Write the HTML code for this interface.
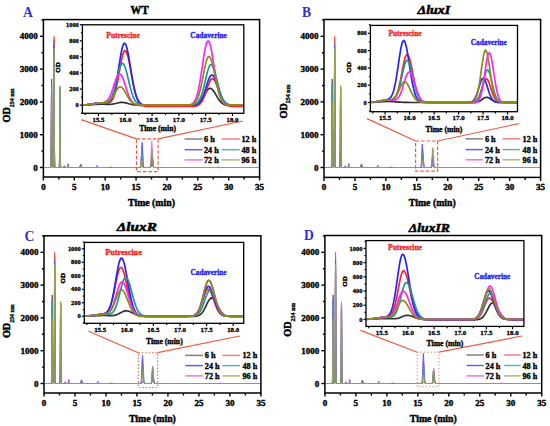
<!DOCTYPE html>
<html><head><meta charset="utf-8"><style>
html,body{margin:0;padding:0;background:#fff;}
body{width:550px;height:426px;overflow:hidden;}
svg{display:block;font-family:"Liberation Serif", serif;}
</style></head><body>
<svg width="550" height="426" viewBox="0 0 550 426">
<rect width="550" height="426" fill="#fff"/>
<polyline points="43.4,167.5 46.49,167.5 49.58,167.5 50.63,167.47 50.73,167.38 50.82,167.05 50.92,166 51.02,163.27 51.12,157.29 51.22,146.52 51.32,130.78 51.42,112.72 51.52,97.86 51.62,92.06 51.71,97.86 51.81,112.72 51.91,130.78 52.01,146.52 52.11,157.29 52.21,163.27 52.31,166 52.41,167.05 52.51,167.38 52.6,167.47 52.67,167.49 53.04,167.46 53.14,167.32 53.23,166.8 53.33,165.19 53.43,160.96 53.53,151.74 53.63,135.13 53.73,110.82 53.83,82.95 53.93,60.01 54.02,51.06 54.12,60.01 54.22,82.95 54.32,110.82 54.42,135.13 54.52,151.74 54.62,160.96 54.72,165.19 54.82,166.8 54.91,167.32 55.01,167.46 55.75,167.5 58.84,167.5 59.09,167.47 59.18,167.38 59.26,167.02 59.35,165.91 59.44,162.99 59.52,156.62 59.61,145.16 59.7,128.38 59.78,109.15 59.87,93.32 59.95,87.14 60.04,93.32 60.13,109.15 60.21,128.38 60.3,145.16 60.39,156.62 60.47,162.99 60.56,165.91 60.65,167.02 60.73,167.38 60.82,167.47 61.93,167.5 62.43,167.5 62.62,167.5 62.82,167.49 63.02,167.47 63.22,167.41 63.41,167.28 63.61,167.04 63.81,166.7 64.01,166.31 64.2,165.99 64.4,165.86 64.6,165.99 64.8,166.31 65,166.7 65.02,166.75 65.19,167.04 65.39,167.28 65.59,167.41 65.79,167.47 65.98,167.49 66.18,167.5 66.38,167.5 68.11,167.5 71.2,167.5 74.29,167.5 77.37,167.5 80.46,167.5 83.55,167.5 86.64,167.5 89.73,167.5 92.82,167.5 95.91,167.5 98.99,167.5 102.08,167.5 105.17,167.5 108.26,167.5 111.35,167.5 114.44,167.5 117.53,167.5 120.61,167.5 123.7,167.5 126.79,167.5 129.88,167.5 132.97,167.5 136.06,167.5 139.15,167.5 139.35,167.5 139.57,167.48 139.79,167.42 140.02,167.25 140.24,166.79 140.46,165.78 140.68,163.96 140.91,161.31 141.13,158.26 141.35,155.75 141.57,154.77 141.8,155.75 142.02,158.26 142.23,161.22 142.24,161.31 142.46,163.96 142.69,165.78 142.91,166.79 143.13,167.25 143.35,167.42 143.57,167.48 143.8,167.5 145.32,167.5 148.41,167.5 149.54,167.49 149.76,167.46 149.99,167.34 150.21,166.98 150.43,166.03 150.65,163.95 150.88,160.2 151.1,154.73 151.32,148.45 151.5,144.09 151.54,143.28 151.77,141.26 151.99,143.28 152.21,148.45 152.43,154.73 152.66,160.2 152.88,163.95 153.1,166.03 153.32,166.98 153.54,167.34 153.77,167.46 153.99,167.49 154.59,167.5 157.68,167.5 160.77,167.5 163.85,167.5 166.94,167.5 170.03,167.5 173.12,167.5 176.21,167.5 179.3,167.5 182.39,167.5 185.47,167.5 188.56,167.5 191.65,167.5 194.74,167.5 197.83,167.5 200.92,167.5 204.01,167.5 207.09,167.5 210.18,167.5 213.27,167.5 216.36,167.5 216.85,167.5 217.05,167.5 217.25,167.5 217.45,167.48 217.64,167.45 217.84,167.39 218.04,167.27 218.24,167.1 218.44,166.9 218.63,166.74 218.83,166.68 219.03,166.74 219.23,166.9 219.42,167.1 219.45,167.12 219.62,167.27 219.82,167.39 220.02,167.45 220.21,167.48 220.41,167.5 220.61,167.5 220.81,167.5 222.54,167.5 225.63,167.5 228.71,167.5 231.8,167.5 234.89,167.5 237.98,167.5 241.07,167.5 244.16,167.5 247.25,167.5 250.33,167.5 253.42,167.5 256.51,167.5 259.6,167.5" fill="none" stroke="#ff50ff" stroke-width="0.85" stroke-linejoin="round" />
<polyline points="43.4,167.5 46.49,167.5 49.58,167.5 50.63,167.47 50.73,167.36 50.82,166.97 50.92,165.74 51.02,162.53 51.12,155.51 51.22,142.88 51.32,124.39 51.42,103.19 51.52,85.75 51.62,78.94 51.71,85.75 51.81,103.19 51.91,124.39 52.01,142.88 52.11,155.51 52.21,162.53 52.31,165.74 52.41,166.97 52.51,167.36 52.6,167.47 52.67,167.49 53.04,167.46 53.14,167.3 53.23,166.74 53.33,164.96 53.43,160.32 53.53,150.19 53.63,131.93 53.73,105.23 53.83,74.61 53.93,49.41 54.02,39.58 54.12,49.41 54.22,74.61 54.32,105.23 54.42,131.93 54.52,150.19 54.62,160.32 54.72,164.96 54.82,166.74 54.91,167.3 55.01,167.46 55.75,167.5 58.84,167.5 59.09,167.47 59.18,167.38 59.26,167.02 59.35,165.91 59.44,162.99 59.52,156.62 59.61,145.16 59.7,128.38 59.78,109.15 59.87,93.32 59.95,87.14 60.04,93.32 60.13,109.15 60.21,128.38 60.3,145.16 60.39,156.62 60.47,162.99 60.56,165.91 60.65,167.02 60.73,167.38 60.82,167.47 61.93,167.5 65.02,167.5 66.63,167.5 66.77,167.49 66.92,167.48 67.07,167.42 67.22,167.28 67.37,166.97 67.52,166.41 67.66,165.58 67.81,164.64 67.96,163.87 68.11,163.56 68.26,163.87 68.41,164.64 68.55,165.58 68.7,166.41 68.85,166.97 69,167.28 69.15,167.42 69.29,167.48 69.44,167.49 69.59,167.5 71.2,167.5 74.29,167.5 77.37,167.5 78.8,167.5 78.99,167.5 79.19,167.49 79.39,167.46 79.59,167.39 79.78,167.23 79.98,166.95 80.18,166.54 80.38,166.07 80.46,165.88 80.57,165.68 80.77,165.53 80.97,165.68 81.17,166.07 81.36,166.54 81.56,166.95 81.76,167.23 81.96,167.39 82.16,167.46 82.35,167.49 82.55,167.5 82.75,167.5 83.55,167.5 86.64,167.5 89.73,167.5 92.82,167.5 95.91,167.5 98.99,167.5 102.08,167.5 105.17,167.5 108.26,167.5 111.35,167.5 114.44,167.5 117.53,167.5 120.61,167.5 123.7,167.5 126.79,167.5 129.88,167.5 132.97,167.5 136.06,167.5 139.15,167.5 139.64,167.5 139.86,167.5 140.08,167.49 140.31,167.48 140.53,167.44 140.75,167.37 140.97,167.23 141.2,167.02 141.42,166.79 141.64,166.59 141.86,166.52 142.09,166.59 142.23,166.71 142.31,166.79 142.53,167.02 142.75,167.23 142.98,167.37 143.2,167.44 143.42,167.48 143.64,167.49 143.87,167.5 144.09,167.5 145.32,167.5 148.41,167.5 149.78,167.5 150.01,167.49 150.23,167.46 150.45,167.36 150.67,167.11 150.89,166.57 151.12,165.58 151.34,164.15 151.5,162.95 151.56,162.5 151.78,161.14 152.01,160.61 152.23,161.14 152.45,162.5 152.67,164.15 152.9,165.58 153.12,166.57 153.34,167.11 153.56,167.36 153.79,167.46 154.01,167.49 154.23,167.5 154.59,167.5 157.68,167.5 160.77,167.5 163.85,167.5 166.94,167.5 170.03,167.5 173.12,167.5 176.21,167.5 179.3,167.5 182.39,167.5 185.47,167.5 188.56,167.5 191.65,167.5 194.74,167.5 197.83,167.5 200.92,167.5 204.01,167.5 207.09,167.5 210.18,167.5 213.27,167.5 216.36,167.5 219.45,167.5 222.54,167.5 225.63,167.5 228.71,167.5 231.8,167.5 234.89,167.5 237.98,167.5 241.07,167.5 244.16,167.5 247.25,167.5 250.33,167.5 253.42,167.5 256.51,167.5 259.6,167.5" fill="none" stroke="#505050" stroke-width="0.85" stroke-linejoin="round" />
<polyline points="43.4,167.5 46.49,167.5 49.58,167.5 50.44,167.48 50.54,167.39 50.64,167.08 50.74,166.1 50.84,163.54 50.94,157.96 51.03,147.89 51.13,133.17 51.23,116.29 51.33,102.4 51.43,96.98 51.53,102.4 51.63,116.29 51.73,133.17 51.83,147.89 51.92,157.96 52.02,163.54 52.12,166.1 52.22,167.08 52.32,167.39 52.42,167.48 52.67,167.5 53.04,167.46 53.14,167.3 53.23,166.72 53.33,164.9 53.43,160.14 53.53,149.74 53.63,131.02 53.73,103.64 53.83,72.23 53.93,46.39 54.02,36.3 54.12,46.39 54.22,72.23 54.32,103.64 54.42,131.02 54.52,149.74 54.62,160.14 54.72,164.9 54.82,166.72 54.91,167.3 55.01,167.46 55.75,167.5 58.84,167.5 59.09,167.47 59.18,167.38 59.26,167.02 59.35,165.91 59.44,162.99 59.52,156.62 59.61,145.16 59.7,128.38 59.78,109.15 59.87,93.32 59.95,87.14 60.04,93.32 60.13,109.15 60.21,128.38 60.3,145.16 60.39,156.62 60.47,162.99 60.56,165.91 60.65,167.02 60.73,167.38 60.82,167.47 61.93,167.5 62.43,167.5 62.62,167.5 62.82,167.49 63.02,167.47 63.22,167.43 63.41,167.32 63.61,167.14 63.81,166.86 64.01,166.55 64.2,166.29 64.4,166.19 64.6,166.29 64.8,166.55 65,166.86 65.02,166.9 65.19,167.14 65.39,167.32 65.59,167.43 65.79,167.47 65.98,167.49 66.18,167.5 66.38,167.5 68.11,167.5 71.2,167.5 74.29,167.5 77.37,167.5 78.8,167.5 78.99,167.49 79.19,167.48 79.39,167.43 79.59,167.3 79.78,167.01 79.98,166.5 80.18,165.74 80.38,164.88 80.46,164.53 80.57,164.17 80.77,163.89 80.97,164.17 81.17,164.88 81.36,165.74 81.56,166.5 81.76,167.01 81.96,167.3 82.16,167.43 82.35,167.48 82.55,167.49 82.75,167.5 83.55,167.5 86.64,167.5 89.73,167.5 92.82,167.5 95.91,167.5 98.99,167.5 102.08,167.5 105.17,167.5 108.26,167.5 111.35,167.5 114.44,167.5 117.53,167.5 120.61,167.5 123.7,167.5 126.79,167.5 129.88,167.5 132.97,167.5 136.06,167.5 139.15,167.5 139.98,167.49 140.2,167.47 140.42,167.37 140.65,167.07 140.87,166.28 141.09,164.56 141.31,161.46 141.54,156.93 141.76,151.73 141.98,147.46 142.2,145.79 142.23,145.82 142.43,147.46 142.65,151.73 142.87,156.93 143.09,161.46 143.32,164.56 143.54,166.28 143.76,167.07 143.98,167.37 144.2,167.47 144.43,167.49 145.32,167.5 148.41,167.5 150.05,167.5 150.27,167.48 150.49,167.44 150.72,167.29 150.94,166.89 151.16,166.04 151.38,164.49 151.5,163.37 151.61,162.23 151.83,159.64 152.05,157.51 152.27,156.68 152.49,157.51 152.72,159.64 152.94,162.23 153.16,164.49 153.38,166.04 153.61,166.89 153.83,167.29 154.05,167.44 154.27,167.48 154.5,167.5 154.59,167.5 157.68,167.5 160.77,167.5 163.85,167.5 166.94,167.5 170.03,167.5 173.12,167.5 176.21,167.5 179.3,167.5 182.39,167.5 185.47,167.5 188.56,167.5 191.65,167.5 194.74,167.5 197.83,167.5 200.92,167.5 204.01,167.5 207.09,167.5 210.18,167.5 213.27,167.5 216.36,167.5 219.45,167.5 222.54,167.5 225.63,167.5 228.71,167.5 231.8,167.5 234.89,167.5 237.98,167.5 241.07,167.5 244.16,167.5 247.25,167.5 250.33,167.5 253.42,167.5 256.51,167.5 259.6,167.5" fill="none" stroke="#ff4a4a" stroke-width="0.85" stroke-linejoin="round" />
<polyline points="43.4,167.5 46.49,167.5 49.58,167.5 50.63,167.47 50.73,167.37 50.82,167 50.92,165.84 51.02,162.8 51.12,156.18 51.22,144.24 51.32,126.79 51.42,106.76 51.52,90.29 51.62,83.86 51.71,90.29 51.81,106.76 51.91,126.79 52.01,144.24 52.11,156.18 52.21,162.8 52.31,165.84 52.41,167 52.51,167.37 52.6,167.47 52.67,167.49 53.04,167.46 53.14,167.31 53.23,166.76 53.33,165.06 53.43,160.6 53.53,150.85 53.63,133.3 53.73,107.63 53.83,78.18 53.93,53.96 54.02,44.5 54.12,53.96 54.22,78.18 54.32,107.63 54.42,133.3 54.52,150.85 54.62,160.6 54.72,165.06 54.82,166.76 54.91,167.31 55.01,167.46 55.75,167.5 58.84,167.5 59.09,167.47 59.18,167.38 59.26,167.02 59.35,165.91 59.44,162.99 59.52,156.62 59.61,145.16 59.7,128.38 59.78,109.15 59.87,93.32 59.95,87.14 60.04,93.32 60.13,109.15 60.21,128.38 60.3,145.16 60.39,156.62 60.47,162.99 60.56,165.91 60.65,167.02 60.73,167.38 60.82,167.47 61.93,167.5 62.43,167.5 62.62,167.5 62.82,167.49 63.02,167.47 63.22,167.43 63.41,167.32 63.61,167.14 63.81,166.86 64.01,166.55 64.2,166.29 64.4,166.19 64.6,166.29 64.8,166.55 65,166.86 65.02,166.9 65.19,167.14 65.39,167.32 65.59,167.43 65.79,167.47 65.98,167.49 66.18,167.5 66.38,167.5 68.11,167.5 71.2,167.5 74.29,167.5 77.37,167.5 78.8,167.5 78.99,167.5 79.19,167.48 79.39,167.44 79.59,167.33 79.78,167.1 79.98,166.68 80.18,166.06 80.38,165.36 80.46,165.07 80.57,164.77 80.77,164.55 80.97,164.77 81.17,165.36 81.36,166.06 81.56,166.68 81.76,167.1 81.96,167.33 82.16,167.44 82.35,167.48 82.55,167.5 82.75,167.5 83.55,167.5 86.64,167.5 89.73,167.5 92.82,167.5 95.16,167.5 95.36,167.5 95.56,167.49 95.76,167.45 95.91,167.4 95.96,167.37 96.15,167.19 96.35,166.86 96.55,166.38 96.75,165.83 96.94,165.38 97.14,165.2 97.34,165.38 97.54,165.83 97.73,166.38 97.93,166.86 98.13,167.19 98.33,167.37 98.52,167.45 98.72,167.49 98.92,167.5 98.99,167.5 99.12,167.5 102.08,167.5 105.17,167.5 108.26,167.5 111.35,167.5 114.44,167.5 117.53,167.5 120.61,167.5 123.7,167.5 126.79,167.5 129.88,167.5 132.97,167.5 136.06,167.5 139.15,167.5 139.92,167.49 140.14,167.46 140.36,167.35 140.58,167 140.81,166.08 141.03,164.08 141.25,160.48 141.47,155.21 141.7,149.16 141.92,144.19 142.14,142.24 142.23,142.59 142.36,144.19 142.59,149.16 142.81,155.21 143.03,160.48 143.25,164.08 143.48,166.08 143.7,167 143.92,167.35 144.14,167.46 144.37,167.49 145.32,167.5 148.41,167.5 149.99,167.5 150.21,167.48 150.43,167.43 150.65,167.26 150.88,166.81 151.1,165.84 151.32,164.08 151.5,162.06 151.54,161.51 151.77,158.57 151.99,156.15 152.21,155.2 152.43,156.15 152.66,158.57 152.88,161.51 153.1,164.08 153.32,165.84 153.54,166.81 153.77,167.26 153.99,167.43 154.21,167.48 154.43,167.5 154.59,167.5 157.68,167.5 160.77,167.5 163.85,167.5 166.94,167.5 170.03,167.5 173.12,167.5 176.21,167.5 179.3,167.5 182.39,167.5 185.47,167.5 188.56,167.5 191.65,167.5 194.74,167.5 197.83,167.5 200.92,167.5 204.01,167.5 207.09,167.5 210.18,167.5 213.27,167.5 216.36,167.5 219.45,167.5 222.54,167.5 225.63,167.5 228.71,167.5 231.8,167.5 234.89,167.5 237.98,167.5 241.07,167.5 244.16,167.5 247.25,167.5 250.33,167.5 253.42,167.5 256.51,167.5 259.6,167.5" fill="none" stroke="#4a4aff" stroke-width="0.85" stroke-linejoin="round" />
<polyline points="43.4,167.5 46.49,167.5 49.58,167.5 50.63,167.47 50.73,167.37 50.82,167.01 50.92,165.87 51.02,162.9 51.12,156.4 51.22,144.7 51.32,127.59 51.42,107.96 51.52,91.8 51.62,85.5 51.71,91.8 51.81,107.96 51.91,127.59 52.01,144.7 52.11,156.4 52.21,162.9 52.31,165.87 52.41,167.01 52.51,167.37 52.6,167.47 52.67,167.49 53.04,167.46 53.14,167.32 53.23,166.78 53.33,165.12 53.43,160.78 53.53,151.3 53.63,134.21 53.73,109.23 53.83,80.57 53.93,56.98 54.02,47.78 54.12,56.98 54.22,80.57 54.32,109.23 54.42,134.21 54.52,151.3 54.62,160.78 54.72,165.12 54.82,166.78 54.91,167.32 55.01,167.46 55.75,167.5 58.84,167.5 59.09,167.47 59.18,167.38 59.26,167.02 59.35,165.91 59.44,162.99 59.52,156.62 59.61,145.16 59.7,128.38 59.78,109.15 59.87,93.32 59.95,87.14 60.04,93.32 60.13,109.15 60.21,128.38 60.3,145.16 60.39,156.62 60.47,162.99 60.56,165.91 60.65,167.02 60.73,167.38 60.82,167.47 61.93,167.5 65.02,167.5 68.11,167.5 71.2,167.5 74.29,167.5 77.37,167.5 78.8,167.5 78.99,167.5 79.19,167.49 79.39,167.45 79.59,167.37 79.78,167.19 79.98,166.86 80.18,166.38 80.38,165.83 80.46,165.61 80.57,165.38 80.77,165.2 80.97,165.38 81.17,165.83 81.36,166.38 81.56,166.86 81.76,167.19 81.96,167.37 82.16,167.45 82.35,167.49 82.55,167.5 82.75,167.5 83.55,167.5 86.64,167.5 89.73,167.5 92.82,167.5 95.91,167.5 98.99,167.5 102.08,167.5 105.17,167.5 108.26,167.5 111.35,167.5 114.44,167.5 117.53,167.5 120.61,167.5 123.7,167.5 126.79,167.5 129.88,167.5 132.97,167.5 136.06,167.5 139.15,167.5 139.68,167.49 139.91,167.47 140.13,167.4 140.35,167.16 140.57,166.54 140.8,165.19 141.02,162.75 141.24,159.18 141.46,155.09 141.68,151.73 141.91,150.41 142.13,151.73 142.23,153.13 142.35,155.09 142.57,159.18 142.8,162.75 143.02,165.19 143.24,166.54 143.46,167.16 143.69,167.4 143.91,167.47 144.13,167.49 145.32,167.5 148.41,167.5 149.89,167.49 150.12,167.47 150.34,167.4 150.56,167.17 150.78,166.57 151.01,165.26 151.23,162.89 151.45,159.44 151.5,158.57 151.67,155.47 151.9,152.21 152.12,150.94 152.34,152.21 152.56,155.47 152.78,159.44 153.01,162.89 153.23,165.26 153.45,166.57 153.67,167.17 153.9,167.4 154.12,167.47 154.34,167.49 154.59,167.5 157.68,167.5 160.77,167.5 163.85,167.5 166.94,167.5 170.03,167.5 173.12,167.5 176.21,167.5 179.3,167.5 182.39,167.5 185.47,167.5 188.56,167.5 191.65,167.5 194.74,167.5 197.83,167.5 200.92,167.5 204.01,167.5 207.09,167.5 210.18,167.5 213.27,167.5 216.36,167.5 219.45,167.5 222.54,167.5 225.63,167.5 228.71,167.5 231.8,167.5 234.89,167.5 237.98,167.5 241.07,167.5 244.16,167.5 247.25,167.5 250.33,167.5 253.42,167.5 256.51,167.5 259.6,167.5" fill="none" stroke="#40a4a4" stroke-width="0.85" stroke-linejoin="round" />
<polyline points="43.4,167.5 46.49,167.5 49.58,167.5 50.63,167.48 50.73,167.4 50.82,167.11 50.92,166.2 51.02,163.82 51.12,158.62 51.22,149.26 51.32,135.57 51.42,119.86 51.52,106.94 51.62,101.9 51.71,106.94 51.81,119.86 51.91,135.57 52.01,149.26 52.11,158.62 52.21,163.82 52.31,166.2 52.41,167.11 52.51,167.4 52.6,167.48 52.67,167.49 53.04,167.46 53.14,167.32 53.23,166.79 53.33,165.16 53.43,160.87 53.53,151.52 53.63,134.67 53.73,110.02 53.83,81.76 53.93,58.5 54.02,49.42 54.12,58.5 54.22,81.76 54.32,110.02 54.42,134.67 54.52,151.52 54.62,160.87 54.72,165.16 54.82,166.79 54.91,167.32 55.01,167.46 55.75,167.5 58.84,167.5 59.09,167.47 59.18,167.37 59.26,167.01 59.35,165.87 59.44,162.9 59.52,156.4 59.61,144.7 59.7,127.59 59.78,107.96 59.87,91.8 59.95,85.5 60.04,91.8 60.13,107.96 60.21,127.59 60.3,144.7 60.39,156.4 60.47,162.9 60.56,165.87 60.65,167.01 60.73,167.37 60.82,167.47 61.93,167.5 65.02,167.5 68.11,167.5 71.2,167.5 74.29,167.5 77.37,167.5 80.46,167.5 83.55,167.5 86.64,167.5 89.73,167.5 92.82,167.5 95.91,167.5 98.99,167.5 102.08,167.5 105.17,167.5 107.77,167.5 108.06,167.5 108.26,167.5 108.36,167.5 108.66,167.48 108.95,167.45 109.25,167.39 109.54,167.27 109.84,167.1 110.14,166.9 110.43,166.74 110.73,166.68 111.03,166.74 111.32,166.9 111.35,166.92 111.62,167.1 111.92,167.27 112.21,167.39 112.51,167.45 112.81,167.48 113.1,167.5 113.4,167.5 113.7,167.5 114.44,167.5 117.53,167.5 120.61,167.5 123.7,167.5 126.79,167.5 129.88,167.5 132.97,167.5 136.06,167.5 139.15,167.5 139.44,167.5 139.66,167.49 139.89,167.46 140.11,167.35 140.33,167.08 140.55,166.49 140.78,165.42 141,163.86 141.22,162.07 141.44,160.6 141.67,160.02 141.89,160.6 142.11,162.07 142.23,163.06 142.33,163.86 142.56,165.42 142.78,166.49 143,167.08 143.22,167.35 143.45,167.46 143.67,167.49 143.89,167.5 145.32,167.5 148.41,167.5 149.65,167.49 149.87,167.47 150.09,167.38 150.31,167.11 150.54,166.38 150.76,164.81 150.98,161.97 151.2,157.82 151.43,153.07 151.5,151.58 151.65,149.15 151.87,147.62 152.09,149.15 152.32,153.07 152.54,157.82 152.76,161.97 152.98,164.81 153.2,166.38 153.43,167.11 153.65,167.38 153.87,167.47 154.09,167.49 154.59,167.5 157.68,167.5 160.77,167.5 163.85,167.5 166.94,167.5 170.03,167.5 173.12,167.5 176.21,167.5 179.3,167.5 182.39,167.5 185.47,167.5 188.56,167.5 191.65,167.5 194.74,167.5 197.83,167.5 200.92,167.5 204.01,167.5 207.09,167.5 210.18,167.5 213.27,167.5 216.36,167.5 219.45,167.5 222.54,167.5 225.63,167.5 228.71,167.5 231.8,167.5 234.89,167.5 237.98,167.5 241.07,167.5 244.16,167.5 247.25,167.5 250.33,167.5 253.42,167.5 256.51,167.5 259.6,167.5" fill="none" stroke="#a2a248" stroke-width="0.85" stroke-linejoin="round" />
<rect x="43.4" y="19.6" width="216.2" height="157.4" fill="none" stroke="#000" stroke-width="1.5"/>
<line x1="43.4" y1="177" x2="43.4" y2="180.5" stroke="#000" stroke-width="1.4" />
<text x="43.4" y="189.5" font-size="9" text-anchor="middle" fill="#000" stroke="#000" stroke-width="0.4" font-weight="bold" font-style="normal" >0</text>
<line x1="58.84" y1="177" x2="58.84" y2="179.5" stroke="#000" stroke-width="1.4" />
<line x1="74.29" y1="177" x2="74.29" y2="180.5" stroke="#000" stroke-width="1.4" />
<text x="74.29" y="189.5" font-size="9" text-anchor="middle" fill="#000" stroke="#000" stroke-width="0.4" font-weight="bold" font-style="normal" >5</text>
<line x1="89.73" y1="177" x2="89.73" y2="179.5" stroke="#000" stroke-width="1.4" />
<line x1="105.17" y1="177" x2="105.17" y2="180.5" stroke="#000" stroke-width="1.4" />
<text x="105.17" y="189.5" font-size="9" text-anchor="middle" fill="#000" stroke="#000" stroke-width="0.4" font-weight="bold" font-style="normal" >10</text>
<line x1="120.61" y1="177" x2="120.61" y2="179.5" stroke="#000" stroke-width="1.4" />
<line x1="136.06" y1="177" x2="136.06" y2="180.5" stroke="#000" stroke-width="1.4" />
<text x="136.06" y="189.5" font-size="9" text-anchor="middle" fill="#000" stroke="#000" stroke-width="0.4" font-weight="bold" font-style="normal" >15</text>
<line x1="151.5" y1="177" x2="151.5" y2="179.5" stroke="#000" stroke-width="1.4" />
<line x1="166.94" y1="177" x2="166.94" y2="180.5" stroke="#000" stroke-width="1.4" />
<text x="166.94" y="189.5" font-size="9" text-anchor="middle" fill="#000" stroke="#000" stroke-width="0.4" font-weight="bold" font-style="normal" >20</text>
<line x1="182.39" y1="177" x2="182.39" y2="179.5" stroke="#000" stroke-width="1.4" />
<line x1="197.83" y1="177" x2="197.83" y2="180.5" stroke="#000" stroke-width="1.4" />
<text x="197.83" y="189.5" font-size="9" text-anchor="middle" fill="#000" stroke="#000" stroke-width="0.4" font-weight="bold" font-style="normal" >25</text>
<line x1="213.27" y1="177" x2="213.27" y2="179.5" stroke="#000" stroke-width="1.4" />
<line x1="228.71" y1="177" x2="228.71" y2="180.5" stroke="#000" stroke-width="1.4" />
<text x="228.71" y="189.5" font-size="9" text-anchor="middle" fill="#000" stroke="#000" stroke-width="0.4" font-weight="bold" font-style="normal" >30</text>
<line x1="244.16" y1="177" x2="244.16" y2="179.5" stroke="#000" stroke-width="1.4" />
<line x1="259.6" y1="177" x2="259.6" y2="180.5" stroke="#000" stroke-width="1.4" />
<text x="259.6" y="189.5" font-size="9" text-anchor="middle" fill="#000" stroke="#000" stroke-width="0.4" font-weight="bold" font-style="normal" >35</text>
<line x1="39.9" y1="167.5" x2="43.4" y2="167.5" stroke="#000" stroke-width="1.4" />
<text x="37.8" y="170.5" font-size="9" text-anchor="end" fill="#000" stroke="#000" stroke-width="0.4" font-weight="bold" font-style="normal" >0</text>
<line x1="41.4" y1="151.1" x2="43.4" y2="151.1" stroke="#000" stroke-width="1.4" />
<line x1="39.9" y1="134.7" x2="43.4" y2="134.7" stroke="#000" stroke-width="1.4" />
<text x="37.8" y="137.7" font-size="9" text-anchor="end" fill="#000" stroke="#000" stroke-width="0.4" font-weight="bold" font-style="normal" >1000</text>
<line x1="41.4" y1="118.3" x2="43.4" y2="118.3" stroke="#000" stroke-width="1.4" />
<line x1="39.9" y1="101.9" x2="43.4" y2="101.9" stroke="#000" stroke-width="1.4" />
<text x="37.8" y="104.9" font-size="9" text-anchor="end" fill="#000" stroke="#000" stroke-width="0.4" font-weight="bold" font-style="normal" >2000</text>
<line x1="41.4" y1="85.5" x2="43.4" y2="85.5" stroke="#000" stroke-width="1.4" />
<line x1="39.9" y1="69.1" x2="43.4" y2="69.1" stroke="#000" stroke-width="1.4" />
<text x="37.8" y="72.1" font-size="9" text-anchor="end" fill="#000" stroke="#000" stroke-width="0.4" font-weight="bold" font-style="normal" >3000</text>
<line x1="41.4" y1="52.7" x2="43.4" y2="52.7" stroke="#000" stroke-width="1.4" />
<line x1="39.9" y1="36.3" x2="43.4" y2="36.3" stroke="#000" stroke-width="1.4" />
<text x="37.8" y="39.3" font-size="9" text-anchor="end" fill="#000" stroke="#000" stroke-width="0.4" font-weight="bold" font-style="normal" >4000</text>
<line x1="41.4" y1="19.9" x2="43.4" y2="19.9" stroke="#000" stroke-width="1.4" />
<text x="151.5" y="206" font-size="9.8" text-anchor="middle" fill="#000" stroke="#000" stroke-width="0.44" font-weight="bold" font-style="normal" >Time (min)</text>
<text transform="translate(10,105.5) rotate(-90)" font-size="10.2" text-anchor="middle" font-weight="bold" stroke="#000" stroke-width="0.5">OD<tspan stroke-width="0.3"  font-size="5.92" dy="3.8">254 nm</tspan></text>
<text x="23" y="17" font-size="13.6" text-anchor="start" fill="#2e2ed8" stroke="#2e2ed8" stroke-width="0" font-weight="bold" font-style="normal" >A</text>
<text x="139.6" y="13.7" font-size="13.2" text-anchor="middle" fill="#000" stroke="#000" stroke-width="0.59" font-weight="bold" font-style="normal" textLength="18" lengthAdjust="spacingAndGlyphs">WT</text>
<rect x="136.5" y="138.9" width="21.6" height="32.7" fill="none" stroke="#f05a40" stroke-width="1.2" stroke-dasharray="3.5,2"/>
<line x1="81.1" y1="119.6" x2="136.5" y2="138.9" stroke="#f05a40" stroke-width="1.2" />
<line x1="158.1" y1="138.9" x2="243" y2="121" stroke="#f05a40" stroke-width="1.2" />
<line x1="184.6" y1="139" x2="202.6" y2="139" stroke="#808080" stroke-width="1.5" />
<text x="204" y="142" font-size="8.2" text-anchor="start" fill="#000" stroke="#000" stroke-width="0.37" font-weight="bold" font-style="normal" >6 h</text>
<line x1="221.7" y1="139" x2="239.7" y2="139" stroke="#f48080" stroke-width="1.5" />
<text x="241.5" y="142" font-size="8.2" text-anchor="start" fill="#000" stroke="#000" stroke-width="0.37" font-weight="bold" font-style="normal" >12 h</text>
<line x1="184.6" y1="149.7" x2="202.6" y2="149.7" stroke="#6060f0" stroke-width="1.5" />
<text x="204" y="152.7" font-size="8.2" text-anchor="start" fill="#000" stroke="#000" stroke-width="0.37" font-weight="bold" font-style="normal" >24 h</text>
<line x1="221.7" y1="149.7" x2="239.7" y2="149.7" stroke="#60b4b4" stroke-width="1.5" />
<text x="241.5" y="152.7" font-size="8.2" text-anchor="start" fill="#000" stroke="#000" stroke-width="0.37" font-weight="bold" font-style="normal" >48 h</text>
<line x1="184.6" y1="159.9" x2="202.6" y2="159.9" stroke="#f070f0" stroke-width="1.5" />
<text x="204" y="162.9" font-size="8.2" text-anchor="start" fill="#000" stroke="#000" stroke-width="0.37" font-weight="bold" font-style="normal" >72 h</text>
<line x1="221.7" y1="159.9" x2="239.7" y2="159.9" stroke="#b4b478" stroke-width="1.5" />
<text x="241.5" y="162.9" font-size="8.2" text-anchor="start" fill="#000" stroke="#000" stroke-width="0.37" font-weight="bold" font-style="normal" >96 h</text>
<polyline points="324,167.5 327.09,167.5 330.19,167.5 331.24,167.47 331.34,167.38 331.44,167.05 331.54,166 331.64,163.27 331.74,157.29 331.83,146.52 331.93,130.78 332.03,112.72 332.13,97.86 332.23,92.06 332.33,97.86 332.43,112.72 332.53,130.78 332.63,146.52 332.73,157.29 332.82,163.27 332.92,166 333.02,167.05 333.12,167.38 333.22,167.47 333.28,167.49 333.65,167.46 333.75,167.32 333.85,166.8 333.95,165.19 334.05,160.96 334.15,151.74 334.25,135.13 334.35,110.82 334.45,82.95 334.55,60.01 334.64,51.06 334.74,60.01 334.84,82.95 334.94,110.82 335.04,135.13 335.14,151.74 335.24,160.96 335.34,165.19 335.44,166.8 335.54,167.32 335.63,167.46 336.38,167.5 339.47,167.5 339.72,167.47 339.81,167.38 339.89,167.02 339.98,165.91 340.07,162.99 340.15,156.62 340.24,145.16 340.33,128.38 340.41,109.15 340.5,93.32 340.59,87.14 340.67,93.32 340.76,109.15 340.85,128.38 340.93,145.16 341.02,156.62 341.11,162.99 341.19,165.91 341.28,167.02 341.37,167.38 341.45,167.47 342.57,167.5 343.06,167.5 343.26,167.5 343.46,167.49 343.65,167.47 343.85,167.41 344.05,167.28 344.25,167.04 344.45,166.7 344.65,166.31 344.84,165.99 345.04,165.86 345.24,165.99 345.44,166.31 345.64,166.7 345.66,166.75 345.83,167.04 346.03,167.28 346.23,167.41 346.43,167.47 346.63,167.49 346.82,167.5 347.02,167.5 348.75,167.5 351.85,167.5 354.94,167.5 358.04,167.5 361.13,167.5 364.23,167.5 367.32,167.5 370.41,167.5 373.51,167.5 376.6,167.5 379.7,167.5 382.79,167.5 385.89,167.5 388.98,167.5 392.07,167.5 395.17,167.5 398.26,167.5 401.36,167.5 404.45,167.5 407.55,167.5 410.64,167.5 413.73,167.5 416.83,167.5 419.92,167.5 420.73,167.5 420.95,167.48 421.17,167.43 421.4,167.27 421.62,166.86 421.84,165.96 422.06,164.34 422.29,161.96 422.51,159.24 422.73,156.99 422.96,156.12 423.02,156.19 423.18,156.99 423.4,159.24 423.62,161.96 423.85,164.34 424.07,165.96 424.29,166.86 424.51,167.27 424.74,167.43 424.96,167.48 425.18,167.5 426.11,167.5 429.21,167.5 430.85,167.49 431.07,167.47 431.29,167.39 431.51,167.13 431.74,166.44 431.96,164.95 432.18,162.26 432.3,160.31 432.41,158.32 432.63,153.8 432.85,150.09 433.07,148.64 433.3,150.09 433.52,153.8 433.74,158.32 433.96,162.26 434.19,164.95 434.41,166.44 434.63,167.13 434.86,167.39 435.08,167.47 435.3,167.49 435.39,167.5 438.49,167.5 441.58,167.5 444.68,167.5 447.77,167.5 450.87,167.5 453.96,167.5 457.05,167.5 460.15,167.5 463.24,167.5 466.34,167.5 469.43,167.5 472.53,167.5 475.62,167.5 478.71,167.5 481.81,167.5 484.9,167.5 488,167.5 491.09,167.5 494.19,167.5 497.28,167.5 497.78,167.5 497.97,167.5 498.17,167.5 498.37,167.48 498.57,167.45 498.77,167.39 498.96,167.27 499.16,167.1 499.36,166.9 499.56,166.74 499.76,166.68 499.95,166.74 500.15,166.9 500.35,167.1 500.37,167.12 500.55,167.27 500.75,167.39 500.94,167.45 501.14,167.48 501.34,167.5 501.54,167.5 501.74,167.5 503.47,167.5 506.56,167.5 509.66,167.5 512.75,167.5 515.85,167.5 518.94,167.5 522.03,167.5 525.13,167.5 528.22,167.5 531.32,167.5 534.41,167.5 537.51,167.5 540.6,167.5" fill="none" stroke="#ff50ff" stroke-width="0.85" stroke-linejoin="round" />
<polyline points="324,167.5 327.09,167.5 330.19,167.5 331.24,167.47 331.34,167.36 331.44,166.97 331.54,165.74 331.64,162.53 331.74,155.51 331.83,142.88 331.93,124.39 332.03,103.19 332.13,85.75 332.23,78.94 332.33,85.75 332.43,103.19 332.53,124.39 332.63,142.88 332.73,155.51 332.82,162.53 332.92,165.74 333.02,166.97 333.12,167.36 333.22,167.47 333.28,167.49 333.65,167.46 333.75,167.3 333.85,166.74 333.95,164.96 334.05,160.32 334.15,150.19 334.25,131.93 334.35,105.23 334.45,74.61 334.55,49.41 334.64,39.58 334.74,49.41 334.84,74.61 334.94,105.23 335.04,131.93 335.14,150.19 335.24,160.32 335.34,164.96 335.44,166.74 335.54,167.3 335.63,167.46 336.38,167.5 339.47,167.5 339.72,167.47 339.81,167.38 339.89,167.02 339.98,165.91 340.07,162.99 340.15,156.62 340.24,145.16 340.33,128.38 340.41,109.15 340.5,93.32 340.59,87.14 340.67,93.32 340.76,109.15 340.85,128.38 340.93,145.16 341.02,156.62 341.11,162.99 341.19,165.91 341.28,167.02 341.37,167.38 341.45,167.47 342.57,167.5 345.66,167.5 347.27,167.5 347.42,167.49 347.57,167.48 347.71,167.42 347.86,167.28 348.01,166.97 348.16,166.41 348.31,165.58 348.46,164.64 348.61,163.87 348.75,163.56 348.9,163.87 349.05,164.64 349.2,165.58 349.35,166.41 349.5,166.97 349.65,167.28 349.79,167.42 349.94,167.48 350.09,167.49 350.24,167.5 351.85,167.5 354.94,167.5 358.04,167.5 359.46,167.5 359.66,167.5 359.86,167.49 360.05,167.46 360.25,167.39 360.45,167.23 360.65,166.95 360.85,166.54 361.04,166.07 361.13,165.88 361.24,165.68 361.44,165.53 361.64,165.68 361.84,166.07 362.03,166.54 362.23,166.95 362.43,167.23 362.63,167.39 362.83,167.46 363.03,167.49 363.22,167.5 363.42,167.5 364.23,167.5 367.32,167.5 370.41,167.5 373.51,167.5 376.6,167.5 379.7,167.5 382.79,167.5 385.89,167.5 388.98,167.5 392.07,167.5 395.17,167.5 398.26,167.5 401.36,167.5 404.45,167.5 407.55,167.5 410.64,167.5 413.73,167.5 416.83,167.5 419.92,167.5 420.17,167.5 420.39,167.5 420.62,167.5 420.84,167.5 421.06,167.5 421.28,167.5 421.51,167.5 421.73,167.5 421.95,167.5 422.18,167.5 422.4,167.5 422.62,167.5 422.84,167.5 423.02,167.5 423.07,167.5 423.29,167.5 423.51,167.5 423.74,167.5 423.96,167.5 424.18,167.5 424.4,167.5 424.63,167.5 426.11,167.5 429.21,167.5 430.51,167.5 430.73,167.5 430.95,167.49 431.17,167.46 431.4,167.39 431.62,167.23 431.84,166.95 432.06,166.54 432.29,166.07 432.3,166.05 432.51,165.68 432.73,165.53 432.96,165.68 433.18,166.07 433.4,166.54 433.62,166.95 433.85,167.23 434.07,167.39 434.29,167.46 434.52,167.49 434.74,167.5 434.96,167.5 435.39,167.5 438.49,167.5 441.58,167.5 444.68,167.5 447.77,167.5 450.87,167.5 453.96,167.5 457.05,167.5 460.15,167.5 463.24,167.5 466.34,167.5 469.43,167.5 472.53,167.5 475.62,167.5 478.71,167.5 481.81,167.5 484.9,167.5 488,167.5 491.09,167.5 494.19,167.5 497.28,167.5 500.37,167.5 503.47,167.5 506.56,167.5 509.66,167.5 512.75,167.5 515.85,167.5 518.94,167.5 522.03,167.5 525.13,167.5 528.22,167.5 531.32,167.5 534.41,167.5 537.51,167.5 540.6,167.5" fill="none" stroke="#505050" stroke-width="0.85" stroke-linejoin="round" />
<polyline points="324,167.5 327.09,167.5 330.19,167.5 331.05,167.48 331.15,167.39 331.25,167.08 331.35,166.1 331.45,163.54 331.55,157.96 331.65,147.89 331.75,133.17 331.85,116.29 331.95,102.4 332.05,96.98 332.14,102.4 332.24,116.29 332.34,133.17 332.44,147.89 332.54,157.96 332.64,163.54 332.74,166.1 332.84,167.08 332.94,167.39 333.04,167.48 333.28,167.5 333.65,167.46 333.75,167.3 333.85,166.72 333.95,164.9 334.05,160.14 334.15,149.74 334.25,131.02 334.35,103.64 334.45,72.23 334.55,46.39 334.64,36.3 334.74,46.39 334.84,72.23 334.94,103.64 335.04,131.02 335.14,149.74 335.24,160.14 335.34,164.9 335.44,166.72 335.54,167.3 335.63,167.46 336.38,167.5 339.47,167.5 339.72,167.47 339.81,167.38 339.89,167.02 339.98,165.91 340.07,162.99 340.15,156.62 340.24,145.16 340.33,128.38 340.41,109.15 340.5,93.32 340.59,87.14 340.67,93.32 340.76,109.15 340.85,128.38 340.93,145.16 341.02,156.62 341.11,162.99 341.19,165.91 341.28,167.02 341.37,167.38 341.45,167.47 342.57,167.5 343.06,167.5 343.26,167.5 343.46,167.49 343.65,167.47 343.85,167.43 344.05,167.32 344.25,167.14 344.45,166.86 344.65,166.55 344.84,166.29 345.04,166.19 345.24,166.29 345.44,166.55 345.64,166.86 345.66,166.9 345.83,167.14 346.03,167.32 346.23,167.43 346.43,167.47 346.63,167.49 346.82,167.5 347.02,167.5 348.75,167.5 351.85,167.5 354.94,167.5 358.04,167.5 359.46,167.5 359.66,167.49 359.86,167.48 360.05,167.43 360.25,167.3 360.45,167.01 360.65,166.5 360.85,165.74 361.04,164.88 361.13,164.53 361.24,164.17 361.44,163.89 361.64,164.17 361.84,164.88 362.03,165.74 362.23,166.5 362.43,167.01 362.63,167.3 362.83,167.43 363.03,167.48 363.22,167.49 363.42,167.5 364.23,167.5 367.32,167.5 370.41,167.5 373.51,167.5 376.6,167.5 379.7,167.5 382.79,167.5 385.89,167.5 388.98,167.5 392.07,167.5 395.17,167.5 398.26,167.5 401.36,167.5 404.45,167.5 407.55,167.5 410.64,167.5 413.73,167.5 416.83,167.5 419.92,167.5 420.48,167.49 420.7,167.47 420.93,167.39 421.15,167.14 421.37,166.48 421.59,165.04 421.82,162.45 422.04,158.66 422.26,154.31 422.48,150.73 422.71,149.33 422.93,150.73 423.02,151.93 423.15,154.31 423.38,158.66 423.6,162.45 423.82,165.04 424.04,166.48 424.27,167.14 424.49,167.39 424.71,167.47 424.94,167.49 426.11,167.5 429.21,167.5 430.47,167.5 430.7,167.49 430.92,167.45 431.14,167.32 431.37,166.99 431.59,166.28 431.81,164.99 432.03,163.11 432.26,160.95 432.3,160.55 432.48,159.17 432.7,158.48 432.93,159.17 433.15,160.95 433.37,163.11 433.59,164.99 433.82,166.28 434.04,166.99 434.26,167.32 434.48,167.45 434.71,167.49 434.93,167.5 435.39,167.5 438.49,167.5 441.58,167.5 444.68,167.5 447.77,167.5 450.87,167.5 453.96,167.5 457.05,167.5 460.15,167.5 463.24,167.5 466.34,167.5 469.43,167.5 472.53,167.5 475.62,167.5 478.71,167.5 481.81,167.5 484.9,167.5 488,167.5 491.09,167.5 494.19,167.5 497.28,167.5 500.37,167.5 503.47,167.5 506.56,167.5 509.66,167.5 512.75,167.5 515.85,167.5 518.94,167.5 522.03,167.5 525.13,167.5 528.22,167.5 531.32,167.5 534.41,167.5 537.51,167.5 540.6,167.5" fill="none" stroke="#ff4a4a" stroke-width="0.85" stroke-linejoin="round" />
<polyline points="324,167.5 327.09,167.5 330.19,167.5 331.24,167.47 331.34,167.37 331.44,167 331.54,165.84 331.64,162.8 331.74,156.18 331.83,144.24 331.93,126.79 332.03,106.76 332.13,90.29 332.23,83.86 332.33,90.29 332.43,106.76 332.53,126.79 332.63,144.24 332.73,156.18 332.82,162.8 332.92,165.84 333.02,167 333.12,167.37 333.22,167.47 333.28,167.49 333.65,167.46 333.75,167.31 333.85,166.76 333.95,165.06 334.05,160.6 334.15,150.85 334.25,133.3 334.35,107.63 334.45,78.18 334.55,53.96 334.64,44.5 334.74,53.96 334.84,78.18 334.94,107.63 335.04,133.3 335.14,150.85 335.24,160.6 335.34,165.06 335.44,166.76 335.54,167.31 335.63,167.46 336.38,167.5 339.47,167.5 339.72,167.47 339.81,167.38 339.89,167.02 339.98,165.91 340.07,162.99 340.15,156.62 340.24,145.16 340.33,128.38 340.41,109.15 340.5,93.32 340.59,87.14 340.67,93.32 340.76,109.15 340.85,128.38 340.93,145.16 341.02,156.62 341.11,162.99 341.19,165.91 341.28,167.02 341.37,167.38 341.45,167.47 342.57,167.5 343.06,167.5 343.26,167.5 343.46,167.49 343.65,167.47 343.85,167.43 344.05,167.32 344.25,167.14 344.45,166.86 344.65,166.55 344.84,166.29 345.04,166.19 345.24,166.29 345.44,166.55 345.64,166.86 345.66,166.9 345.83,167.14 346.03,167.32 346.23,167.43 346.43,167.47 346.63,167.49 346.82,167.5 347.02,167.5 348.75,167.5 351.85,167.5 354.94,167.5 358.04,167.5 359.46,167.5 359.66,167.5 359.86,167.48 360.05,167.44 360.25,167.33 360.45,167.1 360.65,166.68 360.85,166.06 361.04,165.36 361.13,165.07 361.24,164.77 361.44,164.55 361.64,164.77 361.84,165.36 362.03,166.06 362.23,166.68 362.43,167.1 362.63,167.33 362.83,167.44 363.03,167.48 363.22,167.5 363.42,167.5 364.23,167.5 367.32,167.5 370.41,167.5 373.51,167.5 375.86,167.5 376.06,167.5 376.26,167.49 376.45,167.45 376.6,167.4 376.65,167.37 376.85,167.19 377.05,166.86 377.25,166.38 377.44,165.83 377.64,165.38 377.84,165.2 378.04,165.38 378.24,165.83 378.43,166.38 378.63,166.86 378.83,167.19 379.03,167.37 379.23,167.45 379.42,167.49 379.62,167.5 379.7,167.5 379.82,167.5 382.79,167.5 385.89,167.5 388.98,167.5 392.07,167.5 395.17,167.5 398.26,167.5 401.36,167.5 404.45,167.5 407.55,167.5 410.64,167.5 413.73,167.5 416.83,167.5 419.92,167.5 420.05,167.49 420.27,167.46 420.49,167.36 420.71,167.04 420.94,166.19 421.16,164.33 421.38,160.99 421.61,156.1 421.83,150.49 422.05,145.88 422.27,144.08 422.5,145.88 422.72,150.49 422.94,156.1 423.02,157.87 423.17,160.99 423.39,164.33 423.61,166.19 423.83,167.04 424.06,167.36 424.28,167.46 424.5,167.49 426.11,167.5 429.21,167.5 430.07,167.5 430.29,167.49 430.52,167.45 430.74,167.32 430.96,166.98 431.19,166.26 431.41,164.95 431.63,163.03 431.85,160.83 432.08,159.02 432.3,158.32 432.52,159.02 432.75,160.83 432.97,163.03 433.19,164.95 433.41,166.26 433.64,166.98 433.86,167.32 434.08,167.45 434.31,167.49 434.53,167.5 435.39,167.5 438.49,167.5 441.58,167.5 444.68,167.5 447.77,167.5 450.87,167.5 453.96,167.5 457.05,167.5 460.15,167.5 463.24,167.5 466.34,167.5 469.43,167.5 472.53,167.5 475.62,167.5 478.71,167.5 481.81,167.5 484.9,167.5 488,167.5 491.09,167.5 494.19,167.5 497.28,167.5 500.37,167.5 503.47,167.5 506.56,167.5 509.66,167.5 512.75,167.5 515.85,167.5 518.94,167.5 522.03,167.5 525.13,167.5 528.22,167.5 531.32,167.5 534.41,167.5 537.51,167.5 540.6,167.5" fill="none" stroke="#4a4aff" stroke-width="0.85" stroke-linejoin="round" />
<polyline points="324,167.5 327.09,167.5 330.19,167.5 331.24,167.47 331.34,167.37 331.44,167.01 331.54,165.87 331.64,162.9 331.74,156.4 331.83,144.7 331.93,127.59 332.03,107.96 332.13,91.8 332.23,85.5 332.33,91.8 332.43,107.96 332.53,127.59 332.63,144.7 332.73,156.4 332.82,162.9 332.92,165.87 333.02,167.01 333.12,167.37 333.22,167.47 333.28,167.49 333.65,167.46 333.75,167.32 333.85,166.78 333.95,165.12 334.05,160.78 334.15,151.3 334.25,134.21 334.35,109.23 334.45,80.57 334.55,56.98 334.64,47.78 334.74,56.98 334.84,80.57 334.94,109.23 335.04,134.21 335.14,151.3 335.24,160.78 335.34,165.12 335.44,166.78 335.54,167.32 335.63,167.46 336.38,167.5 339.47,167.5 339.72,167.47 339.81,167.38 339.89,167.02 339.98,165.91 340.07,162.99 340.15,156.62 340.24,145.16 340.33,128.38 340.41,109.15 340.5,93.32 340.59,87.14 340.67,93.32 340.76,109.15 340.85,128.38 340.93,145.16 341.02,156.62 341.11,162.99 341.19,165.91 341.28,167.02 341.37,167.38 341.45,167.47 342.57,167.5 345.66,167.5 348.75,167.5 351.85,167.5 354.94,167.5 358.04,167.5 359.46,167.5 359.66,167.5 359.86,167.49 360.05,167.45 360.25,167.37 360.45,167.19 360.65,166.86 360.85,166.38 361.04,165.83 361.13,165.61 361.24,165.38 361.44,165.2 361.64,165.38 361.84,165.83 362.03,166.38 362.23,166.86 362.43,167.19 362.63,167.37 362.83,167.45 363.03,167.49 363.22,167.5 363.42,167.5 364.23,167.5 367.32,167.5 370.41,167.5 373.51,167.5 376.6,167.5 379.7,167.5 382.79,167.5 385.89,167.5 388.98,167.5 392.07,167.5 395.17,167.5 398.26,167.5 401.36,167.5 404.45,167.5 407.55,167.5 410.64,167.5 413.73,167.5 416.83,167.5 419.92,167.5 420.48,167.49 420.7,167.48 420.93,167.4 421.15,167.18 421.37,166.6 421.59,165.33 421.82,163.04 422.04,159.69 422.26,155.85 422.48,152.69 422.71,151.46 422.93,152.69 423.02,153.75 423.15,155.85 423.38,159.69 423.6,163.04 423.82,165.33 424.04,166.6 424.27,167.18 424.49,167.4 424.71,167.48 424.94,167.49 426.11,167.5 429.21,167.5 430.63,167.5 430.85,167.48 431.07,167.43 431.3,167.25 431.52,166.8 431.74,165.82 431.97,164.05 432.19,161.47 432.3,159.98 432.41,158.5 432.63,156.05 432.86,155.1 433.08,156.05 433.3,158.5 433.53,161.47 433.75,164.05 433.97,165.82 434.19,166.8 434.42,167.25 434.64,167.43 434.86,167.48 435.08,167.5 435.39,167.5 438.49,167.5 441.58,167.5 444.68,167.5 447.77,167.5 450.87,167.5 453.96,167.5 457.05,167.5 460.15,167.5 463.24,167.5 466.34,167.5 469.43,167.5 472.53,167.5 475.62,167.5 478.71,167.5 481.81,167.5 484.9,167.5 488,167.5 491.09,167.5 494.19,167.5 497.28,167.5 500.37,167.5 503.47,167.5 506.56,167.5 509.66,167.5 512.75,167.5 515.85,167.5 518.94,167.5 522.03,167.5 525.13,167.5 528.22,167.5 531.32,167.5 534.41,167.5 537.51,167.5 540.6,167.5" fill="none" stroke="#40a4a4" stroke-width="0.85" stroke-linejoin="round" />
<polyline points="324,167.5 327.09,167.5 330.19,167.5 331.24,167.48 331.34,167.4 331.44,167.11 331.54,166.2 331.64,163.82 331.74,158.62 331.83,149.26 331.93,135.57 332.03,119.86 332.13,106.94 332.23,101.9 332.33,106.94 332.43,119.86 332.53,135.57 332.63,149.26 332.73,158.62 332.82,163.82 332.92,166.2 333.02,167.11 333.12,167.4 333.22,167.48 333.28,167.49 333.65,167.46 333.75,167.32 333.85,166.79 333.95,165.16 334.05,160.87 334.15,151.52 334.25,134.67 334.35,110.02 334.45,81.76 334.55,58.5 334.64,49.42 334.74,58.5 334.84,81.76 334.94,110.02 335.04,134.67 335.14,151.52 335.24,160.87 335.34,165.16 335.44,166.79 335.54,167.32 335.63,167.46 336.38,167.5 339.47,167.5 339.72,167.47 339.81,167.37 339.89,167.01 339.98,165.87 340.07,162.9 340.15,156.4 340.24,144.7 340.33,127.59 340.41,107.96 340.5,91.8 340.59,85.5 340.67,91.8 340.76,107.96 340.85,127.59 340.93,144.7 341.02,156.4 341.11,162.9 341.19,165.87 341.28,167.01 341.37,167.37 341.45,167.47 342.57,167.5 345.66,167.5 348.75,167.5 351.85,167.5 354.94,167.5 358.04,167.5 361.13,167.5 364.23,167.5 367.32,167.5 370.41,167.5 373.51,167.5 376.6,167.5 379.7,167.5 382.79,167.5 385.89,167.5 388.48,167.5 388.78,167.5 388.98,167.5 389.08,167.5 389.38,167.48 389.67,167.45 389.97,167.39 390.27,167.27 390.56,167.1 390.86,166.9 391.16,166.74 391.46,166.68 391.75,166.74 392.05,166.9 392.07,166.92 392.35,167.1 392.64,167.27 392.94,167.39 393.24,167.45 393.53,167.48 393.83,167.5 394.13,167.5 394.43,167.5 395.17,167.5 398.26,167.5 401.36,167.5 404.45,167.5 407.55,167.5 410.64,167.5 413.73,167.5 416.83,167.5 419.92,167.5 420.17,167.5 420.39,167.49 420.62,167.45 420.84,167.34 421.06,167.06 421.28,166.44 421.51,165.32 421.73,163.68 421.95,161.81 422.18,160.26 422.4,159.66 422.62,160.26 422.84,161.81 423.02,163.27 423.07,163.68 423.29,165.32 423.51,166.44 423.74,167.06 423.96,167.34 424.18,167.45 424.4,167.49 424.63,167.5 426.11,167.5 429.21,167.5 430.38,167.49 430.6,167.47 430.83,167.38 431.05,167.11 431.27,166.39 431.5,164.81 431.72,161.98 431.94,157.84 432.16,153.09 432.3,150.49 432.39,149.18 432.61,147.66 432.83,149.18 433.06,153.09 433.28,157.84 433.5,161.98 433.72,164.81 433.95,166.39 434.17,167.11 434.39,167.38 434.61,167.47 434.84,167.49 435.39,167.5 438.49,167.5 441.58,167.5 444.68,167.5 447.77,167.5 450.87,167.5 453.96,167.5 457.05,167.5 460.15,167.5 463.24,167.5 466.34,167.5 469.43,167.5 472.53,167.5 475.62,167.5 478.71,167.5 481.81,167.5 484.9,167.5 488,167.5 491.09,167.5 494.19,167.5 497.28,167.5 500.37,167.5 503.47,167.5 506.56,167.5 509.66,167.5 512.75,167.5 515.85,167.5 518.94,167.5 522.03,167.5 525.13,167.5 528.22,167.5 531.32,167.5 534.41,167.5 537.51,167.5 540.6,167.5" fill="none" stroke="#a2a248" stroke-width="0.85" stroke-linejoin="round" />
<rect x="324" y="19.5" width="216.6" height="157.9" fill="none" stroke="#000" stroke-width="1.5"/>
<line x1="324" y1="177.4" x2="324" y2="180.9" stroke="#000" stroke-width="1.4" />
<text x="324" y="189.9" font-size="9" text-anchor="middle" fill="#000" stroke="#000" stroke-width="0.4" font-weight="bold" font-style="normal" >0</text>
<line x1="339.47" y1="177.4" x2="339.47" y2="179.9" stroke="#000" stroke-width="1.4" />
<line x1="354.94" y1="177.4" x2="354.94" y2="180.9" stroke="#000" stroke-width="1.4" />
<text x="354.94" y="189.9" font-size="9" text-anchor="middle" fill="#000" stroke="#000" stroke-width="0.4" font-weight="bold" font-style="normal" >5</text>
<line x1="370.41" y1="177.4" x2="370.41" y2="179.9" stroke="#000" stroke-width="1.4" />
<line x1="385.89" y1="177.4" x2="385.89" y2="180.9" stroke="#000" stroke-width="1.4" />
<text x="385.89" y="189.9" font-size="9" text-anchor="middle" fill="#000" stroke="#000" stroke-width="0.4" font-weight="bold" font-style="normal" >10</text>
<line x1="401.36" y1="177.4" x2="401.36" y2="179.9" stroke="#000" stroke-width="1.4" />
<line x1="416.83" y1="177.4" x2="416.83" y2="180.9" stroke="#000" stroke-width="1.4" />
<text x="416.83" y="189.9" font-size="9" text-anchor="middle" fill="#000" stroke="#000" stroke-width="0.4" font-weight="bold" font-style="normal" >15</text>
<line x1="432.3" y1="177.4" x2="432.3" y2="179.9" stroke="#000" stroke-width="1.4" />
<line x1="447.77" y1="177.4" x2="447.77" y2="180.9" stroke="#000" stroke-width="1.4" />
<text x="447.77" y="189.9" font-size="9" text-anchor="middle" fill="#000" stroke="#000" stroke-width="0.4" font-weight="bold" font-style="normal" >20</text>
<line x1="463.24" y1="177.4" x2="463.24" y2="179.9" stroke="#000" stroke-width="1.4" />
<line x1="478.71" y1="177.4" x2="478.71" y2="180.9" stroke="#000" stroke-width="1.4" />
<text x="478.71" y="189.9" font-size="9" text-anchor="middle" fill="#000" stroke="#000" stroke-width="0.4" font-weight="bold" font-style="normal" >25</text>
<line x1="494.19" y1="177.4" x2="494.19" y2="179.9" stroke="#000" stroke-width="1.4" />
<line x1="509.66" y1="177.4" x2="509.66" y2="180.9" stroke="#000" stroke-width="1.4" />
<text x="509.66" y="189.9" font-size="9" text-anchor="middle" fill="#000" stroke="#000" stroke-width="0.4" font-weight="bold" font-style="normal" >30</text>
<line x1="525.13" y1="177.4" x2="525.13" y2="179.9" stroke="#000" stroke-width="1.4" />
<line x1="540.6" y1="177.4" x2="540.6" y2="180.9" stroke="#000" stroke-width="1.4" />
<text x="540.6" y="189.9" font-size="9" text-anchor="middle" fill="#000" stroke="#000" stroke-width="0.4" font-weight="bold" font-style="normal" >35</text>
<line x1="320.5" y1="167.5" x2="324" y2="167.5" stroke="#000" stroke-width="1.4" />
<text x="318.4" y="170.5" font-size="9" text-anchor="end" fill="#000" stroke="#000" stroke-width="0.4" font-weight="bold" font-style="normal" >0</text>
<line x1="322" y1="151.1" x2="324" y2="151.1" stroke="#000" stroke-width="1.4" />
<line x1="320.5" y1="134.7" x2="324" y2="134.7" stroke="#000" stroke-width="1.4" />
<text x="318.4" y="137.7" font-size="9" text-anchor="end" fill="#000" stroke="#000" stroke-width="0.4" font-weight="bold" font-style="normal" >1000</text>
<line x1="322" y1="118.3" x2="324" y2="118.3" stroke="#000" stroke-width="1.4" />
<line x1="320.5" y1="101.9" x2="324" y2="101.9" stroke="#000" stroke-width="1.4" />
<text x="318.4" y="104.9" font-size="9" text-anchor="end" fill="#000" stroke="#000" stroke-width="0.4" font-weight="bold" font-style="normal" >2000</text>
<line x1="322" y1="85.5" x2="324" y2="85.5" stroke="#000" stroke-width="1.4" />
<line x1="320.5" y1="69.1" x2="324" y2="69.1" stroke="#000" stroke-width="1.4" />
<text x="318.4" y="72.1" font-size="9" text-anchor="end" fill="#000" stroke="#000" stroke-width="0.4" font-weight="bold" font-style="normal" >3000</text>
<line x1="322" y1="52.7" x2="324" y2="52.7" stroke="#000" stroke-width="1.4" />
<line x1="320.5" y1="36.3" x2="324" y2="36.3" stroke="#000" stroke-width="1.4" />
<text x="318.4" y="39.3" font-size="9" text-anchor="end" fill="#000" stroke="#000" stroke-width="0.4" font-weight="bold" font-style="normal" >4000</text>
<line x1="322" y1="19.9" x2="324" y2="19.9" stroke="#000" stroke-width="1.4" />
<text x="432.3" y="206.4" font-size="9.8" text-anchor="middle" fill="#000" stroke="#000" stroke-width="0.44" font-weight="bold" font-style="normal" >Time (min)</text>
<text transform="translate(286.5,101.6) rotate(-90)" font-size="10.2" text-anchor="middle" font-weight="bold" stroke="#000" stroke-width="0.5">OD<tspan stroke-width="0.3"  font-size="5.92" dy="3.8">254 nm</tspan></text>
<text x="302" y="17.4" font-size="13.6" text-anchor="start" fill="#2e2ed8" stroke="#2e2ed8" stroke-width="0" font-weight="bold" font-style="normal" >B</text>
<text x="433.8" y="13.6" font-size="13.2" text-anchor="middle" fill="#000" stroke="#000" stroke-width="0.59" font-weight="bold" font-style="italic" textLength="32.5" lengthAdjust="spacingAndGlyphs">ΔluxI</text>
<rect x="415.6" y="141" width="22" height="30.2" fill="none" stroke="#f05a40" stroke-width="1.2" stroke-dasharray="3.5,2"/>
<line x1="367" y1="118.6" x2="415.6" y2="141" stroke="#f05a40" stroke-width="1.2" />
<line x1="437.6" y1="141" x2="519.3" y2="123.5" stroke="#f05a40" stroke-width="1.2" />
<line x1="465.6" y1="138.8" x2="482.9" y2="138.8" stroke="#808080" stroke-width="1.5" />
<text x="484.9" y="141.8" font-size="8.2" text-anchor="start" fill="#000" stroke="#000" stroke-width="0.37" font-weight="bold" font-style="normal" >6 h</text>
<line x1="502.5" y1="138.8" x2="520" y2="138.8" stroke="#f48080" stroke-width="1.5" />
<text x="522.6" y="141.8" font-size="8.2" text-anchor="start" fill="#000" stroke="#000" stroke-width="0.37" font-weight="bold" font-style="normal" >12 h</text>
<line x1="465.6" y1="149.6" x2="482.9" y2="149.6" stroke="#6060f0" stroke-width="1.5" />
<text x="484.9" y="152.6" font-size="8.2" text-anchor="start" fill="#000" stroke="#000" stroke-width="0.37" font-weight="bold" font-style="normal" >24 h</text>
<line x1="502.5" y1="149.6" x2="520" y2="149.6" stroke="#60b4b4" stroke-width="1.5" />
<text x="522.6" y="152.6" font-size="8.2" text-anchor="start" fill="#000" stroke="#000" stroke-width="0.37" font-weight="bold" font-style="normal" >48 h</text>
<line x1="465.6" y1="159.8" x2="482.9" y2="159.8" stroke="#f070f0" stroke-width="1.5" />
<text x="484.9" y="162.8" font-size="8.2" text-anchor="start" fill="#000" stroke="#000" stroke-width="0.37" font-weight="bold" font-style="normal" >72 h</text>
<line x1="502.5" y1="159.8" x2="520" y2="159.8" stroke="#b4b478" stroke-width="1.5" />
<text x="522.6" y="162.8" font-size="8.2" text-anchor="start" fill="#000" stroke="#000" stroke-width="0.37" font-weight="bold" font-style="normal" >96 h</text>
<polyline points="44,383.5 47.1,383.5 50.2,383.5 51.25,383.47 51.35,383.38 51.45,383.05 51.55,382 51.65,379.27 51.75,373.29 51.85,362.52 51.94,346.78 52.04,328.72 52.14,313.86 52.24,308.06 52.34,313.86 52.44,328.72 52.54,346.78 52.64,362.52 52.74,373.29 52.84,379.27 52.94,382 53.04,383.05 53.13,383.38 53.23,383.47 53.3,383.49 53.67,383.46 53.77,383.32 53.87,382.8 53.97,381.19 54.06,376.96 54.16,367.74 54.26,351.13 54.36,326.82 54.46,298.95 54.56,276.01 54.66,267.06 54.76,276.01 54.86,298.95 54.96,326.82 55.06,351.13 55.15,367.74 55.25,376.96 55.35,381.19 55.45,382.8 55.55,383.32 55.65,383.46 56.39,383.5 59.49,383.5 59.74,383.47 59.83,383.38 59.91,383.02 60,381.91 60.09,378.99 60.17,372.62 60.26,361.16 60.35,344.38 60.43,325.15 60.52,309.32 60.61,303.14 60.7,309.32 60.78,325.15 60.87,344.38 60.96,361.16 61.04,372.62 61.13,378.99 61.22,381.91 61.3,383.02 61.39,383.38 61.48,383.47 62.59,383.5 63.09,383.5 63.29,383.5 63.48,383.49 63.68,383.47 63.88,383.41 64.08,383.28 64.28,383.04 64.48,382.7 64.67,382.31 64.87,381.99 65.07,381.86 65.27,381.99 65.47,382.31 65.67,382.7 65.69,382.75 65.86,383.04 66.06,383.28 66.26,383.41 66.46,383.47 66.66,383.49 66.86,383.5 67.05,383.5 68.79,383.5 71.89,383.5 74.99,383.5 78.08,383.5 81.18,383.5 84.28,383.5 87.38,383.5 90.48,383.5 93.58,383.5 96.68,383.5 99.77,383.5 102.87,383.5 105.97,383.5 109.07,383.5 112.17,383.5 115.27,383.5 118.37,383.5 121.46,383.5 124.56,383.5 127.66,383.5 130.76,383.5 133.86,383.5 136.96,383.5 140.06,383.5 140.37,383.49 140.59,383.47 140.81,383.4 141.03,383.17 141.26,382.56 141.48,381.24 141.7,378.85 141.93,375.36 142.15,371.35 142.37,368.06 142.6,366.77 142.82,368.06 143.04,371.35 143.15,373.35 143.27,375.36 143.49,378.85 143.71,381.24 143.94,382.56 144.16,383.17 144.38,383.4 144.6,383.47 144.83,383.49 146.25,383.5 149.35,383.5 150.47,383.49 150.7,383.47 150.92,383.4 151.14,383.15 151.37,382.52 151.59,381.14 151.81,378.65 152.03,375.01 152.26,370.83 152.45,367.77 152.48,367.39 152.7,366.05 152.93,367.39 153.15,370.83 153.37,375.01 153.6,378.65 153.82,381.14 154.04,382.52 154.27,383.15 154.49,383.4 154.71,383.47 154.94,383.49 155.55,383.5 158.65,383.5 161.75,383.5 164.84,383.5 167.94,383.5 171.04,383.5 174.14,383.5 177.24,383.5 180.34,383.5 183.44,383.5 186.53,383.5 189.63,383.5 192.73,383.5 195.83,383.5 198.93,383.5 202.03,383.5 205.13,383.5 208.22,383.5 211.32,383.5 214.42,383.5 217.52,383.5 218.02,383.5 218.21,383.5 218.41,383.5 218.61,383.48 218.81,383.45 219.01,383.39 219.21,383.27 219.4,383.1 219.6,382.9 219.8,382.74 220,382.68 220.2,382.74 220.4,382.9 220.59,383.1 220.62,383.12 220.79,383.27 220.99,383.39 221.19,383.45 221.39,383.48 221.59,383.5 221.78,383.5 221.98,383.5 223.72,383.5 226.82,383.5 229.91,383.5 233.01,383.5 236.11,383.5 239.21,383.5 242.31,383.5 245.41,383.5 248.51,383.5 251.6,383.5 254.7,383.5 257.8,383.5 260.9,383.5" fill="none" stroke="#ff50ff" stroke-width="0.85" stroke-linejoin="round" />
<polyline points="44,383.5 47.1,383.5 50.2,383.5 51.25,383.47 51.35,383.36 51.45,382.97 51.55,381.74 51.65,378.53 51.75,371.51 51.85,358.88 51.94,340.39 52.04,319.19 52.14,301.75 52.24,294.94 52.34,301.75 52.44,319.19 52.54,340.39 52.64,358.88 52.74,371.51 52.84,378.53 52.94,381.74 53.04,382.97 53.13,383.36 53.23,383.47 53.3,383.49 53.67,383.46 53.77,383.3 53.87,382.74 53.97,380.96 54.06,376.32 54.16,366.19 54.26,347.93 54.36,321.23 54.46,290.61 54.56,265.41 54.66,255.58 54.76,265.41 54.86,290.61 54.96,321.23 55.06,347.93 55.15,366.19 55.25,376.32 55.35,380.96 55.45,382.74 55.55,383.3 55.65,383.46 56.39,383.5 59.49,383.5 59.74,383.47 59.83,383.38 59.91,383.02 60,381.91 60.09,378.99 60.17,372.62 60.26,361.16 60.35,344.38 60.43,325.15 60.52,309.32 60.61,303.14 60.7,309.32 60.78,325.15 60.87,344.38 60.96,361.16 61.04,372.62 61.13,378.99 61.22,381.91 61.3,383.02 61.39,383.38 61.48,383.47 62.59,383.5 65.69,383.5 67.3,383.5 67.45,383.49 67.6,383.48 67.75,383.42 67.9,383.28 68.04,382.97 68.19,382.41 68.34,381.58 68.49,380.64 68.64,379.87 68.79,379.56 68.94,379.87 69.09,380.64 69.23,381.58 69.38,382.41 69.53,382.97 69.68,383.28 69.83,383.42 69.98,383.48 70.13,383.49 70.28,383.5 71.89,383.5 74.99,383.5 78.08,383.5 79.51,383.5 79.71,383.5 79.91,383.49 80.1,383.46 80.3,383.39 80.5,383.23 80.7,382.95 80.9,382.54 81.1,382.07 81.18,381.88 81.29,381.68 81.49,381.53 81.69,381.68 81.89,382.07 82.09,382.54 82.29,382.95 82.48,383.23 82.68,383.39 82.88,383.46 83.08,383.49 83.28,383.5 83.48,383.5 84.28,383.5 87.38,383.5 90.48,383.5 93.58,383.5 96.68,383.5 99.77,383.5 102.87,383.5 105.97,383.5 109.07,383.5 112.17,383.5 115.27,383.5 118.37,383.5 121.46,383.5 124.56,383.5 127.66,383.5 130.76,383.5 133.86,383.5 136.96,383.5 140.06,383.5 140.86,383.5 141.08,383.5 141.31,383.48 141.53,383.45 141.75,383.35 141.98,383.14 142.2,382.77 142.42,382.22 142.65,381.59 142.87,381.08 143.09,380.88 143.15,380.89 143.32,381.08 143.54,381.59 143.76,382.22 143.98,382.77 144.21,383.14 144.43,383.35 144.65,383.45 144.88,383.48 145.1,383.5 145.32,383.5 146.25,383.5 149.35,383.5 150.81,383.5 151.04,383.49 151.26,383.45 151.48,383.32 151.71,383 151.93,382.29 152.15,381.01 152.38,379.14 152.45,378.43 152.6,377 152.82,375.23 153.04,374.55 153.27,375.23 153.49,377 153.71,379.14 153.94,381.01 154.16,382.29 154.38,383 154.61,383.32 154.83,383.45 155.05,383.49 155.28,383.5 155.55,383.5 158.65,383.5 161.75,383.5 164.84,383.5 167.94,383.5 171.04,383.5 174.14,383.5 177.24,383.5 180.34,383.5 183.44,383.5 186.53,383.5 189.63,383.5 192.73,383.5 195.83,383.5 198.93,383.5 202.03,383.5 205.13,383.5 208.22,383.5 211.32,383.5 214.42,383.5 217.52,383.5 220.62,383.5 223.72,383.5 226.82,383.5 229.91,383.5 233.01,383.5 236.11,383.5 239.21,383.5 242.31,383.5 245.41,383.5 248.51,383.5 251.6,383.5 254.7,383.5 257.8,383.5 260.9,383.5" fill="none" stroke="#505050" stroke-width="0.85" stroke-linejoin="round" />
<polyline points="44,383.5 47.1,383.5 50.2,383.5 51.06,383.48 51.16,383.39 51.26,383.08 51.36,382.1 51.46,379.54 51.56,373.96 51.66,363.89 51.76,349.17 51.86,332.29 51.96,318.4 52.06,312.98 52.16,318.4 52.25,332.29 52.35,349.17 52.45,363.89 52.55,373.96 52.65,379.54 52.75,382.1 52.85,383.08 52.95,383.39 53.05,383.48 53.3,383.5 53.67,383.46 53.77,383.3 53.87,382.72 53.97,380.9 54.06,376.14 54.16,365.74 54.26,347.02 54.36,319.64 54.46,288.23 54.56,262.39 54.66,252.3 54.76,262.39 54.86,288.23 54.96,319.64 55.06,347.02 55.15,365.74 55.25,376.14 55.35,380.9 55.45,382.72 55.55,383.3 55.65,383.46 56.39,383.5 59.49,383.5 59.74,383.47 59.83,383.38 59.91,383.02 60,381.91 60.09,378.99 60.17,372.62 60.26,361.16 60.35,344.38 60.43,325.15 60.52,309.32 60.61,303.14 60.7,309.32 60.78,325.15 60.87,344.38 60.96,361.16 61.04,372.62 61.13,378.99 61.22,381.91 61.3,383.02 61.39,383.38 61.48,383.47 62.59,383.5 63.09,383.5 63.29,383.5 63.48,383.49 63.68,383.47 63.88,383.43 64.08,383.32 64.28,383.14 64.48,382.86 64.67,382.55 64.87,382.29 65.07,382.19 65.27,382.29 65.47,382.55 65.67,382.86 65.69,382.9 65.86,383.14 66.06,383.32 66.26,383.43 66.46,383.47 66.66,383.49 66.86,383.5 67.05,383.5 68.79,383.5 71.89,383.5 74.99,383.5 78.08,383.5 79.51,383.5 79.71,383.49 79.91,383.48 80.1,383.43 80.3,383.3 80.5,383.01 80.7,382.5 80.9,381.74 81.1,380.88 81.18,380.53 81.29,380.17 81.49,379.89 81.69,380.17 81.89,380.88 82.09,381.74 82.29,382.5 82.48,383.01 82.68,383.3 82.88,383.43 83.08,383.48 83.28,383.49 83.48,383.5 84.28,383.5 87.38,383.5 90.48,383.5 93.58,383.5 96.68,383.5 99.77,383.5 102.87,383.5 105.97,383.5 109.07,383.5 112.17,383.5 115.27,383.5 118.37,383.5 121.46,383.5 124.56,383.5 127.66,383.5 130.76,383.5 133.86,383.5 136.96,383.5 140.06,383.5 140.24,383.49 140.46,383.46 140.69,383.36 140.91,383.03 141.13,382.17 141.36,380.29 141.58,376.91 141.8,371.96 142.03,366.28 142.25,361.61 142.47,359.79 142.7,361.61 142.92,366.28 143.14,371.96 143.15,372.26 143.36,376.91 143.59,380.29 143.81,382.17 144.03,383.03 144.26,383.36 144.48,383.46 144.7,383.49 146.25,383.5 149.35,383.5 150.39,383.5 150.62,383.48 150.84,383.42 151.06,383.24 151.28,382.76 151.51,381.72 151.73,379.83 151.95,377.08 152.18,373.93 152.4,371.33 152.45,370.94 152.62,370.31 152.85,371.33 153.07,373.93 153.29,377.08 153.52,379.83 153.74,381.72 153.96,382.76 154.19,383.24 154.41,383.42 154.63,383.48 154.85,383.5 155.55,383.5 158.65,383.5 161.75,383.5 164.84,383.5 167.94,383.5 171.04,383.5 174.14,383.5 177.24,383.5 180.34,383.5 183.44,383.5 186.53,383.5 189.63,383.5 192.73,383.5 195.83,383.5 198.93,383.5 202.03,383.5 205.13,383.5 208.22,383.5 211.32,383.5 214.42,383.5 217.52,383.5 220.62,383.5 223.72,383.5 226.82,383.5 229.91,383.5 233.01,383.5 236.11,383.5 239.21,383.5 242.31,383.5 245.41,383.5 248.51,383.5 251.6,383.5 254.7,383.5 257.8,383.5 260.9,383.5" fill="none" stroke="#ff4a4a" stroke-width="0.85" stroke-linejoin="round" />
<polyline points="44,383.5 47.1,383.5 50.2,383.5 51.25,383.47 51.35,383.37 51.45,383 51.55,381.84 51.65,378.8 51.75,372.18 51.85,360.24 51.94,342.79 52.04,322.76 52.14,306.29 52.24,299.86 52.34,306.29 52.44,322.76 52.54,342.79 52.64,360.24 52.74,372.18 52.84,378.8 52.94,381.84 53.04,383 53.13,383.37 53.23,383.47 53.3,383.49 53.67,383.46 53.77,383.31 53.87,382.76 53.97,381.06 54.06,376.6 54.16,366.85 54.26,349.3 54.36,323.63 54.46,294.18 54.56,269.96 54.66,260.5 54.76,269.96 54.86,294.18 54.96,323.63 55.06,349.3 55.15,366.85 55.25,376.6 55.35,381.06 55.45,382.76 55.55,383.31 55.65,383.46 56.39,383.5 59.49,383.5 59.74,383.47 59.83,383.38 59.91,383.02 60,381.91 60.09,378.99 60.17,372.62 60.26,361.16 60.35,344.38 60.43,325.15 60.52,309.32 60.61,303.14 60.7,309.32 60.78,325.15 60.87,344.38 60.96,361.16 61.04,372.62 61.13,378.99 61.22,381.91 61.3,383.02 61.39,383.38 61.48,383.47 62.59,383.5 63.09,383.5 63.29,383.5 63.48,383.49 63.68,383.47 63.88,383.43 64.08,383.32 64.28,383.14 64.48,382.86 64.67,382.55 64.87,382.29 65.07,382.19 65.27,382.29 65.47,382.55 65.67,382.86 65.69,382.9 65.86,383.14 66.06,383.32 66.26,383.43 66.46,383.47 66.66,383.49 66.86,383.5 67.05,383.5 68.79,383.5 71.89,383.5 74.99,383.5 78.08,383.5 79.51,383.5 79.71,383.5 79.91,383.48 80.1,383.44 80.3,383.33 80.5,383.1 80.7,382.68 80.9,382.06 81.1,381.36 81.18,381.07 81.29,380.77 81.49,380.55 81.69,380.77 81.89,381.36 82.09,382.06 82.29,382.68 82.48,383.1 82.68,383.33 82.88,383.44 83.08,383.48 83.28,383.5 83.48,383.5 84.28,383.5 87.38,383.5 90.48,383.5 93.58,383.5 95.93,383.5 96.13,383.5 96.33,383.49 96.53,383.45 96.68,383.4 96.73,383.37 96.92,383.19 97.12,382.86 97.32,382.38 97.52,381.83 97.72,381.38 97.92,381.2 98.11,381.38 98.31,381.83 98.51,382.38 98.71,382.86 98.91,383.19 99.1,383.37 99.3,383.45 99.5,383.49 99.7,383.5 99.77,383.5 99.9,383.5 102.87,383.5 105.97,383.5 109.07,383.5 112.17,383.5 115.27,383.5 118.37,383.5 121.46,383.5 124.56,383.5 127.66,383.5 130.76,383.5 133.86,383.5 136.96,383.5 140.06,383.5 140.3,383.49 140.53,383.46 140.75,383.33 140.97,382.94 141.2,381.91 141.42,379.68 141.64,375.65 141.87,369.75 142.09,362.99 142.31,357.43 142.53,355.26 142.76,357.43 142.98,362.99 143.15,368.27 143.2,369.75 143.43,375.65 143.65,379.68 143.87,381.91 144.1,382.94 144.32,383.33 144.54,383.46 144.77,383.49 146.25,383.5 149.35,383.5 150.42,383.5 150.64,383.48 150.86,383.41 151.09,383.21 151.31,382.68 151.53,381.52 151.76,379.43 151.98,376.38 152.2,372.88 152.43,370 152.45,369.77 152.65,368.87 152.87,370 153.09,372.88 153.32,376.38 153.54,379.43 153.76,381.52 153.99,382.68 154.21,383.21 154.43,383.41 154.66,383.48 154.88,383.5 155.55,383.5 158.65,383.5 161.75,383.5 164.84,383.5 167.94,383.5 171.04,383.5 174.14,383.5 177.24,383.5 180.34,383.5 183.44,383.5 186.53,383.5 189.63,383.5 192.73,383.5 195.83,383.5 198.93,383.5 202.03,383.5 205.13,383.5 208.22,383.5 211.32,383.5 214.42,383.5 217.52,383.5 220.62,383.5 223.72,383.5 226.82,383.5 229.91,383.5 233.01,383.5 236.11,383.5 239.21,383.5 242.31,383.5 245.41,383.5 248.51,383.5 251.6,383.5 254.7,383.5 257.8,383.5 260.9,383.5" fill="none" stroke="#4a4aff" stroke-width="0.85" stroke-linejoin="round" />
<polyline points="44,383.5 47.1,383.5 50.2,383.5 51.25,383.47 51.35,383.37 51.45,383.01 51.55,381.87 51.65,378.9 51.75,372.4 51.85,360.7 51.94,343.59 52.04,323.96 52.14,307.8 52.24,301.5 52.34,307.8 52.44,323.96 52.54,343.59 52.64,360.7 52.74,372.4 52.84,378.9 52.94,381.87 53.04,383.01 53.13,383.37 53.23,383.47 53.3,383.49 53.67,383.46 53.77,383.32 53.87,382.78 53.97,381.12 54.06,376.78 54.16,367.3 54.26,350.21 54.36,325.23 54.46,296.57 54.56,272.98 54.66,263.78 54.76,272.98 54.86,296.57 54.96,325.23 55.06,350.21 55.15,367.3 55.25,376.78 55.35,381.12 55.45,382.78 55.55,383.32 55.65,383.46 56.39,383.5 59.49,383.5 59.74,383.47 59.83,383.38 59.91,383.02 60,381.91 60.09,378.99 60.17,372.62 60.26,361.16 60.35,344.38 60.43,325.15 60.52,309.32 60.61,303.14 60.7,309.32 60.78,325.15 60.87,344.38 60.96,361.16 61.04,372.62 61.13,378.99 61.22,381.91 61.3,383.02 61.39,383.38 61.48,383.47 62.59,383.5 65.69,383.5 68.79,383.5 71.89,383.5 74.99,383.5 78.08,383.5 79.51,383.5 79.71,383.5 79.91,383.49 80.1,383.45 80.3,383.37 80.5,383.19 80.7,382.86 80.9,382.38 81.1,381.83 81.18,381.61 81.29,381.38 81.49,381.2 81.69,381.38 81.89,381.83 82.09,382.38 82.29,382.86 82.48,383.19 82.68,383.37 82.88,383.45 83.08,383.49 83.28,383.5 83.48,383.5 84.28,383.5 87.38,383.5 90.48,383.5 93.58,383.5 96.68,383.5 99.77,383.5 102.87,383.5 105.97,383.5 109.07,383.5 112.17,383.5 115.27,383.5 118.37,383.5 121.46,383.5 124.56,383.5 127.66,383.5 130.76,383.5 133.86,383.5 136.96,383.5 140.06,383.5 140.8,383.49 141.02,383.47 141.25,383.39 141.47,383.12 141.69,382.43 141.91,380.93 142.14,378.21 142.36,374.24 142.58,369.69 142.81,365.94 143.03,364.48 143.15,364.94 143.25,365.94 143.48,369.69 143.7,374.24 143.92,378.21 144.15,380.93 144.37,382.43 144.59,383.12 144.82,383.39 145.04,383.47 145.26,383.49 146.25,383.5 149.35,383.5 150.62,383.5 150.84,383.48 151.06,383.42 151.28,383.25 151.51,382.79 151.73,381.8 151.95,380 152.18,377.37 152.4,374.35 152.45,373.72 152.62,371.87 152.85,370.9 153.07,371.87 153.29,374.35 153.52,377.37 153.74,380 153.96,381.8 154.19,382.79 154.41,383.25 154.63,383.42 154.85,383.48 155.08,383.5 155.55,383.5 158.65,383.5 161.75,383.5 164.84,383.5 167.94,383.5 171.04,383.5 174.14,383.5 177.24,383.5 180.34,383.5 183.44,383.5 186.53,383.5 189.63,383.5 192.73,383.5 195.83,383.5 198.93,383.5 202.03,383.5 205.13,383.5 208.22,383.5 211.32,383.5 214.42,383.5 217.52,383.5 220.62,383.5 223.72,383.5 226.82,383.5 229.91,383.5 233.01,383.5 236.11,383.5 239.21,383.5 242.31,383.5 245.41,383.5 248.51,383.5 251.6,383.5 254.7,383.5 257.8,383.5 260.9,383.5" fill="none" stroke="#40a4a4" stroke-width="0.85" stroke-linejoin="round" />
<polyline points="44,383.5 47.1,383.5 50.2,383.5 51.25,383.48 51.35,383.4 51.45,383.11 51.55,382.2 51.65,379.82 51.75,374.62 51.85,365.26 51.94,351.57 52.04,335.86 52.14,322.94 52.24,317.9 52.34,322.94 52.44,335.86 52.54,351.57 52.64,365.26 52.74,374.62 52.84,379.82 52.94,382.2 53.04,383.11 53.13,383.4 53.23,383.48 53.3,383.49 53.67,383.46 53.77,383.32 53.87,382.79 53.97,381.16 54.06,376.87 54.16,367.52 54.26,350.67 54.36,326.02 54.46,297.76 54.56,274.5 54.66,265.42 54.76,274.5 54.86,297.76 54.96,326.02 55.06,350.67 55.15,367.52 55.25,376.87 55.35,381.16 55.45,382.79 55.55,383.32 55.65,383.46 56.39,383.5 59.49,383.5 59.74,383.47 59.83,383.37 59.91,383.01 60,381.87 60.09,378.9 60.17,372.4 60.26,360.7 60.35,343.59 60.43,323.96 60.52,307.8 60.61,301.5 60.7,307.8 60.78,323.96 60.87,343.59 60.96,360.7 61.04,372.4 61.13,378.9 61.22,381.87 61.3,383.01 61.39,383.37 61.48,383.47 62.59,383.5 65.69,383.5 68.79,383.5 71.89,383.5 74.99,383.5 78.08,383.5 81.18,383.5 84.28,383.5 87.38,383.5 90.48,383.5 93.58,383.5 96.68,383.5 99.77,383.5 102.87,383.5 105.97,383.5 108.57,383.5 108.87,383.5 109.07,383.5 109.17,383.5 109.47,383.48 109.76,383.45 110.06,383.39 110.36,383.27 110.66,383.1 110.95,382.9 111.25,382.74 111.55,382.68 111.85,382.74 112.14,382.9 112.17,382.92 112.44,383.1 112.74,383.27 113.04,383.39 113.33,383.45 113.63,383.48 113.93,383.5 114.23,383.5 114.52,383.5 115.27,383.5 118.37,383.5 121.46,383.5 124.56,383.5 127.66,383.5 130.76,383.5 133.86,383.5 136.96,383.5 140.06,383.5 140.3,383.5 140.53,383.48 140.75,383.42 140.97,383.25 141.2,382.78 141.42,381.77 141.64,379.94 141.87,377.27 142.09,374.21 142.31,371.69 142.53,370.71 142.76,371.69 142.98,374.21 143.15,376.6 143.2,377.27 143.43,379.94 143.65,381.77 143.87,382.78 144.1,383.25 144.32,383.42 144.54,383.48 144.77,383.5 146.25,383.5 149.35,383.5 150.47,383.49 150.7,383.47 150.92,383.39 151.14,383.15 151.37,382.51 151.59,381.12 151.81,378.61 152.03,374.94 152.26,370.73 152.45,367.65 152.48,367.27 152.7,365.92 152.93,367.27 153.15,370.73 153.37,374.94 153.6,378.61 153.82,381.12 154.04,382.51 154.27,383.15 154.49,383.39 154.71,383.47 154.94,383.49 155.55,383.5 158.65,383.5 161.75,383.5 164.84,383.5 167.94,383.5 171.04,383.5 174.14,383.5 177.24,383.5 180.34,383.5 183.44,383.5 186.53,383.5 189.63,383.5 192.73,383.5 195.83,383.5 198.93,383.5 202.03,383.5 205.13,383.5 208.22,383.5 211.32,383.5 214.42,383.5 217.52,383.5 220.62,383.5 223.72,383.5 226.82,383.5 229.91,383.5 233.01,383.5 236.11,383.5 239.21,383.5 242.31,383.5 245.41,383.5 248.51,383.5 251.6,383.5 254.7,383.5 257.8,383.5 260.9,383.5" fill="none" stroke="#a2a248" stroke-width="0.85" stroke-linejoin="round" />
<rect x="44" y="235.8" width="216.9" height="157.2" fill="none" stroke="#000" stroke-width="1.5"/>
<line x1="44" y1="393" x2="44" y2="396.5" stroke="#000" stroke-width="1.4" />
<text x="44" y="405.5" font-size="9" text-anchor="middle" fill="#000" stroke="#000" stroke-width="0.4" font-weight="bold" font-style="normal" >0</text>
<line x1="59.49" y1="393" x2="59.49" y2="395.5" stroke="#000" stroke-width="1.4" />
<line x1="74.99" y1="393" x2="74.99" y2="396.5" stroke="#000" stroke-width="1.4" />
<text x="74.99" y="405.5" font-size="9" text-anchor="middle" fill="#000" stroke="#000" stroke-width="0.4" font-weight="bold" font-style="normal" >5</text>
<line x1="90.48" y1="393" x2="90.48" y2="395.5" stroke="#000" stroke-width="1.4" />
<line x1="105.97" y1="393" x2="105.97" y2="396.5" stroke="#000" stroke-width="1.4" />
<text x="105.97" y="405.5" font-size="9" text-anchor="middle" fill="#000" stroke="#000" stroke-width="0.4" font-weight="bold" font-style="normal" >10</text>
<line x1="121.46" y1="393" x2="121.46" y2="395.5" stroke="#000" stroke-width="1.4" />
<line x1="136.96" y1="393" x2="136.96" y2="396.5" stroke="#000" stroke-width="1.4" />
<text x="136.96" y="405.5" font-size="9" text-anchor="middle" fill="#000" stroke="#000" stroke-width="0.4" font-weight="bold" font-style="normal" >15</text>
<line x1="152.45" y1="393" x2="152.45" y2="395.5" stroke="#000" stroke-width="1.4" />
<line x1="167.94" y1="393" x2="167.94" y2="396.5" stroke="#000" stroke-width="1.4" />
<text x="167.94" y="405.5" font-size="9" text-anchor="middle" fill="#000" stroke="#000" stroke-width="0.4" font-weight="bold" font-style="normal" >20</text>
<line x1="183.44" y1="393" x2="183.44" y2="395.5" stroke="#000" stroke-width="1.4" />
<line x1="198.93" y1="393" x2="198.93" y2="396.5" stroke="#000" stroke-width="1.4" />
<text x="198.93" y="405.5" font-size="9" text-anchor="middle" fill="#000" stroke="#000" stroke-width="0.4" font-weight="bold" font-style="normal" >25</text>
<line x1="214.42" y1="393" x2="214.42" y2="395.5" stroke="#000" stroke-width="1.4" />
<line x1="229.91" y1="393" x2="229.91" y2="396.5" stroke="#000" stroke-width="1.4" />
<text x="229.91" y="405.5" font-size="9" text-anchor="middle" fill="#000" stroke="#000" stroke-width="0.4" font-weight="bold" font-style="normal" >30</text>
<line x1="245.41" y1="393" x2="245.41" y2="395.5" stroke="#000" stroke-width="1.4" />
<line x1="260.9" y1="393" x2="260.9" y2="396.5" stroke="#000" stroke-width="1.4" />
<text x="260.9" y="405.5" font-size="9" text-anchor="middle" fill="#000" stroke="#000" stroke-width="0.4" font-weight="bold" font-style="normal" >35</text>
<line x1="40.5" y1="383.5" x2="44" y2="383.5" stroke="#000" stroke-width="1.4" />
<text x="38.4" y="386.5" font-size="9" text-anchor="end" fill="#000" stroke="#000" stroke-width="0.4" font-weight="bold" font-style="normal" >0</text>
<line x1="42" y1="367.1" x2="44" y2="367.1" stroke="#000" stroke-width="1.4" />
<line x1="40.5" y1="350.7" x2="44" y2="350.7" stroke="#000" stroke-width="1.4" />
<text x="38.4" y="353.7" font-size="9" text-anchor="end" fill="#000" stroke="#000" stroke-width="0.4" font-weight="bold" font-style="normal" >1000</text>
<line x1="42" y1="334.3" x2="44" y2="334.3" stroke="#000" stroke-width="1.4" />
<line x1="40.5" y1="317.9" x2="44" y2="317.9" stroke="#000" stroke-width="1.4" />
<text x="38.4" y="320.9" font-size="9" text-anchor="end" fill="#000" stroke="#000" stroke-width="0.4" font-weight="bold" font-style="normal" >2000</text>
<line x1="42" y1="301.5" x2="44" y2="301.5" stroke="#000" stroke-width="1.4" />
<line x1="40.5" y1="285.1" x2="44" y2="285.1" stroke="#000" stroke-width="1.4" />
<text x="38.4" y="288.1" font-size="9" text-anchor="end" fill="#000" stroke="#000" stroke-width="0.4" font-weight="bold" font-style="normal" >3000</text>
<line x1="42" y1="268.7" x2="44" y2="268.7" stroke="#000" stroke-width="1.4" />
<line x1="40.5" y1="252.3" x2="44" y2="252.3" stroke="#000" stroke-width="1.4" />
<text x="38.4" y="255.3" font-size="9" text-anchor="end" fill="#000" stroke="#000" stroke-width="0.4" font-weight="bold" font-style="normal" >4000</text>
<line x1="42" y1="235.9" x2="44" y2="235.9" stroke="#000" stroke-width="1.4" />
<text x="152.45" y="422" font-size="9.8" text-anchor="middle" fill="#000" stroke="#000" stroke-width="0.44" font-weight="bold" font-style="normal" >Time (min)</text>
<text transform="translate(10,321.2) rotate(-90)" font-size="10.2" text-anchor="middle" font-weight="bold" stroke="#000" stroke-width="0.5">OD<tspan stroke-width="0.3"  font-size="5.92" dy="3.8">254 nm</tspan></text>
<text x="24.5" y="240.5" font-size="13.6" text-anchor="start" fill="#2e2ed8" stroke="#2e2ed8" stroke-width="0" font-weight="bold" font-style="normal" >C</text>
<text x="136.8" y="230.6" font-size="13.2" text-anchor="middle" fill="#000" stroke="#000" stroke-width="0.59" font-weight="bold" font-style="italic" textLength="40" lengthAdjust="spacingAndGlyphs">ΔluxR</text>
<rect x="138.3" y="352.7" width="19.3" height="34.8" fill="none" stroke="#f06a5a" stroke-width="1.1" stroke-dasharray="1.6,1.8"/>
<line x1="88.5" y1="331.2" x2="138.3" y2="352.7" stroke="#f05a40" stroke-width="1.2" />
<line x1="157.6" y1="352.7" x2="240" y2="336" stroke="#f05a40" stroke-width="1.2" />
<line x1="185.2" y1="355.4" x2="202.9" y2="355.4" stroke="#808080" stroke-width="1.5" />
<text x="204.8" y="358.4" font-size="8.2" text-anchor="start" fill="#000" stroke="#000" stroke-width="0.37" font-weight="bold" font-style="normal" >6 h</text>
<line x1="222.5" y1="355.4" x2="240" y2="355.4" stroke="#f48080" stroke-width="1.5" />
<text x="242.5" y="358.4" font-size="8.2" text-anchor="start" fill="#000" stroke="#000" stroke-width="0.37" font-weight="bold" font-style="normal" >12 h</text>
<line x1="185.2" y1="365.6" x2="202.9" y2="365.6" stroke="#6060f0" stroke-width="1.5" />
<text x="204.8" y="368.6" font-size="8.2" text-anchor="start" fill="#000" stroke="#000" stroke-width="0.37" font-weight="bold" font-style="normal" >24 h</text>
<line x1="222.5" y1="365.6" x2="240" y2="365.6" stroke="#60b4b4" stroke-width="1.5" />
<text x="242.5" y="368.6" font-size="8.2" text-anchor="start" fill="#000" stroke="#000" stroke-width="0.37" font-weight="bold" font-style="normal" >48 h</text>
<line x1="185.2" y1="375.9" x2="202.9" y2="375.9" stroke="#f070f0" stroke-width="1.5" />
<text x="204.8" y="378.9" font-size="8.2" text-anchor="start" fill="#000" stroke="#000" stroke-width="0.37" font-weight="bold" font-style="normal" >72 h</text>
<line x1="222.5" y1="375.9" x2="240" y2="375.9" stroke="#b4b478" stroke-width="1.5" />
<text x="242.5" y="378.9" font-size="8.2" text-anchor="start" fill="#000" stroke="#000" stroke-width="0.37" font-weight="bold" font-style="normal" >96 h</text>
<polyline points="324.9,383.5 328,383.5 331.09,383.5 332.15,383.47 332.25,383.38 332.35,383.05 332.44,382 332.54,379.27 332.64,373.29 332.74,362.52 332.84,346.78 332.94,328.72 333.04,313.86 333.14,308.06 333.24,313.86 333.34,328.72 333.44,346.78 333.53,362.52 333.63,373.29 333.73,379.27 333.83,382 333.93,383.05 334.03,383.38 334.13,383.47 334.19,383.49 334.56,383.46 334.66,383.32 334.76,382.8 334.86,381.19 334.96,376.96 335.06,367.74 335.16,351.13 335.26,326.82 335.36,298.95 335.46,276.01 335.55,267.06 335.65,276.01 335.75,298.95 335.85,326.82 335.95,351.13 336.05,367.74 336.15,376.96 336.25,381.19 336.35,382.8 336.45,383.32 336.55,383.46 337.29,383.5 340.39,383.5 340.63,383.47 340.72,383.38 340.81,383.02 340.89,381.91 340.98,378.99 341.07,372.62 341.15,361.16 341.24,344.38 341.33,325.15 341.41,309.32 341.5,303.14 341.59,309.32 341.67,325.15 341.76,344.38 341.85,361.16 341.93,372.62 342.02,378.99 342.11,381.91 342.19,383.02 342.28,383.38 342.37,383.47 343.48,383.5 343.98,383.5 344.18,383.5 344.37,383.49 344.57,383.47 344.77,383.41 344.97,383.28 345.17,383.04 345.37,382.7 345.56,382.31 345.76,381.99 345.96,381.86 346.16,381.99 346.36,382.31 346.56,382.7 346.58,382.75 346.75,383.04 346.95,383.28 347.15,383.41 347.35,383.47 347.55,383.49 347.74,383.5 347.94,383.5 349.68,383.5 352.77,383.5 355.87,383.5 358.97,383.5 362.07,383.5 365.16,383.5 368.26,383.5 371.36,383.5 374.45,383.5 377.55,383.5 380.65,383.5 383.75,383.5 386.84,383.5 389.94,383.5 393.04,383.5 396.13,383.5 399.23,383.5 402.33,383.5 405.43,383.5 408.52,383.5 411.62,383.5 414.72,383.5 417.81,383.5 420.91,383.5 421.22,383.5 421.44,383.48 421.67,383.42 421.89,383.24 422.11,382.77 422.34,381.74 422.56,379.89 422.78,377.18 423.01,374.07 423.23,371.51 423.45,370.51 423.67,371.51 423.9,374.07 424.01,375.62 424.12,377.18 424.34,379.89 424.57,381.74 424.79,382.77 425.01,383.24 425.24,383.42 425.46,383.48 425.68,383.5 427.11,383.5 430.2,383.5 431.49,383.49 431.71,383.48 431.93,383.41 432.15,383.19 432.38,382.63 432.6,381.41 432.82,379.21 433.05,376 433.27,372.31 433.3,371.81 433.49,369.27 433.72,368.08 433.94,369.27 434.16,372.31 434.38,376 434.61,379.21 434.83,381.41 435.05,382.63 435.28,383.19 435.5,383.41 435.72,383.48 435.94,383.49 436.4,383.5 439.49,383.5 442.59,383.5 445.69,383.5 448.79,383.5 451.88,383.5 454.98,383.5 458.08,383.5 461.17,383.5 464.27,383.5 467.37,383.5 470.47,383.5 473.56,383.5 476.66,383.5 479.76,383.5 482.85,383.5 485.95,383.5 489.05,383.5 492.15,383.5 495.24,383.5 498.34,383.5 498.84,383.5 499.03,383.5 499.23,383.5 499.43,383.48 499.63,383.45 499.83,383.39 500.02,383.27 500.22,383.1 500.42,382.9 500.62,382.74 500.82,382.68 501.02,382.74 501.21,382.9 501.41,383.1 501.44,383.12 501.61,383.27 501.81,383.39 502.01,383.45 502.21,383.48 502.4,383.5 502.6,383.5 502.8,383.5 504.53,383.5 507.63,383.5 510.73,383.5 513.83,383.5 516.92,383.5 520.02,383.5 523.12,383.5 526.21,383.5 529.31,383.5 532.41,383.5 535.51,383.5 538.6,383.5 541.7,383.5" fill="none" stroke="#ff50ff" stroke-width="0.85" stroke-linejoin="round" />
<polyline points="324.9,383.5 328,383.5 331.09,383.5 332.15,383.47 332.25,383.36 332.35,382.97 332.44,381.74 332.54,378.53 332.64,371.51 332.74,358.88 332.84,340.39 332.94,319.19 333.04,301.75 333.14,294.94 333.24,301.75 333.34,319.19 333.44,340.39 333.53,358.88 333.63,371.51 333.73,378.53 333.83,381.74 333.93,382.97 334.03,383.36 334.13,383.47 334.19,383.49 334.56,383.46 334.66,383.3 334.76,382.74 334.86,380.96 334.96,376.32 335.06,366.19 335.16,347.93 335.26,321.23 335.36,290.61 335.46,265.41 335.55,255.58 335.65,265.41 335.75,290.61 335.85,321.23 335.95,347.93 336.05,366.19 336.15,376.32 336.25,380.96 336.35,382.74 336.45,383.3 336.55,383.46 337.29,383.5 340.39,383.5 340.63,383.47 340.72,383.38 340.81,383.02 340.89,381.91 340.98,378.99 341.07,372.62 341.15,361.16 341.24,344.38 341.33,325.15 341.41,309.32 341.5,303.14 341.59,309.32 341.67,325.15 341.76,344.38 341.85,361.16 341.93,372.62 342.02,378.99 342.11,381.91 342.19,383.02 342.28,383.38 342.37,383.47 343.48,383.5 346.58,383.5 348.19,383.5 348.34,383.49 348.49,383.48 348.64,383.42 348.79,383.28 348.93,382.97 349.08,382.41 349.23,381.58 349.38,380.64 349.53,379.87 349.68,379.56 349.83,379.87 349.97,380.64 350.12,381.58 350.27,382.41 350.42,382.97 350.57,383.28 350.72,383.42 350.87,383.48 351.02,383.49 351.16,383.5 352.77,383.5 355.87,383.5 358.97,383.5 360.39,383.5 360.59,383.5 360.79,383.49 360.99,383.46 361.19,383.39 361.38,383.23 361.58,382.95 361.78,382.54 361.98,382.07 362.07,381.88 362.18,381.68 362.38,381.53 362.57,381.68 362.77,382.07 362.97,382.54 363.17,382.95 363.37,383.23 363.56,383.39 363.76,383.46 363.96,383.49 364.16,383.5 364.36,383.5 365.16,383.5 368.26,383.5 371.36,383.5 374.45,383.5 377.55,383.5 380.65,383.5 383.75,383.5 386.84,383.5 389.94,383.5 393.04,383.5 396.13,383.5 399.23,383.5 402.33,383.5 405.43,383.5 408.52,383.5 411.62,383.5 414.72,383.5 417.81,383.5 420.91,383.5 421.72,383.5 421.94,383.5 422.16,383.49 422.39,383.47 422.61,383.4 422.83,383.27 423.05,383.03 423.28,382.67 423.5,382.26 423.72,381.93 423.95,381.79 424.01,381.8 424.17,381.93 424.39,382.26 424.62,382.67 424.84,383.03 425.06,383.27 425.28,383.4 425.51,383.47 425.73,383.49 425.95,383.5 426.18,383.5 427.11,383.5 430.2,383.5 431.81,383.5 432.03,383.49 432.25,383.45 432.48,383.35 432.7,383.07 432.92,382.47 433.15,381.38 433.3,380.31 433.37,379.78 433.59,377.95 433.81,376.45 434.04,375.86 434.26,376.45 434.48,377.95 434.71,379.78 434.93,381.38 435.15,382.47 435.38,383.07 435.6,383.35 435.82,383.45 436.04,383.49 436.27,383.5 436.4,383.5 439.49,383.5 442.59,383.5 445.69,383.5 448.79,383.5 451.88,383.5 454.98,383.5 458.08,383.5 461.17,383.5 464.27,383.5 467.37,383.5 470.47,383.5 473.56,383.5 476.66,383.5 479.76,383.5 482.85,383.5 485.95,383.5 489.05,383.5 492.15,383.5 495.24,383.5 498.34,383.5 501.44,383.5 504.53,383.5 507.63,383.5 510.73,383.5 513.83,383.5 516.92,383.5 520.02,383.5 523.12,383.5 526.21,383.5 529.31,383.5 532.41,383.5 535.51,383.5 538.6,383.5 541.7,383.5" fill="none" stroke="#505050" stroke-width="0.85" stroke-linejoin="round" />
<polyline points="324.9,383.5 328,383.5 331.09,383.5 331.96,383.48 332.06,383.39 332.16,383.08 332.26,382.1 332.36,379.54 332.46,373.96 332.56,363.89 332.66,349.17 332.75,332.29 332.85,318.4 332.95,312.98 333.05,318.4 333.15,332.29 333.25,349.17 333.35,363.89 333.45,373.96 333.55,379.54 333.65,382.1 333.75,383.08 333.84,383.39 333.94,383.48 334.19,383.5 334.56,383.46 334.66,383.3 334.76,382.72 334.86,380.9 334.96,376.14 335.06,365.74 335.16,347.02 335.26,319.64 335.36,288.23 335.46,262.39 335.55,252.3 335.65,262.39 335.75,288.23 335.85,319.64 335.95,347.02 336.05,365.74 336.15,376.14 336.25,380.9 336.35,382.72 336.45,383.3 336.55,383.46 337.29,383.5 340.39,383.5 340.63,383.47 340.72,383.38 340.81,383.02 340.89,381.91 340.98,378.99 341.07,372.62 341.15,361.16 341.24,344.38 341.33,325.15 341.41,309.32 341.5,303.14 341.59,309.32 341.67,325.15 341.76,344.38 341.85,361.16 341.93,372.62 342.02,378.99 342.11,381.91 342.19,383.02 342.28,383.38 342.37,383.47 343.48,383.5 343.98,383.5 344.18,383.5 344.37,383.49 344.57,383.47 344.77,383.43 344.97,383.32 345.17,383.14 345.37,382.86 345.56,382.55 345.76,382.29 345.96,382.19 346.16,382.29 346.36,382.55 346.56,382.86 346.58,382.9 346.75,383.14 346.95,383.32 347.15,383.43 347.35,383.47 347.55,383.49 347.74,383.5 347.94,383.5 349.68,383.5 352.77,383.5 355.87,383.5 358.97,383.5 360.39,383.5 360.59,383.49 360.79,383.48 360.99,383.43 361.19,383.3 361.38,383.01 361.58,382.5 361.78,381.74 361.98,380.88 362.07,380.53 362.18,380.17 362.38,379.89 362.57,380.17 362.77,380.88 362.97,381.74 363.17,382.5 363.37,383.01 363.56,383.3 363.76,383.43 363.96,383.48 364.16,383.49 364.36,383.5 365.16,383.5 368.26,383.5 371.36,383.5 374.45,383.5 377.55,383.5 380.65,383.5 383.75,383.5 386.84,383.5 389.94,383.5 393.04,383.5 396.13,383.5 399.23,383.5 402.33,383.5 405.43,383.5 408.52,383.5 411.62,383.5 414.72,383.5 417.81,383.5 420.91,383.5 421.26,383.49 421.49,383.47 421.71,383.37 421.93,383.06 422.16,382.24 422.38,380.47 422.6,377.27 422.83,372.6 423.05,367.23 423.27,362.82 423.49,361.1 423.72,362.82 423.94,367.23 424.01,368.86 424.16,372.6 424.39,377.27 424.61,380.47 424.83,382.24 425.06,383.06 425.28,383.37 425.5,383.47 425.72,383.49 427.11,383.5 430.2,383.5 431.44,383.5 431.66,383.48 431.88,383.44 432.1,383.3 432.33,382.94 432.55,382.16 432.77,380.75 433,378.68 433.22,376.31 433.3,375.51 433.44,374.36 433.67,373.59 433.89,374.36 434.11,376.31 434.33,378.68 434.56,380.75 434.78,382.16 435,382.94 435.23,383.3 435.45,383.44 435.67,383.48 435.9,383.5 436.4,383.5 439.49,383.5 442.59,383.5 445.69,383.5 448.79,383.5 451.88,383.5 454.98,383.5 458.08,383.5 461.17,383.5 464.27,383.5 467.37,383.5 470.47,383.5 473.56,383.5 476.66,383.5 479.76,383.5 482.85,383.5 485.95,383.5 489.05,383.5 492.15,383.5 495.24,383.5 498.34,383.5 501.44,383.5 504.53,383.5 507.63,383.5 510.73,383.5 513.83,383.5 516.92,383.5 520.02,383.5 523.12,383.5 526.21,383.5 529.31,383.5 532.41,383.5 535.51,383.5 538.6,383.5 541.7,383.5" fill="none" stroke="#ff4a4a" stroke-width="0.85" stroke-linejoin="round" />
<polyline points="324.9,383.5 328,383.5 331.09,383.5 332.15,383.47 332.25,383.37 332.35,383 332.44,381.84 332.54,378.8 332.64,372.18 332.74,360.24 332.84,342.79 332.94,322.76 333.04,306.29 333.14,299.86 333.24,306.29 333.34,322.76 333.44,342.79 333.53,360.24 333.63,372.18 333.73,378.8 333.83,381.84 333.93,383 334.03,383.37 334.13,383.47 334.19,383.49 334.56,383.46 334.66,383.31 334.76,382.76 334.86,381.06 334.96,376.6 335.06,366.85 335.16,349.3 335.26,323.63 335.36,294.18 335.46,269.96 335.55,260.5 335.65,269.96 335.75,294.18 335.85,323.63 335.95,349.3 336.05,366.85 336.15,376.6 336.25,381.06 336.35,382.76 336.45,383.31 336.55,383.46 337.29,383.5 340.39,383.5 340.63,383.47 340.72,383.38 340.81,383.02 340.89,381.91 340.98,378.99 341.07,372.62 341.15,361.16 341.24,344.38 341.33,325.15 341.41,309.32 341.5,303.14 341.59,309.32 341.67,325.15 341.76,344.38 341.85,361.16 341.93,372.62 342.02,378.99 342.11,381.91 342.19,383.02 342.28,383.38 342.37,383.47 343.48,383.5 343.98,383.5 344.18,383.5 344.37,383.49 344.57,383.47 344.77,383.43 344.97,383.32 345.17,383.14 345.37,382.86 345.56,382.55 345.76,382.29 345.96,382.19 346.16,382.29 346.36,382.55 346.56,382.86 346.58,382.9 346.75,383.14 346.95,383.32 347.15,383.43 347.35,383.47 347.55,383.49 347.74,383.5 347.94,383.5 349.68,383.5 352.77,383.5 355.87,383.5 358.97,383.5 360.39,383.5 360.59,383.5 360.79,383.48 360.99,383.44 361.19,383.33 361.38,383.1 361.58,382.68 361.78,382.06 361.98,381.36 362.07,381.07 362.18,380.77 362.38,380.55 362.57,380.77 362.77,381.36 362.97,382.06 363.17,382.68 363.37,383.1 363.56,383.33 363.76,383.44 363.96,383.48 364.16,383.5 364.36,383.5 365.16,383.5 368.26,383.5 371.36,383.5 374.45,383.5 376.81,383.5 377.01,383.5 377.2,383.49 377.4,383.45 377.55,383.4 377.6,383.37 377.8,383.19 378,382.86 378.2,382.38 378.39,381.83 378.59,381.38 378.79,381.2 378.99,381.38 379.19,381.83 379.38,382.38 379.58,382.86 379.78,383.19 379.98,383.37 380.18,383.45 380.38,383.49 380.57,383.5 380.65,383.5 380.77,383.5 383.75,383.5 386.84,383.5 389.94,383.5 393.04,383.5 396.13,383.5 399.23,383.5 402.33,383.5 405.43,383.5 408.52,383.5 411.62,383.5 414.72,383.5 417.81,383.5 420.91,383.5 421.16,383.49 421.38,383.45 421.61,383.32 421.83,382.9 422.05,381.81 422.27,379.43 422.5,375.15 422.72,368.88 422.94,361.68 423.17,355.77 423.39,353.46 423.61,355.77 423.84,361.68 424.01,367.29 424.06,368.88 424.28,375.15 424.5,379.43 424.73,381.81 424.95,382.9 425.17,383.32 425.4,383.45 425.62,383.49 427.11,383.5 430.2,383.5 431.32,383.5 431.54,383.48 431.76,383.42 431.99,383.24 432.21,382.76 432.43,381.72 432.66,379.85 432.88,377.11 433.1,373.97 433.3,371.61 433.32,371.39 433.55,370.38 433.77,371.39 433.99,373.97 434.22,377.11 434.44,379.85 434.66,381.72 434.89,382.76 435.11,383.24 435.33,383.42 435.55,383.48 435.78,383.5 436.4,383.5 439.49,383.5 442.59,383.5 445.69,383.5 448.79,383.5 451.88,383.5 454.98,383.5 458.08,383.5 461.17,383.5 464.27,383.5 467.37,383.5 470.47,383.5 473.56,383.5 476.66,383.5 479.76,383.5 482.85,383.5 485.95,383.5 489.05,383.5 492.15,383.5 495.24,383.5 498.34,383.5 501.44,383.5 504.53,383.5 507.63,383.5 510.73,383.5 513.83,383.5 516.92,383.5 520.02,383.5 523.12,383.5 526.21,383.5 529.31,383.5 532.41,383.5 535.51,383.5 538.6,383.5 541.7,383.5" fill="none" stroke="#4a4aff" stroke-width="0.85" stroke-linejoin="round" />
<polyline points="324.9,383.5 328,383.5 331.09,383.5 332.15,383.47 332.25,383.37 332.35,383.01 332.44,381.87 332.54,378.9 332.64,372.4 332.74,360.7 332.84,343.59 332.94,323.96 333.04,307.8 333.14,301.5 333.24,307.8 333.34,323.96 333.44,343.59 333.53,360.7 333.63,372.4 333.73,378.9 333.83,381.87 333.93,383.01 334.03,383.37 334.13,383.47 334.19,383.49 334.56,383.46 334.66,383.32 334.76,382.78 334.86,381.12 334.96,376.78 335.06,367.3 335.16,350.21 335.26,325.23 335.36,296.57 335.46,272.98 335.55,263.78 335.65,272.98 335.75,296.57 335.85,325.23 335.95,350.21 336.05,367.3 336.15,376.78 336.25,381.12 336.35,382.78 336.45,383.32 336.55,383.46 337.29,383.5 340.39,383.5 340.63,383.47 340.72,383.38 340.81,383.02 340.89,381.91 340.98,378.99 341.07,372.62 341.15,361.16 341.24,344.38 341.33,325.15 341.41,309.32 341.5,303.14 341.59,309.32 341.67,325.15 341.76,344.38 341.85,361.16 341.93,372.62 342.02,378.99 342.11,381.91 342.19,383.02 342.28,383.38 342.37,383.47 343.48,383.5 346.58,383.5 349.68,383.5 352.77,383.5 355.87,383.5 358.97,383.5 360.39,383.5 360.59,383.5 360.79,383.49 360.99,383.45 361.19,383.37 361.38,383.19 361.58,382.86 361.78,382.38 361.98,381.83 362.07,381.61 362.18,381.38 362.38,381.2 362.57,381.38 362.77,381.83 362.97,382.38 363.17,382.86 363.37,383.19 363.56,383.37 363.76,383.45 363.96,383.49 364.16,383.5 364.36,383.5 365.16,383.5 368.26,383.5 371.36,383.5 374.45,383.5 377.55,383.5 380.65,383.5 383.75,383.5 386.84,383.5 389.94,383.5 393.04,383.5 396.13,383.5 399.23,383.5 402.33,383.5 405.43,383.5 408.52,383.5 411.62,383.5 414.72,383.5 417.81,383.5 420.91,383.5 421.59,383.49 421.82,383.47 422.04,383.4 422.26,383.16 422.48,382.54 422.71,381.18 422.93,378.73 423.15,375.15 423.38,371.04 423.6,367.66 423.82,366.35 424.01,367.27 424.05,367.66 424.27,371.04 424.49,375.15 424.71,378.73 424.94,381.18 425.16,382.54 425.38,383.16 425.61,383.4 425.83,383.47 426.05,383.49 427.11,383.5 430.2,383.5 431.51,383.5 431.73,383.48 431.96,383.43 432.18,383.26 432.4,382.83 432.62,381.88 432.85,380.17 433.07,377.67 433.29,374.81 433.3,374.73 433.52,372.45 433.74,371.53 433.96,372.45 434.19,374.81 434.41,377.67 434.63,380.17 434.85,381.88 435.08,382.83 435.3,383.26 435.52,383.43 435.75,383.48 435.97,383.5 436.4,383.5 439.49,383.5 442.59,383.5 445.69,383.5 448.79,383.5 451.88,383.5 454.98,383.5 458.08,383.5 461.17,383.5 464.27,383.5 467.37,383.5 470.47,383.5 473.56,383.5 476.66,383.5 479.76,383.5 482.85,383.5 485.95,383.5 489.05,383.5 492.15,383.5 495.24,383.5 498.34,383.5 501.44,383.5 504.53,383.5 507.63,383.5 510.73,383.5 513.83,383.5 516.92,383.5 520.02,383.5 523.12,383.5 526.21,383.5 529.31,383.5 532.41,383.5 535.51,383.5 538.6,383.5 541.7,383.5" fill="none" stroke="#40a4a4" stroke-width="0.85" stroke-linejoin="round" />
<polyline points="324.9,383.5 328,383.5 331.09,383.5 332.15,383.48 332.25,383.4 332.35,383.11 332.44,382.2 332.54,379.82 332.64,374.62 332.74,365.26 332.84,351.57 332.94,335.86 333.04,322.94 333.14,317.9 333.24,322.94 333.34,335.86 333.44,351.57 333.53,365.26 333.63,374.62 333.73,379.82 333.83,382.2 333.93,383.11 334.03,383.4 334.13,383.48 334.19,383.49 334.56,383.46 334.66,383.32 334.76,382.79 334.86,381.16 334.96,376.87 335.06,367.52 335.16,350.67 335.26,326.02 335.36,297.76 335.46,274.5 335.55,265.42 335.65,274.5 335.75,297.76 335.85,326.02 335.95,350.67 336.05,367.52 336.15,376.87 336.25,381.16 336.35,382.79 336.45,383.32 336.55,383.46 337.29,383.5 340.39,383.5 340.63,383.47 340.72,383.37 340.81,383.01 340.89,381.87 340.98,378.9 341.07,372.4 341.15,360.7 341.24,343.59 341.33,323.96 341.41,307.8 341.5,301.5 341.59,307.8 341.67,323.96 341.76,343.59 341.85,360.7 341.93,372.4 342.02,378.9 342.11,381.87 342.19,383.01 342.28,383.37 342.37,383.47 343.48,383.5 346.58,383.5 349.68,383.5 352.77,383.5 355.87,383.5 358.97,383.5 362.07,383.5 365.16,383.5 368.26,383.5 371.36,383.5 374.45,383.5 377.55,383.5 380.65,383.5 383.75,383.5 386.84,383.5 389.44,383.5 389.74,383.5 389.94,383.5 390.04,383.5 390.34,383.48 390.63,383.45 390.93,383.39 391.23,383.27 391.53,383.1 391.82,382.9 392.12,382.74 392.42,382.68 392.72,382.74 393.01,382.9 393.04,382.92 393.31,383.1 393.61,383.27 393.9,383.39 394.2,383.45 394.5,383.48 394.8,383.5 395.09,383.5 395.39,383.5 396.13,383.5 399.23,383.5 402.33,383.5 405.43,383.5 408.52,383.5 411.62,383.5 414.72,383.5 417.81,383.5 420.91,383.5 421.16,383.5 421.38,383.49 421.61,383.45 421.83,383.33 422.05,383.01 422.27,382.32 422.5,381.08 422.72,379.27 422.94,377.19 423.17,375.48 423.39,374.81 423.61,375.48 423.84,377.19 424.01,378.81 424.06,379.27 424.28,381.08 424.5,382.32 424.73,383.01 424.95,383.33 425.17,383.45 425.4,383.49 425.62,383.5 427.11,383.5 430.2,383.5 431.37,383.5 431.59,383.48 431.81,383.42 432.04,383.22 432.26,382.71 432.48,381.59 432.71,379.58 432.93,376.63 433.15,373.26 433.3,371.27 433.37,370.48 433.6,369.4 433.82,370.48 434.04,373.26 434.27,376.63 434.49,379.58 434.71,381.59 434.94,382.71 435.16,383.22 435.38,383.42 435.6,383.48 435.83,383.5 436.4,383.5 439.49,383.5 442.59,383.5 445.69,383.5 448.79,383.5 451.88,383.5 454.98,383.5 458.08,383.5 461.17,383.5 464.27,383.5 467.37,383.5 470.47,383.5 473.56,383.5 476.66,383.5 479.76,383.5 482.85,383.5 485.95,383.5 489.05,383.5 492.15,383.5 495.24,383.5 498.34,383.5 501.44,383.5 504.53,383.5 507.63,383.5 510.73,383.5 513.83,383.5 516.92,383.5 520.02,383.5 523.12,383.5 526.21,383.5 529.31,383.5 532.41,383.5 535.51,383.5 538.6,383.5 541.7,383.5" fill="none" stroke="#a2a248" stroke-width="0.85" stroke-linejoin="round" />
<rect x="324.9" y="235.5" width="216.8" height="157.5" fill="none" stroke="#000" stroke-width="1.5"/>
<line x1="324.9" y1="393" x2="324.9" y2="396.5" stroke="#000" stroke-width="1.4" />
<text x="324.9" y="405.5" font-size="9" text-anchor="middle" fill="#000" stroke="#000" stroke-width="0.4" font-weight="bold" font-style="normal" >0</text>
<line x1="340.39" y1="393" x2="340.39" y2="395.5" stroke="#000" stroke-width="1.4" />
<line x1="355.87" y1="393" x2="355.87" y2="396.5" stroke="#000" stroke-width="1.4" />
<text x="355.87" y="405.5" font-size="9" text-anchor="middle" fill="#000" stroke="#000" stroke-width="0.4" font-weight="bold" font-style="normal" >5</text>
<line x1="371.36" y1="393" x2="371.36" y2="395.5" stroke="#000" stroke-width="1.4" />
<line x1="386.84" y1="393" x2="386.84" y2="396.5" stroke="#000" stroke-width="1.4" />
<text x="386.84" y="405.5" font-size="9" text-anchor="middle" fill="#000" stroke="#000" stroke-width="0.4" font-weight="bold" font-style="normal" >10</text>
<line x1="402.33" y1="393" x2="402.33" y2="395.5" stroke="#000" stroke-width="1.4" />
<line x1="417.81" y1="393" x2="417.81" y2="396.5" stroke="#000" stroke-width="1.4" />
<text x="417.81" y="405.5" font-size="9" text-anchor="middle" fill="#000" stroke="#000" stroke-width="0.4" font-weight="bold" font-style="normal" >15</text>
<line x1="433.3" y1="393" x2="433.3" y2="395.5" stroke="#000" stroke-width="1.4" />
<line x1="448.79" y1="393" x2="448.79" y2="396.5" stroke="#000" stroke-width="1.4" />
<text x="448.79" y="405.5" font-size="9" text-anchor="middle" fill="#000" stroke="#000" stroke-width="0.4" font-weight="bold" font-style="normal" >20</text>
<line x1="464.27" y1="393" x2="464.27" y2="395.5" stroke="#000" stroke-width="1.4" />
<line x1="479.76" y1="393" x2="479.76" y2="396.5" stroke="#000" stroke-width="1.4" />
<text x="479.76" y="405.5" font-size="9" text-anchor="middle" fill="#000" stroke="#000" stroke-width="0.4" font-weight="bold" font-style="normal" >25</text>
<line x1="495.24" y1="393" x2="495.24" y2="395.5" stroke="#000" stroke-width="1.4" />
<line x1="510.73" y1="393" x2="510.73" y2="396.5" stroke="#000" stroke-width="1.4" />
<text x="510.73" y="405.5" font-size="9" text-anchor="middle" fill="#000" stroke="#000" stroke-width="0.4" font-weight="bold" font-style="normal" >30</text>
<line x1="526.21" y1="393" x2="526.21" y2="395.5" stroke="#000" stroke-width="1.4" />
<line x1="541.7" y1="393" x2="541.7" y2="396.5" stroke="#000" stroke-width="1.4" />
<text x="541.7" y="405.5" font-size="9" text-anchor="middle" fill="#000" stroke="#000" stroke-width="0.4" font-weight="bold" font-style="normal" >35</text>
<line x1="321.4" y1="383.5" x2="324.9" y2="383.5" stroke="#000" stroke-width="1.4" />
<text x="319.3" y="386.5" font-size="9" text-anchor="end" fill="#000" stroke="#000" stroke-width="0.4" font-weight="bold" font-style="normal" >0</text>
<line x1="322.9" y1="367.1" x2="324.9" y2="367.1" stroke="#000" stroke-width="1.4" />
<line x1="321.4" y1="350.7" x2="324.9" y2="350.7" stroke="#000" stroke-width="1.4" />
<text x="319.3" y="353.7" font-size="9" text-anchor="end" fill="#000" stroke="#000" stroke-width="0.4" font-weight="bold" font-style="normal" >1000</text>
<line x1="322.9" y1="334.3" x2="324.9" y2="334.3" stroke="#000" stroke-width="1.4" />
<line x1="321.4" y1="317.9" x2="324.9" y2="317.9" stroke="#000" stroke-width="1.4" />
<text x="319.3" y="320.9" font-size="9" text-anchor="end" fill="#000" stroke="#000" stroke-width="0.4" font-weight="bold" font-style="normal" >2000</text>
<line x1="322.9" y1="301.5" x2="324.9" y2="301.5" stroke="#000" stroke-width="1.4" />
<line x1="321.4" y1="285.1" x2="324.9" y2="285.1" stroke="#000" stroke-width="1.4" />
<text x="319.3" y="288.1" font-size="9" text-anchor="end" fill="#000" stroke="#000" stroke-width="0.4" font-weight="bold" font-style="normal" >3000</text>
<line x1="322.9" y1="268.7" x2="324.9" y2="268.7" stroke="#000" stroke-width="1.4" />
<line x1="321.4" y1="252.3" x2="324.9" y2="252.3" stroke="#000" stroke-width="1.4" />
<text x="319.3" y="255.3" font-size="9" text-anchor="end" fill="#000" stroke="#000" stroke-width="0.4" font-weight="bold" font-style="normal" >4000</text>
<line x1="322.9" y1="235.9" x2="324.9" y2="235.9" stroke="#000" stroke-width="1.4" />
<text x="433.3" y="422" font-size="9.8" text-anchor="middle" fill="#000" stroke="#000" stroke-width="0.44" font-weight="bold" font-style="normal" >Time (min)</text>
<text transform="translate(291,319.8) rotate(-90)" font-size="10.2" text-anchor="middle" font-weight="bold" stroke="#000" stroke-width="0.5">OD<tspan stroke-width="0.3"  font-size="5.92" dy="3.8">254 nm</tspan></text>
<text x="304" y="240" font-size="13.6" text-anchor="start" fill="#2e2ed8" stroke="#2e2ed8" stroke-width="0" font-weight="bold" font-style="normal" >D</text>
<text x="429.3" y="231.6" font-size="13.2" text-anchor="middle" fill="#000" stroke="#000" stroke-width="0.59" font-weight="bold" font-style="italic" textLength="41" lengthAdjust="spacingAndGlyphs">ΔluxIR</text>
<rect x="417.2" y="352.2" width="21.7" height="34.5" fill="none" stroke="#f07060" stroke-width="1" stroke-dasharray="1.2,2.2"/>
<line x1="360.4" y1="330.4" x2="417.2" y2="352.2" stroke="#f05a40" stroke-width="1.2" />
<line x1="438.9" y1="352.2" x2="522" y2="336" stroke="#f05a40" stroke-width="1.2" />
<line x1="466.5" y1="355" x2="483.8" y2="355" stroke="#808080" stroke-width="1.5" />
<text x="485.6" y="358" font-size="8.2" text-anchor="start" fill="#000" stroke="#000" stroke-width="0.37" font-weight="bold" font-style="normal" >6 h</text>
<line x1="504.2" y1="355" x2="520.7" y2="355" stroke="#f48080" stroke-width="1.5" />
<text x="522.5" y="358" font-size="8.2" text-anchor="start" fill="#000" stroke="#000" stroke-width="0.37" font-weight="bold" font-style="normal" >12 h</text>
<line x1="466.5" y1="365.5" x2="483.8" y2="365.5" stroke="#6060f0" stroke-width="1.5" />
<text x="485.6" y="368.5" font-size="8.2" text-anchor="start" fill="#000" stroke="#000" stroke-width="0.37" font-weight="bold" font-style="normal" >24 h</text>
<line x1="504.2" y1="365.5" x2="520.7" y2="365.5" stroke="#60b4b4" stroke-width="1.5" />
<text x="522.5" y="368.5" font-size="8.2" text-anchor="start" fill="#000" stroke="#000" stroke-width="0.37" font-weight="bold" font-style="normal" >48 h</text>
<line x1="466.5" y1="375.9" x2="483.8" y2="375.9" stroke="#f070f0" stroke-width="1.5" />
<text x="485.6" y="378.9" font-size="8.2" text-anchor="start" fill="#000" stroke="#000" stroke-width="0.37" font-weight="bold" font-style="normal" >72 h</text>
<line x1="504.2" y1="375.9" x2="520.7" y2="375.9" stroke="#b4b478" stroke-width="1.5" />
<text x="522.5" y="378.9" font-size="8.2" text-anchor="start" fill="#000" stroke="#000" stroke-width="0.37" font-weight="bold" font-style="normal" >96 h</text>
<rect x="82.4" y="24.8" width="161.4" height="88.5" fill="#fff" stroke="none"/>
<clipPath id="ca"><rect x="82.4" y="24.8" width="161.4" height="88.5"/></clipPath>
<polyline points="82.4,105.12 83.41,105.1 84.42,105.07 85.43,105.04 86.43,105 87.44,104.96 88.45,104.91 89.46,104.85 90.47,104.79 91.48,104.73 92.49,104.66 93.5,104.59 94.5,104.52 95.51,104.46 96.52,104.4 97.53,104.34 98.54,104.3 99.55,104.26 100.56,104.24 101.57,104.23 102.57,104.23 103.58,104.24 104.59,104.26 105.6,104.29 106.61,104.31 107.62,104.33 108.63,104.34 109.64,104.32 110.64,104.28 111.65,104.2 112.66,104.08 113.67,103.92 114.68,103.72 115.69,103.49 116.7,103.24 117.71,103 118.71,102.77 119.72,102.58 120.73,102.46 121.74,102.4 122.75,102.43 123.76,102.53 124.77,102.7 125.78,102.92 126.78,103.17 127.79,103.45 128.8,103.73 129.81,104 130.82,104.25 131.83,104.49 132.84,104.69 133.85,104.86 134.86,105 135.86,105.11 136.87,105.19 137.88,105.26 138.89,105.31 139.9,105.35 140.91,105.39 141.92,105.41 142.92,105.44 143.93,105.46 144.94,105.48 145.95,105.51 146.96,105.52 147.97,105.52 148.98,105.52 149.99,105.52 150.99,105.52 152,105.52 153.01,105.52 154.02,105.52 155.03,105.52 156.04,105.52 157.05,105.52 158.06,105.52 159.07,105.52 160.07,105.52 161.08,105.52 162.09,105.52 163.1,105.52 164.11,105.52 165.12,105.52 166.13,105.52 167.14,105.52 168.14,105.52 169.15,105.52 170.16,105.52 171.17,105.52 172.18,105.52 173.19,105.52 174.2,105.52 175.2,105.52 176.21,105.52 177.22,105.52 178.23,105.52 179.24,105.52 180.25,105.52 181.26,105.52 182.27,105.52 183.27,105.52 184.28,105.52 185.29,105.52 186.3,105.52 187.31,105.52 188.32,105.51 189.33,105.5 190.34,105.48 191.35,105.45 192.35,105.39 193.36,105.3 194.37,105.15 195.38,104.92 196.39,104.58 197.4,104.1 198.41,103.45 199.42,102.58 200.42,101.48 201.43,100.13 202.44,98.57 203.45,96.83 204.46,94.99 205.47,93.16 206.48,91.46 207.48,90.02 208.49,88.97 209.5,88.39 210.51,88.34 211.52,88.77 212.53,89.65 213.54,90.91 214.55,92.44 215.55,94.13 216.56,95.88 217.57,97.59 218.58,99.18 219.59,100.59 220.6,101.79 221.61,102.78 222.62,103.57 223.63,104.16 224.63,104.6 225.64,104.92 226.65,105.14 227.66,105.28 228.67,105.38 229.68,105.44 230.69,105.47 231.7,105.5 232.7,105.51 233.71,105.51 234.72,105.52 235.73,105.52 236.74,105.52 237.75,105.52 238.76,105.52 239.76,105.52 240.77,105.52 241.78,105.52 242.79,105.52 243.8,105.52" fill="none" stroke="#303030" stroke-width="1.7" stroke-linejoin="round" clip-path="url(#ca)"/>
<polyline points="82.4,105.02 83.41,104.97 84.42,104.91 85.43,104.83 86.43,104.74 87.44,104.64 88.45,104.52 89.46,104.39 90.47,104.25 91.48,104.09 92.49,103.94 93.5,103.78 94.5,103.62 95.51,103.46 96.52,103.32 97.53,103.2 98.54,103.09 99.55,103.01 100.56,102.96 101.57,102.94 102.57,102.94 103.58,102.95 104.59,102.98 105.6,103.01 106.61,103 107.62,102.92 108.63,102.73 109.64,102.34 110.64,101.68 111.65,100.64 112.66,99.1 113.67,96.95 114.68,94.1 115.69,90.48 116.7,86.1 117.71,81.03 118.71,75.47 119.72,69.68 120.73,64.02 121.74,58.9 122.75,54.74 123.76,51.89 124.77,50.62 125.78,50.99 126.78,52.87 127.79,56.08 128.8,60.38 129.81,65.43 130.82,70.92 131.83,76.54 132.84,81.93 133.85,86.88 134.86,91.23 135.86,94.9 136.87,97.89 137.88,100.25 138.89,102.06 139.9,103.4 140.91,104.37 141.92,105.06 142.92,105.54 143.93,105.88 144.94,106.12 145.95,106.3 146.96,106.42 147.97,106.45 148.98,106.47 149.99,106.48 150.99,106.48 152,106.49 153.01,106.49 154.02,106.49 155.03,106.49 156.04,106.49 157.05,106.49 158.06,106.49 159.07,106.49 160.07,106.49 161.08,106.49 162.09,106.49 163.1,106.49 164.11,106.49 165.12,106.49 166.13,106.49 167.14,106.49 168.14,106.49 169.15,106.49 170.16,106.49 171.17,106.49 172.18,106.49 173.19,106.49 174.2,106.49 175.2,106.49 176.21,106.49 177.22,106.49 178.23,106.49 179.24,106.49 180.25,106.49 181.26,106.49 182.27,106.49 183.27,106.49 184.28,106.49 185.29,106.49 186.3,106.49 187.31,106.49 188.32,106.48 189.33,106.48 190.34,106.47 191.35,106.46 192.35,106.43 193.36,106.39 194.37,106.31 195.38,106.17 196.39,105.96 197.4,105.64 198.41,105.15 199.42,104.44 200.42,103.47 201.43,102.17 202.44,100.49 203.45,98.43 204.46,96 205.47,93.26 206.48,90.31 207.48,87.33 208.49,84.5 209.5,82.03 210.51,80.13 211.52,78.97 212.53,78.64 213.54,79.13 214.55,80.36 215.55,82.23 216.56,84.59 217.57,87.27 218.58,90.1 219.59,92.89 220.6,95.53 221.61,97.9 222.62,99.94 223.63,101.64 224.63,103 225.64,104.04 226.65,104.82 227.66,105.39 228.67,105.78 229.68,106.05 230.69,106.22 231.7,106.33 232.7,106.4 233.71,106.44 234.72,106.46 235.73,106.47 236.74,106.48 237.75,106.48 238.76,106.49 239.76,106.49 240.77,106.49 241.78,106.49 242.79,106.49 243.8,106.49" fill="none" stroke="#ff2424" stroke-width="1.7" stroke-linejoin="round" clip-path="url(#ca)"/>
<polyline points="82.4,105.02 83.41,104.97 84.42,104.91 85.43,104.83 86.43,104.74 87.44,104.64 88.45,104.52 89.46,104.39 90.47,104.25 91.48,104.09 92.49,103.94 93.5,103.78 94.5,103.62 95.51,103.46 96.52,103.32 97.53,103.2 98.54,103.09 99.55,103.01 100.56,102.96 101.57,102.93 102.57,102.92 103.58,102.93 104.59,102.94 105.6,102.92 106.61,102.85 107.62,102.67 108.63,102.32 109.64,101.7 110.64,100.71 111.65,99.23 112.66,97.12 113.67,94.25 114.68,90.55 115.69,85.96 116.7,80.55 117.71,74.45 118.71,67.95 119.72,61.39 120.73,55.23 121.74,49.94 122.75,45.96 123.76,43.65 124.77,43.22 125.78,44.56 126.78,47.53 127.79,51.87 128.8,57.26 129.81,63.3 130.82,69.6 131.83,75.8 132.84,81.59 133.85,86.77 134.86,91.21 135.86,94.88 136.87,97.8 137.88,100.04 138.89,101.7 139.9,102.89 140.91,103.72 141.92,104.28 142.92,104.64 143.93,104.87 144.94,105.01 145.95,105.1 146.96,105.14 147.97,105.17 148.98,105.18 149.99,105.19 150.99,105.2 152,105.2 153.01,105.2 154.02,105.2 155.03,105.2 156.04,105.2 157.05,105.2 158.06,105.2 159.07,105.2 160.07,105.2 161.08,105.2 162.09,105.2 163.1,105.2 164.11,105.2 165.12,105.2 166.13,105.2 167.14,105.2 168.14,105.2 169.15,105.2 170.16,105.2 171.17,105.2 172.18,105.2 173.19,105.2 174.2,105.2 175.2,105.2 176.21,105.2 177.22,105.2 178.23,105.2 179.24,105.2 180.25,105.2 181.26,105.2 182.27,105.2 183.27,105.2 184.28,105.2 185.29,105.2 186.3,105.2 187.31,105.2 188.32,105.19 189.33,105.19 190.34,105.18 191.35,105.16 192.35,105.12 193.36,105.05 194.37,104.94 195.38,104.75 196.39,104.46 197.4,104.02 198.41,103.37 199.42,102.46 200.42,101.22 201.43,99.6 202.44,97.57 203.45,95.12 204.46,92.29 205.47,89.18 206.48,85.94 207.48,82.77 208.49,79.88 209.5,77.51 210.51,75.86 211.52,75.07 212.53,75.2 213.54,76.16 214.55,77.88 215.55,80.21 216.56,82.98 217.57,85.99 218.58,89.06 219.59,92.01 220.6,94.73 221.61,97.11 222.62,99.13 223.63,100.77 224.63,102.06 225.64,103.03 226.65,103.75 227.66,104.25 228.67,104.6 229.68,104.83 230.69,104.98 231.7,105.07 232.7,105.13 233.71,105.16 234.72,105.18 235.73,105.19 236.74,105.19 237.75,105.2 238.76,105.2 239.76,105.2 240.77,105.2 241.78,105.2 242.79,105.2 243.8,105.2" fill="none" stroke="#2424ff" stroke-width="1.7" stroke-linejoin="round" clip-path="url(#ca)"/>
<polyline points="82.4,105.02 83.41,104.97 84.42,104.91 85.43,104.83 86.43,104.74 87.44,104.64 88.45,104.52 89.46,104.39 90.47,104.25 91.48,104.09 92.49,103.94 93.5,103.78 94.5,103.62 95.51,103.46 96.52,103.32 97.53,103.2 98.54,103.09 99.55,103 100.56,102.94 101.57,102.9 102.57,102.87 103.58,102.83 104.59,102.77 105.6,102.65 106.61,102.43 107.62,102.05 108.63,101.42 109.64,100.46 110.64,99.09 111.65,97.21 112.66,94.77 113.67,91.74 114.68,88.15 115.69,84.1 116.7,79.77 117.71,75.42 118.71,71.32 119.72,67.82 120.73,65.19 121.74,63.69 122.75,63.44 123.76,64.38 124.77,66.41 125.78,69.36 126.78,73 127.79,77.08 128.8,81.32 129.81,85.49 130.82,89.38 131.83,92.84 132.84,95.81 133.85,98.25 134.86,100.19 135.86,101.67 136.87,102.77 137.88,103.55 138.89,104.09 139.9,104.45 140.91,104.67 141.92,104.81 142.92,104.89 143.93,104.93 144.94,104.95 145.95,104.95 146.96,104.95 147.97,104.95 148.98,104.96 149.99,104.96 150.99,104.96 152,104.96 153.01,104.96 154.02,104.96 155.03,104.96 156.04,104.96 157.05,104.96 158.06,104.96 159.07,104.96 160.07,104.96 161.08,104.96 162.09,104.96 163.1,104.96 164.11,104.96 165.12,104.96 166.13,104.96 167.14,104.96 168.14,104.96 169.15,104.96 170.16,104.96 171.17,104.96 172.18,104.96 173.19,104.96 174.2,104.96 175.2,104.96 176.21,104.96 177.22,104.96 178.23,104.96 179.24,104.96 180.25,104.96 181.26,104.96 182.27,104.96 183.27,104.96 184.28,104.96 185.29,104.96 186.3,104.96 187.31,104.95 188.32,104.95 189.33,104.93 190.34,104.91 191.35,104.86 192.35,104.78 193.36,104.64 194.37,104.42 195.38,104.06 196.39,103.52 197.4,102.72 198.41,101.57 199.42,100.01 200.42,97.95 201.43,95.34 202.44,92.17 203.45,88.48 204.46,84.38 205.47,80.06 206.48,75.77 207.48,71.81 208.49,68.47 209.5,66.04 210.51,64.74 211.52,64.67 212.53,65.74 213.54,67.85 214.55,70.82 215.55,74.43 216.56,78.41 217.57,82.52 218.58,86.52 219.59,90.23 220.6,93.52 221.61,96.33 222.62,98.62 223.63,100.44 224.63,101.82 225.64,102.84 226.65,103.57 227.66,104.08 228.67,104.41 229.68,104.63 230.69,104.77 231.7,104.85 232.7,104.9 233.71,104.93 234.72,104.94 235.73,104.95 236.74,104.95 237.75,104.96 238.76,104.96 239.76,104.96 240.77,104.96 241.78,104.96 242.79,104.96 243.8,104.96" fill="none" stroke="#1e9696" stroke-width="1.7" stroke-linejoin="round" clip-path="url(#ca)"/>
<polyline points="82.4,105.02 83.41,104.97 84.42,104.91 85.43,104.83 86.43,104.74 87.44,104.64 88.45,104.52 89.46,104.39 90.47,104.25 91.48,104.09 92.49,103.94 93.5,103.78 94.5,103.62 95.51,103.46 96.52,103.32 97.53,103.18 98.54,103.06 99.55,102.95 100.56,102.85 101.57,102.74 102.57,102.6 103.58,102.4 104.59,102.1 105.6,101.64 106.61,100.96 107.62,100 108.63,98.67 109.64,96.94 110.64,94.78 111.65,92.2 112.66,89.27 113.67,86.11 114.68,82.9 115.69,79.85 116.7,77.21 117.71,75.2 118.71,74 119.72,73.73 120.73,74.36 121.74,75.81 122.75,77.96 123.76,80.65 124.77,83.68 125.78,86.87 126.78,90.02 127.79,92.97 128.8,95.62 129.81,97.91 130.82,99.81 131.83,101.32 132.84,102.49 133.85,103.35 134.86,103.98 135.86,104.42 136.87,104.71 137.88,104.9 138.89,105.02 139.9,105.1 140.91,105.14 141.92,105.17 142.92,105.18 143.93,105.19 144.94,105.2 145.95,105.2 146.96,105.2 147.97,105.2 148.98,105.2 149.99,105.2 150.99,105.2 152,105.2 153.01,105.2 154.02,105.2 155.03,105.2 156.04,105.2 157.05,105.2 158.06,105.2 159.07,105.2 160.07,105.2 161.08,105.2 162.09,105.2 163.1,105.2 164.11,105.2 165.12,105.2 166.13,105.2 167.14,105.2 168.14,105.2 169.15,105.2 170.16,105.2 171.17,105.2 172.18,105.2 173.19,105.2 174.2,105.2 175.2,105.2 176.21,105.2 177.22,105.2 178.23,105.2 179.24,105.2 180.25,105.2 181.26,105.2 182.27,105.2 183.27,105.2 184.28,105.19 185.29,105.18 186.3,105.16 187.31,105.12 188.32,105.04 189.33,104.91 190.34,104.69 191.35,104.33 192.35,103.75 193.36,102.87 194.37,101.58 195.38,99.75 196.39,97.23 197.4,93.93 198.41,89.74 199.42,84.66 200.42,78.76 201.43,72.21 202.44,65.33 203.45,58.5 204.46,52.2 205.47,46.91 206.48,43.09 207.48,41.07 208.49,41.01 209.5,42.77 210.51,46.18 211.52,50.95 212.53,56.72 213.54,63.08 214.55,69.63 215.55,76 216.56,81.89 217.57,87.12 218.58,91.56 219.59,95.2 220.6,98.07 221.61,100.26 222.62,101.87 223.63,103.02 224.63,103.81 225.64,104.34 226.65,104.68 227.66,104.9 228.67,105.03 229.68,105.1 230.69,105.15 231.7,105.17 232.7,105.19 233.71,105.19 234.72,105.2 235.73,105.2 236.74,105.2 237.75,105.2 238.76,105.2 239.76,105.2 240.77,105.2 241.78,105.2 242.79,105.2 243.8,105.2" fill="none" stroke="#ff24ff" stroke-width="1.7" stroke-linejoin="round" clip-path="url(#ca)"/>
<polyline points="82.4,105.02 83.41,104.97 84.42,104.91 85.43,104.83 86.43,104.74 87.44,104.64 88.45,104.52 89.46,104.39 90.47,104.25 91.48,104.09 92.49,103.94 93.5,103.78 94.5,103.62 95.51,103.46 96.52,103.32 97.53,103.19 98.54,103.08 99.55,102.99 100.56,102.92 101.57,102.87 102.57,102.82 103.58,102.77 104.59,102.69 105.6,102.55 106.61,102.32 107.62,101.96 108.63,101.43 109.64,100.69 110.64,99.7 111.65,98.46 112.66,96.98 113.67,95.31 114.68,93.51 115.69,91.7 116.7,90.01 117.71,88.57 118.71,87.52 119.72,86.96 120.73,86.93 121.74,87.41 122.75,88.35 123.76,89.67 124.77,91.29 125.78,93.08 126.78,94.94 127.79,96.75 128.8,98.43 129.81,99.93 130.82,101.21 131.83,102.25 132.84,103.07 133.85,103.69 134.86,104.15 135.86,104.47 136.87,104.69 137.88,104.83 138.89,104.92 139.9,104.97 140.91,104.99 141.92,105 142.92,105 143.93,104.99 144.94,104.98 145.95,104.97 146.96,104.96 147.97,104.96 148.98,104.96 149.99,104.96 150.99,104.96 152,104.96 153.01,104.96 154.02,104.96 155.03,104.96 156.04,104.96 157.05,104.96 158.06,104.96 159.07,104.96 160.07,104.96 161.08,104.96 162.09,104.96 163.1,104.96 164.11,104.96 165.12,104.96 166.13,104.96 167.14,104.96 168.14,104.96 169.15,104.96 170.16,104.96 171.17,104.96 172.18,104.96 173.19,104.96 174.2,104.96 175.2,104.96 176.21,104.96 177.22,104.96 178.23,104.96 179.24,104.96 180.25,104.96 181.26,104.96 182.27,104.96 183.27,104.96 184.28,104.95 185.29,104.95 186.3,104.94 187.31,104.92 188.32,104.89 189.33,104.83 190.34,104.73 191.35,104.55 192.35,104.27 193.36,103.81 194.37,103.13 195.38,102.12 196.39,100.69 197.4,98.74 198.41,96.19 199.42,92.97 200.42,89.07 201.43,84.57 202.44,79.6 203.45,74.4 204.46,69.27 205.47,64.58 206.48,60.69 207.48,57.93 208.49,56.55 209.5,56.65 210.51,58.1 211.52,60.78 212.53,64.46 213.54,68.87 214.55,73.69 215.55,78.62 216.56,83.4 217.57,87.8 218.58,91.68 219.59,94.97 220.6,97.65 221.61,99.76 222.62,101.37 223.63,102.55 224.63,103.38 225.64,103.96 226.65,104.34 227.66,104.59 228.67,104.74 229.68,104.84 230.69,104.89 231.7,104.92 232.7,104.94 233.71,104.95 234.72,104.95 235.73,104.96 236.74,104.96 237.75,104.96 238.76,104.96 239.76,104.96 240.77,104.96 241.78,104.96 242.79,104.96 243.8,104.96" fill="none" stroke="#8c8c14" stroke-width="1.7" stroke-linejoin="round" clip-path="url(#ca)"/>
<rect x="82.4" y="24.8" width="161.4" height="88.5" fill="none" stroke="#000" stroke-width="1.3"/>
<line x1="85.1" y1="113.3" x2="85.1" y2="115.1" stroke="#000" stroke-width="1.2" />
<line x1="98.5" y1="113.3" x2="98.5" y2="116.1" stroke="#000" stroke-width="1.2" />
<text x="98.5" y="122" font-size="6.9" text-anchor="middle" fill="#000" stroke="#000" stroke-width="0.31" font-weight="bold" font-style="normal" >15.5</text>
<line x1="111.9" y1="113.3" x2="111.9" y2="115.1" stroke="#000" stroke-width="1.2" />
<line x1="125.3" y1="113.3" x2="125.3" y2="116.1" stroke="#000" stroke-width="1.2" />
<text x="125.3" y="122" font-size="6.9" text-anchor="middle" fill="#000" stroke="#000" stroke-width="0.31" font-weight="bold" font-style="normal" >16.0</text>
<line x1="138.7" y1="113.3" x2="138.7" y2="115.1" stroke="#000" stroke-width="1.2" />
<line x1="152.1" y1="113.3" x2="152.1" y2="116.1" stroke="#000" stroke-width="1.2" />
<text x="152.1" y="122" font-size="6.9" text-anchor="middle" fill="#000" stroke="#000" stroke-width="0.31" font-weight="bold" font-style="normal" >16.5</text>
<line x1="165.5" y1="113.3" x2="165.5" y2="115.1" stroke="#000" stroke-width="1.2" />
<line x1="178.9" y1="113.3" x2="178.9" y2="116.1" stroke="#000" stroke-width="1.2" />
<text x="178.9" y="122" font-size="6.9" text-anchor="middle" fill="#000" stroke="#000" stroke-width="0.31" font-weight="bold" font-style="normal" >17.0</text>
<line x1="192.3" y1="113.3" x2="192.3" y2="115.1" stroke="#000" stroke-width="1.2" />
<line x1="205.7" y1="113.3" x2="205.7" y2="116.1" stroke="#000" stroke-width="1.2" />
<text x="205.7" y="122" font-size="6.9" text-anchor="middle" fill="#000" stroke="#000" stroke-width="0.31" font-weight="bold" font-style="normal" >17.5</text>
<line x1="219.1" y1="113.3" x2="219.1" y2="115.1" stroke="#000" stroke-width="1.2" />
<line x1="232.5" y1="113.3" x2="232.5" y2="116.1" stroke="#000" stroke-width="1.2" />
<text x="232.5" y="122" font-size="6.9" text-anchor="middle" fill="#000" stroke="#000" stroke-width="0.31" font-weight="bold" font-style="normal" >18.0</text>
<line x1="80.9" y1="113.25" x2="82.4" y2="113.25" stroke="#000" stroke-width="1.2" />
<line x1="79.9" y1="105.2" x2="82.4" y2="105.2" stroke="#000" stroke-width="1.2" />
<text x="78.8" y="107.3" font-size="6.4" text-anchor="end" fill="#000" stroke="#000" stroke-width="0.29" font-weight="bold" font-style="normal" >0</text>
<line x1="80.9" y1="97.15" x2="82.4" y2="97.15" stroke="#000" stroke-width="1.2" />
<line x1="79.9" y1="89.1" x2="82.4" y2="89.1" stroke="#000" stroke-width="1.2" />
<text x="78.8" y="91.2" font-size="6.4" text-anchor="end" fill="#000" stroke="#000" stroke-width="0.29" font-weight="bold" font-style="normal" >200</text>
<line x1="80.9" y1="81.05" x2="82.4" y2="81.05" stroke="#000" stroke-width="1.2" />
<line x1="79.9" y1="73" x2="82.4" y2="73" stroke="#000" stroke-width="1.2" />
<text x="78.8" y="75.1" font-size="6.4" text-anchor="end" fill="#000" stroke="#000" stroke-width="0.29" font-weight="bold" font-style="normal" >400</text>
<line x1="80.9" y1="64.95" x2="82.4" y2="64.95" stroke="#000" stroke-width="1.2" />
<line x1="79.9" y1="56.9" x2="82.4" y2="56.9" stroke="#000" stroke-width="1.2" />
<text x="78.8" y="59" font-size="6.4" text-anchor="end" fill="#000" stroke="#000" stroke-width="0.29" font-weight="bold" font-style="normal" >600</text>
<line x1="80.9" y1="48.85" x2="82.4" y2="48.85" stroke="#000" stroke-width="1.2" />
<line x1="79.9" y1="40.8" x2="82.4" y2="40.8" stroke="#000" stroke-width="1.2" />
<text x="78.8" y="42.9" font-size="6.4" text-anchor="end" fill="#000" stroke="#000" stroke-width="0.29" font-weight="bold" font-style="normal" >800</text>
<line x1="80.9" y1="32.75" x2="82.4" y2="32.75" stroke="#000" stroke-width="1.2" />
<line x1="79.9" y1="24.7" x2="82.4" y2="24.7" stroke="#000" stroke-width="1.2" />
<text x="78.8" y="26.8" font-size="6.4" text-anchor="end" fill="#000" stroke="#000" stroke-width="0.29" font-weight="bold" font-style="normal" >1000</text>
<text x="157.6" y="130.9" font-size="7.7" text-anchor="middle" fill="#000" stroke="#000" stroke-width="0.35" font-weight="bold" font-style="normal" >Time (min)</text>
<text transform="translate(60.11,67.5) rotate(-90)" font-size="7" text-anchor="middle" font-weight="bold" stroke="#000" stroke-width="0.45">OD</text>
<text x="123.1" y="37.7" font-size="7.4" text-anchor="middle" fill="#ff2020" stroke="#ff2020" stroke-width="0.33" font-weight="bold" font-style="normal" textLength="33.5" lengthAdjust="spacingAndGlyphs">Putrescine</text>
<text x="208.6" y="37.7" font-size="7.3" text-anchor="middle" fill="#2020ff" stroke="#2020ff" stroke-width="0.33" font-weight="bold" font-style="normal" textLength="36.5" lengthAdjust="spacingAndGlyphs">Cadaverine</text>
<rect x="370.4" y="25.4" width="147.1" height="86.3" fill="#fff" stroke="none"/>
<clipPath id="cb"><rect x="370.4" y="25.4" width="147.1" height="86.3"/></clipPath>
<polyline points="370.4,102.42 371.32,102.39 372.24,102.36 373.16,102.33 374.08,102.29 375,102.24 375.92,102.19 376.84,102.13 377.75,102.06 378.67,101.99 379.59,101.92 380.51,101.85 381.43,101.77 382.35,101.7 383.27,101.64 384.19,101.58 385.11,101.53 386.03,101.5 386.95,101.47 387.87,101.46 388.79,101.47 389.71,101.49 390.63,101.52 391.55,101.56 392.47,101.61 393.38,101.68 394.3,101.75 395.22,101.82 396.14,101.89 397.06,101.96 397.98,102.04 398.9,102.1 399.82,102.16 400.74,102.22 401.66,102.27 402.58,102.31 403.5,102.35 404.42,102.38 405.34,102.41 406.26,102.43 407.17,102.45 408.09,102.46 409.01,102.47 409.93,102.48 410.85,102.48 411.77,102.49 412.69,102.49 413.61,102.49 414.53,102.5 415.45,102.5 416.37,102.5 417.29,102.5 418.21,102.5 419.13,102.5 420.05,102.5 420.97,102.5 421.88,102.5 422.8,102.5 423.72,102.5 424.64,102.5 425.56,102.5 426.48,102.5 427.4,102.5 428.32,102.5 429.24,102.5 430.16,102.5 431.08,102.5 432,102.5 432.92,102.5 433.84,102.5 434.76,102.5 435.68,102.5 436.59,102.5 437.51,102.5 438.43,102.5 439.35,102.5 440.27,102.5 441.19,102.5 442.11,102.5 443.03,102.5 443.95,102.5 444.87,102.5 445.79,102.5 446.71,102.5 447.63,102.5 448.55,102.5 449.47,102.5 450.39,102.5 451.31,102.5 452.22,102.5 453.14,102.5 454.06,102.5 454.98,102.5 455.9,102.5 456.82,102.5 457.74,102.5 458.66,102.5 459.58,102.5 460.5,102.5 461.42,102.5 462.34,102.5 463.26,102.5 464.18,102.5 465.1,102.5 466.01,102.5 466.93,102.5 467.85,102.5 468.77,102.5 469.69,102.5 470.61,102.49 471.53,102.49 472.45,102.47 473.37,102.45 474.29,102.41 475.21,102.33 476.13,102.22 477.05,102.04 477.97,101.78 478.89,101.42 479.81,100.96 480.73,100.4 481.64,99.77 482.56,99.1 483.48,98.46 484.4,97.9 485.32,97.51 486.24,97.32 487.16,97.36 488.08,97.61 489,98.03 489.92,98.59 490.84,99.21 491.76,99.85 492.68,100.45 493.6,100.98 494.52,101.42 495.44,101.76 496.35,102.02 497.27,102.2 498.19,102.32 499.11,102.39 500.03,102.44 500.95,102.47 501.87,102.48 502.79,102.49 503.71,102.5 504.63,102.5 505.55,102.5 506.47,102.5 507.39,102.5 508.31,102.5 509.23,102.5 510.15,102.5 511.06,102.5 511.98,102.5 512.9,102.5 513.82,102.5 514.74,102.5 515.66,102.5 516.58,102.5 517.5,102.5" fill="none" stroke="#303030" stroke-width="1.7" stroke-linejoin="round" clip-path="url(#cb)"/>
<polyline points="370.4,102.31 371.32,102.25 372.24,102.18 373.16,102.1 374.08,102 375,101.89 375.92,101.77 376.84,101.63 377.75,101.48 378.67,101.31 379.59,101.14 380.51,100.97 381.43,100.8 382.35,100.64 383.27,100.49 384.19,100.35 385.11,100.23 386.03,100.14 386.95,100.07 387.87,100.02 388.79,99.97 389.71,99.92 390.63,99.84 391.55,99.69 392.47,99.42 393.38,98.95 394.3,98.22 395.22,97.13 396.14,95.57 397.06,93.46 397.98,90.73 398.9,87.35 399.82,83.35 400.74,78.84 401.66,73.99 402.58,69.07 403.5,64.39 404.42,60.29 405.34,57.1 406.26,55.1 407.17,54.46 408.09,55.14 409.01,57.02 409.93,59.94 410.85,63.7 411.77,68.04 412.69,72.69 413.61,77.37 414.53,81.86 415.45,85.99 416.37,89.63 417.29,92.73 418.21,95.28 419.13,97.29 420.05,98.85 420.97,100 421.88,100.84 422.8,101.42 423.72,101.82 424.64,102.08 425.56,102.25 426.48,102.35 427.4,102.42 428.32,102.45 429.24,102.47 430.16,102.49 431.08,102.49 432,102.5 432.92,102.5 433.84,102.5 434.76,102.5 435.68,102.5 436.59,102.5 437.51,102.5 438.43,102.5 439.35,102.5 440.27,102.5 441.19,102.5 442.11,102.5 443.03,102.5 443.95,102.5 444.87,102.5 445.79,102.5 446.71,102.5 447.63,102.5 448.55,102.5 449.47,102.5 450.39,102.5 451.31,102.5 452.22,102.5 453.14,102.5 454.06,102.5 454.98,102.5 455.9,102.5 456.82,102.5 457.74,102.5 458.66,102.5 459.58,102.5 460.5,102.5 461.42,102.5 462.34,102.5 463.26,102.5 464.18,102.5 465.1,102.5 466.01,102.5 466.93,102.5 467.85,102.5 468.77,102.49 469.69,102.49 470.61,102.47 471.53,102.43 472.45,102.36 473.37,102.23 474.29,102 475.21,101.62 476.13,101.02 477.05,100.1 477.97,98.8 478.89,97.04 479.81,94.81 480.73,92.14 481.64,89.17 482.56,86.11 483.48,83.24 484.4,80.87 485.32,79.3 486.24,78.71 487.16,79.16 488.08,80.53 489,82.66 489.92,85.31 490.84,88.22 491.76,91.11 492.68,93.79 493.6,96.11 494.52,98.01 495.44,99.47 496.35,100.54 497.27,101.28 498.19,101.77 499.11,102.08 500.03,102.27 500.95,102.38 501.87,102.44 502.79,102.47 503.71,102.49 504.63,102.49 505.55,102.5 506.47,102.5 507.39,102.5 508.31,102.5 509.23,102.5 510.15,102.5 511.06,102.5 511.98,102.5 512.9,102.5 513.82,102.5 514.74,102.5 515.66,102.5 516.58,102.5 517.5,102.5" fill="none" stroke="#ff2424" stroke-width="1.7" stroke-linejoin="round" clip-path="url(#cb)"/>
<polyline points="370.4,102.31 371.32,102.25 372.24,102.18 373.16,102.1 374.08,102 375,101.89 375.92,101.77 376.84,101.63 377.75,101.48 378.67,101.31 379.59,101.14 380.51,100.97 381.43,100.79 382.35,100.62 383.27,100.45 384.19,100.28 385.11,100.11 386.03,99.93 386.95,99.69 387.87,99.38 388.79,98.94 389.71,98.28 390.63,97.31 391.55,95.93 392.47,94 393.38,91.41 394.3,88.06 395.22,83.89 396.14,78.92 397.06,73.26 397.98,67.11 398.9,60.78 399.82,54.64 400.74,49.15 401.66,44.71 402.58,41.73 403.5,40.45 404.42,40.93 405.34,42.97 406.26,46.43 407.17,51.03 408.09,56.48 409.01,62.4 409.93,68.47 410.85,74.36 411.77,79.83 412.69,84.71 413.61,88.9 414.53,92.37 415.45,95.15 416.37,97.3 417.29,98.92 418.21,100.1 419.13,100.93 420.05,101.5 420.97,101.88 421.88,102.13 422.8,102.28 423.72,102.37 424.64,102.43 425.56,102.46 426.48,102.48 427.4,102.49 428.32,102.49 429.24,102.5 430.16,102.5 431.08,102.5 432,102.5 432.92,102.5 433.84,102.5 434.76,102.5 435.68,102.5 436.59,102.5 437.51,102.5 438.43,102.5 439.35,102.5 440.27,102.5 441.19,102.5 442.11,102.5 443.03,102.5 443.95,102.5 444.87,102.5 445.79,102.5 446.71,102.5 447.63,102.5 448.55,102.5 449.47,102.5 450.39,102.5 451.31,102.5 452.22,102.5 453.14,102.5 454.06,102.5 454.98,102.5 455.9,102.5 456.82,102.5 457.74,102.5 458.66,102.5 459.58,102.5 460.5,102.5 461.42,102.5 462.34,102.5 463.26,102.5 464.18,102.5 465.1,102.5 466.01,102.49 466.93,102.48 467.85,102.45 468.77,102.4 469.69,102.31 470.61,102.13 471.53,101.84 472.45,101.35 473.37,100.6 474.29,99.5 475.21,97.96 476.13,95.95 477.05,93.46 477.97,90.58 478.89,87.48 479.81,84.41 480.73,81.69 481.64,79.62 482.56,78.47 483.48,78.37 484.4,79.27 485.32,81.05 486.24,83.5 487.16,86.36 488.08,89.34 489,92.21 489.92,94.78 490.84,96.95 491.76,98.67 492.68,99.96 493.6,100.89 494.52,101.52 495.44,101.93 496.35,102.18 497.27,102.33 498.19,102.41 499.11,102.46 500.03,102.48 500.95,102.49 501.87,102.5 502.79,102.5 503.71,102.5 504.63,102.5 505.55,102.5 506.47,102.5 507.39,102.5 508.31,102.5 509.23,102.5 510.15,102.5 511.06,102.5 511.98,102.5 512.9,102.5 513.82,102.5 514.74,102.5 515.66,102.5 516.58,102.5 517.5,102.5" fill="none" stroke="#2424ff" stroke-width="1.7" stroke-linejoin="round" clip-path="url(#cb)"/>
<polyline points="370.4,102.31 371.32,102.25 372.24,102.18 373.16,102.1 374.08,102 375,101.89 375.92,101.77 376.84,101.63 377.75,101.48 378.67,101.31 379.59,101.14 380.51,100.97 381.43,100.8 382.35,100.64 383.27,100.49 384.19,100.35 385.11,100.23 386.03,100.14 386.95,100.07 387.87,100.02 388.79,99.99 389.71,99.95 390.63,99.88 391.55,99.76 392.47,99.54 393.38,99.15 394.3,98.53 395.22,97.58 396.14,96.24 397.06,94.4 397.98,92.02 398.9,89.07 399.82,85.58 400.74,81.62 401.66,77.38 402.58,73.06 403.5,68.96 404.42,65.36 405.34,62.56 406.26,60.81 407.17,60.25 408.09,60.86 409.01,62.51 409.93,65.08 410.85,68.39 411.77,72.21 412.69,76.29 413.61,80.41 414.53,84.36 415.45,87.98 416.37,91.17 417.29,93.88 418.21,96.11 419.13,97.87 420.05,99.22 420.97,100.23 421.88,100.95 422.8,101.45 423.72,101.79 424.64,102.01 425.56,102.15 426.48,102.23 427.4,102.27 428.32,102.3 429.24,102.3 430.16,102.32 431.08,102.32 432,102.32 432.92,102.33 433.84,102.33 434.76,102.33 435.68,102.33 436.59,102.33 437.51,102.33 438.43,102.33 439.35,102.33 440.27,102.33 441.19,102.33 442.11,102.33 443.03,102.33 443.95,102.33 444.87,102.33 445.79,102.33 446.71,102.33 447.63,102.33 448.55,102.33 449.47,102.33 450.39,102.33 451.31,102.33 452.22,102.33 453.14,102.33 454.06,102.33 454.98,102.33 455.9,102.33 456.82,102.33 457.74,102.33 458.66,102.33 459.58,102.33 460.5,102.33 461.42,102.33 462.34,102.33 463.26,102.33 464.18,102.33 465.1,102.33 466.01,102.33 466.93,102.33 467.85,102.33 468.77,102.32 469.69,102.32 470.61,102.31 471.53,102.29 472.45,102.25 473.37,102.18 474.29,102.03 475.21,101.77 476.13,101.33 477.05,100.61 477.97,99.52 478.89,97.92 479.81,95.74 480.73,92.9 481.64,89.43 482.56,85.48 483.48,81.3 484.4,77.24 485.32,73.73 486.24,71.18 487.16,69.91 488.08,70.06 489,71.53 489.92,74.13 490.84,77.56 491.76,81.46 492.68,85.46 493.6,89.25 494.52,92.6 495.44,95.39 496.35,97.58 497.27,99.21 498.19,100.36 499.11,101.14 500.03,101.64 500.95,101.95 501.87,102.12 502.79,102.22 503.71,102.28 504.63,102.3 505.55,102.32 506.47,102.32 507.39,102.33 508.31,102.33 509.23,102.33 510.15,102.33 511.06,102.33 511.98,102.33 512.9,102.33 513.82,102.33 514.74,102.33 515.66,102.33 516.58,102.33 517.5,102.33" fill="none" stroke="#1e9696" stroke-width="1.7" stroke-linejoin="round" clip-path="url(#cb)"/>
<polyline points="370.4,102.31 371.32,102.25 372.24,102.18 373.16,102.1 374.08,102 375,101.89 375.92,101.77 376.84,101.63 377.75,101.48 378.67,101.31 379.59,101.14 380.51,100.97 381.43,100.8 382.35,100.64 383.27,100.49 384.19,100.35 385.11,100.24 386.03,100.15 386.95,100.1 387.87,100.07 388.79,100.07 389.71,100.1 390.63,100.14 391.55,100.19 392.47,100.22 393.38,100.21 394.3,100.13 395.22,99.94 396.14,99.57 397.06,98.98 397.98,98.09 398.9,96.85 399.82,95.21 400.74,93.16 401.66,90.7 402.58,87.89 403.5,84.85 404.42,81.74 405.34,78.74 406.26,76.09 407.17,73.98 408.09,72.6 409.01,72.08 409.93,72.41 410.85,73.5 411.77,75.27 412.69,77.59 413.61,80.3 414.53,83.22 415.45,86.22 416.37,89.11 417.29,91.78 418.21,94.15 419.13,96.18 420.05,97.86 420.97,99.2 421.88,100.24 422.8,101.03 423.72,101.6 424.64,102.01 425.56,102.3 426.48,102.5 427.4,102.63 428.32,102.72 429.24,102.79 430.16,102.81 431.08,102.83 432,102.84 432.92,102.84 433.84,102.84 434.76,102.84 435.68,102.85 436.59,102.85 437.51,102.85 438.43,102.85 439.35,102.85 440.27,102.85 441.19,102.85 442.11,102.85 443.03,102.85 443.95,102.85 444.87,102.85 445.79,102.85 446.71,102.85 447.63,102.85 448.55,102.85 449.47,102.85 450.39,102.85 451.31,102.85 452.22,102.85 453.14,102.85 454.06,102.85 454.98,102.85 455.9,102.85 456.82,102.85 457.74,102.85 458.66,102.85 459.58,102.85 460.5,102.85 461.42,102.85 462.34,102.85 463.26,102.85 464.18,102.85 465.1,102.85 466.01,102.85 466.93,102.85 467.85,102.85 468.77,102.85 469.69,102.84 470.61,102.84 471.53,102.83 472.45,102.82 473.37,102.79 474.29,102.72 475.21,102.59 476.13,102.35 477.05,101.92 477.97,101.19 478.89,100.02 479.81,98.24 480.73,95.67 481.64,92.17 482.56,87.66 483.48,82.21 484.4,76.05 485.32,69.6 486.24,63.43 487.16,58.19 488.08,54.5 489,52.83 489.92,53.35 490.84,55.87 491.76,60.07 492.68,65.49 493.6,71.55 494.52,77.69 495.44,83.45 496.35,88.5 497.27,92.67 498.19,95.92 499.11,98.33 500.03,100.02 500.95,101.15 501.87,101.87 502.79,102.3 503.71,102.56 504.63,102.7 505.55,102.77 506.47,102.81 507.39,102.83 508.31,102.84 509.23,102.84 510.15,102.84 511.06,102.85 511.98,102.85 512.9,102.85 513.82,102.85 514.74,102.85 515.66,102.85 516.58,102.85 517.5,102.85" fill="none" stroke="#ff24ff" stroke-width="1.7" stroke-linejoin="round" clip-path="url(#cb)"/>
<polyline points="370.4,102.31 371.32,102.25 372.24,102.18 373.16,102.1 374.08,102 375,101.89 375.92,101.77 376.84,101.63 377.75,101.48 378.67,101.31 379.59,101.14 380.51,100.97 381.43,100.8 382.35,100.64 383.27,100.48 384.19,100.34 385.11,100.22 386.03,100.12 386.95,100.03 387.87,99.95 388.79,99.87 389.71,99.76 390.63,99.61 391.55,99.38 392.47,99.02 393.38,98.5 394.3,97.76 395.22,96.78 396.14,95.53 397.06,94.02 397.98,92.26 398.9,90.33 399.82,88.32 400.74,86.35 401.66,84.58 402.58,83.15 403.5,82.18 404.42,81.76 405.34,81.92 406.26,82.59 407.17,83.73 408.09,85.26 409.01,87.06 409.93,89.03 410.85,91.05 411.77,93.02 412.69,94.85 413.61,96.49 414.53,97.9 415.45,99.05 416.37,99.98 417.29,100.7 418.21,101.24 419.13,101.63 420.05,101.9 420.97,102.08 421.88,102.2 422.8,102.27 423.72,102.32 424.64,102.34 425.56,102.35 426.48,102.35 427.4,102.34 428.32,102.33 429.24,102.33 430.16,102.33 431.08,102.33 432,102.33 432.92,102.33 433.84,102.33 434.76,102.33 435.68,102.33 436.59,102.33 437.51,102.33 438.43,102.33 439.35,102.33 440.27,102.33 441.19,102.33 442.11,102.33 443.03,102.33 443.95,102.33 444.87,102.33 445.79,102.33 446.71,102.33 447.63,102.33 448.55,102.33 449.47,102.33 450.39,102.33 451.31,102.33 452.22,102.33 453.14,102.33 454.06,102.33 454.98,102.33 455.9,102.33 456.82,102.33 457.74,102.33 458.66,102.33 459.58,102.33 460.5,102.33 461.42,102.33 462.34,102.33 463.26,102.33 464.18,102.33 465.1,102.33 466.01,102.33 466.93,102.32 467.85,102.32 468.77,102.3 469.69,102.27 470.61,102.2 471.53,102.06 472.45,101.81 473.37,101.36 474.29,100.6 475.21,99.39 476.13,97.53 477.05,94.86 477.97,91.22 478.89,86.52 479.81,80.85 480.73,74.44 481.64,67.72 482.56,61.29 483.48,55.83 484.4,51.98 485.32,50.24 486.24,50.78 487.16,53.39 488.08,57.77 489,63.4 489.92,69.71 490.84,76.11 491.76,82.12 492.68,87.38 493.6,91.72 494.52,95.11 495.44,97.61 496.35,99.38 497.27,100.55 498.19,101.31 499.11,101.76 500.03,102.03 500.95,102.17 501.87,102.25 502.79,102.29 503.71,102.31 504.63,102.32 505.55,102.32 506.47,102.33 507.39,102.33 508.31,102.33 509.23,102.33 510.15,102.33 511.06,102.33 511.98,102.33 512.9,102.33 513.82,102.33 514.74,102.33 515.66,102.33 516.58,102.33 517.5,102.33" fill="none" stroke="#8c8c14" stroke-width="1.7" stroke-linejoin="round" clip-path="url(#cb)"/>
<rect x="370.4" y="25.4" width="147.1" height="86.3" fill="none" stroke="#000" stroke-width="1.3"/>
<line x1="372.85" y1="111.7" x2="372.85" y2="113.5" stroke="#000" stroke-width="1.2" />
<line x1="385.1" y1="111.7" x2="385.1" y2="114.5" stroke="#000" stroke-width="1.2" />
<text x="385.1" y="120.4" font-size="6.9" text-anchor="middle" fill="#000" stroke="#000" stroke-width="0.31" font-weight="bold" font-style="normal" >15.5</text>
<line x1="397.35" y1="111.7" x2="397.35" y2="113.5" stroke="#000" stroke-width="1.2" />
<line x1="409.6" y1="111.7" x2="409.6" y2="114.5" stroke="#000" stroke-width="1.2" />
<text x="409.6" y="120.4" font-size="6.9" text-anchor="middle" fill="#000" stroke="#000" stroke-width="0.31" font-weight="bold" font-style="normal" >16.0</text>
<line x1="421.85" y1="111.7" x2="421.85" y2="113.5" stroke="#000" stroke-width="1.2" />
<line x1="434.1" y1="111.7" x2="434.1" y2="114.5" stroke="#000" stroke-width="1.2" />
<text x="434.1" y="120.4" font-size="6.9" text-anchor="middle" fill="#000" stroke="#000" stroke-width="0.31" font-weight="bold" font-style="normal" >16.5</text>
<line x1="446.35" y1="111.7" x2="446.35" y2="113.5" stroke="#000" stroke-width="1.2" />
<line x1="458.6" y1="111.7" x2="458.6" y2="114.5" stroke="#000" stroke-width="1.2" />
<text x="458.6" y="120.4" font-size="6.9" text-anchor="middle" fill="#000" stroke="#000" stroke-width="0.31" font-weight="bold" font-style="normal" >17.0</text>
<line x1="470.85" y1="111.7" x2="470.85" y2="113.5" stroke="#000" stroke-width="1.2" />
<line x1="483.1" y1="111.7" x2="483.1" y2="114.5" stroke="#000" stroke-width="1.2" />
<text x="483.1" y="120.4" font-size="6.9" text-anchor="middle" fill="#000" stroke="#000" stroke-width="0.31" font-weight="bold" font-style="normal" >17.5</text>
<line x1="495.35" y1="111.7" x2="495.35" y2="113.5" stroke="#000" stroke-width="1.2" />
<line x1="507.6" y1="111.7" x2="507.6" y2="114.5" stroke="#000" stroke-width="1.2" />
<text x="507.6" y="120.4" font-size="6.9" text-anchor="middle" fill="#000" stroke="#000" stroke-width="0.31" font-weight="bold" font-style="normal" >18.0</text>
<line x1="368.9" y1="111.15" x2="370.4" y2="111.15" stroke="#000" stroke-width="1.2" />
<line x1="367.9" y1="102.5" x2="370.4" y2="102.5" stroke="#000" stroke-width="1.2" />
<text x="366.8" y="104.6" font-size="6.4" text-anchor="end" fill="#000" stroke="#000" stroke-width="0.29" font-weight="bold" font-style="normal" >0</text>
<line x1="368.9" y1="93.85" x2="370.4" y2="93.85" stroke="#000" stroke-width="1.2" />
<line x1="367.9" y1="85.2" x2="370.4" y2="85.2" stroke="#000" stroke-width="1.2" />
<text x="366.8" y="87.3" font-size="6.4" text-anchor="end" fill="#000" stroke="#000" stroke-width="0.29" font-weight="bold" font-style="normal" >200</text>
<line x1="368.9" y1="76.55" x2="370.4" y2="76.55" stroke="#000" stroke-width="1.2" />
<line x1="367.9" y1="67.9" x2="370.4" y2="67.9" stroke="#000" stroke-width="1.2" />
<text x="366.8" y="70" font-size="6.4" text-anchor="end" fill="#000" stroke="#000" stroke-width="0.29" font-weight="bold" font-style="normal" >400</text>
<line x1="368.9" y1="59.25" x2="370.4" y2="59.25" stroke="#000" stroke-width="1.2" />
<line x1="367.9" y1="50.6" x2="370.4" y2="50.6" stroke="#000" stroke-width="1.2" />
<text x="366.8" y="52.7" font-size="6.4" text-anchor="end" fill="#000" stroke="#000" stroke-width="0.29" font-weight="bold" font-style="normal" >600</text>
<line x1="368.9" y1="41.95" x2="370.4" y2="41.95" stroke="#000" stroke-width="1.2" />
<line x1="367.9" y1="33.3" x2="370.4" y2="33.3" stroke="#000" stroke-width="1.2" />
<text x="366.8" y="35.4" font-size="6.4" text-anchor="end" fill="#000" stroke="#000" stroke-width="0.29" font-weight="bold" font-style="normal" >800</text>
<line x1="368.9" y1="24.65" x2="370.4" y2="24.65" stroke="#000" stroke-width="1.2" />
<text x="444" y="132" font-size="7.7" text-anchor="middle" fill="#000" stroke="#000" stroke-width="0.35" font-weight="bold" font-style="normal" >Time (min)</text>
<text transform="translate(351.41,67.5) rotate(-90)" font-size="7" text-anchor="middle" font-weight="bold" stroke="#000" stroke-width="0.45">OD</text>
<text x="405" y="36.1" font-size="7.4" text-anchor="middle" fill="#ff2020" stroke="#ff2020" stroke-width="0.33" font-weight="bold" font-style="normal" textLength="33" lengthAdjust="spacingAndGlyphs">Putrescine</text>
<text x="488.8" y="44.8" font-size="7.3" text-anchor="middle" fill="#2020ff" stroke="#2020ff" stroke-width="0.33" font-weight="bold" font-style="normal" textLength="36" lengthAdjust="spacingAndGlyphs">Cadaverine</text>
<rect x="84.3" y="242.4" width="159.4" height="80.9" fill="#fff" stroke="none"/>
<clipPath id="cc"><rect x="84.3" y="242.4" width="159.4" height="80.9"/></clipPath>
<polyline points="84.3,316.23 85.3,316.22 86.29,316.19 87.29,316.16 88.29,316.13 89.28,316.1 90.28,316.05 91.27,316.01 92.27,315.96 93.27,315.9 94.26,315.84 95.26,315.79 96.26,315.73 97.25,315.68 98.25,315.63 99.24,315.58 100.24,315.54 101.24,315.52 102.23,315.5 103.23,315.49 104.23,315.49 105.22,315.5 106.22,315.52 107.21,315.55 108.21,315.57 109.21,315.59 110.2,315.6 111.2,315.59 112.19,315.55 113.19,315.47 114.19,315.33 115.18,315.13 116.18,314.85 117.18,314.5 118.17,314.07 119.17,313.57 120.16,313.04 121.16,312.48 122.16,311.94 123.15,311.47 124.15,311.09 125.15,310.84 126.14,310.74 127.14,310.8 128.14,311 129.13,311.32 130.13,311.74 131.12,312.23 132.12,312.77 133.12,313.32 134.11,313.85 135.11,314.34 136.1,314.78 137.1,315.16 138.1,315.47 139.09,315.72 140.09,315.92 141.09,316.07 142.08,316.18 143.08,316.26 144.07,316.31 145.07,316.36 146.07,316.39 147.06,316.41 148.06,316.42 149.06,316.43 150.05,316.43 151.05,316.43 152.05,316.43 153.04,316.43 154.04,316.43 155.03,316.43 156.03,316.43 157.03,316.43 158.02,316.43 159.02,316.43 160.01,316.43 161.01,316.43 162.01,316.43 163,316.43 164,316.43 165,316.43 165.99,316.43 166.99,316.43 167.99,316.43 168.98,316.43 169.98,316.43 170.97,316.43 171.97,316.43 172.97,316.43 173.96,316.43 174.96,316.43 175.95,316.43 176.95,316.43 177.95,316.43 178.94,316.43 179.94,316.43 180.94,316.43 181.93,316.43 182.93,316.43 183.92,316.43 184.92,316.43 185.92,316.43 186.91,316.43 187.91,316.43 188.91,316.43 189.9,316.43 190.9,316.43 191.9,316.42 192.89,316.4 193.89,316.37 194.88,316.31 195.88,316.21 196.88,316.05 197.87,315.8 198.87,315.43 199.86,314.88 200.86,314.11 201.86,313.09 202.85,311.79 203.85,310.2 204.85,308.35 205.84,306.33 206.84,304.22 207.83,302.19 208.83,300.4 209.83,299 210.82,298.13 211.82,297.88 212.82,298.23 213.81,299.12 214.81,300.48 215.8,302.18 216.8,304.09 217.8,306.08 218.79,308.01 219.79,309.79 220.79,311.36 221.78,312.67 222.78,313.73 223.77,314.55 224.77,315.17 225.77,315.61 226.76,315.91 227.76,316.11 228.76,316.24 229.75,316.32 230.75,316.37 231.75,316.4 232.74,316.42 233.74,316.43 234.73,316.43 235.73,316.43 236.73,316.43 237.72,316.43 238.72,316.43 239.71,316.43 240.71,316.43 241.71,316.43 242.7,316.43 243.7,316.43" fill="none" stroke="#303030" stroke-width="1.7" stroke-linejoin="round" clip-path="url(#cc)"/>
<polyline points="84.3,316.15 85.3,316.1 86.29,316.05 87.29,315.98 88.29,315.91 89.28,315.82 90.28,315.72 91.27,315.61 92.27,315.49 93.27,315.37 94.26,315.24 95.26,315.1 96.26,314.97 97.25,314.83 98.25,314.71 99.24,314.58 100.24,314.46 101.24,314.33 102.23,314.19 103.23,313.99 104.23,313.71 105.22,313.3 106.22,312.69 107.21,311.79 108.21,310.51 109.21,308.76 110.2,306.44 111.2,303.49 112.19,299.9 113.19,295.71 114.19,291.03 115.18,286.07 116.18,281.1 117.18,276.45 118.17,272.45 119.17,269.44 120.16,267.68 121.16,267.31 122.16,268.26 123.15,270.39 124.15,273.55 125.15,277.51 126.14,282 127.14,286.75 128.14,291.5 129.13,296.02 130.13,300.14 131.12,303.76 132.12,306.81 133.12,309.31 134.11,311.28 135.11,312.79 136.1,313.91 137.1,314.71 138.1,315.27 139.09,315.65 140.09,315.9 141.09,316.06 142.08,316.16 143.08,316.22 144.07,316.26 145.07,316.28 146.07,316.29 147.06,316.29 148.06,316.3 149.06,316.3 150.05,316.3 151.05,316.3 152.05,316.3 153.04,316.3 154.04,316.3 155.03,316.3 156.03,316.3 157.03,316.3 158.02,316.3 159.02,316.3 160.01,316.3 161.01,316.3 162.01,316.3 163,316.3 164,316.3 165,316.3 165.99,316.3 166.99,316.3 167.99,316.3 168.98,316.3 169.98,316.3 170.97,316.3 171.97,316.3 172.97,316.3 173.96,316.3 174.96,316.3 175.95,316.3 176.95,316.3 177.95,316.3 178.94,316.3 179.94,316.3 180.94,316.3 181.93,316.3 182.93,316.3 183.92,316.3 184.92,316.3 185.92,316.3 186.91,316.29 187.91,316.28 188.91,316.26 189.9,316.22 190.9,316.15 191.9,316.04 192.89,315.84 193.89,315.53 194.88,315.05 195.88,314.35 196.88,313.36 197.87,312.01 198.87,310.26 199.86,308.09 200.86,305.52 201.86,302.64 202.85,299.58 203.85,296.55 204.85,293.77 205.84,291.48 206.84,289.9 207.83,289.2 208.83,289.4 209.83,290.42 210.82,292.17 211.82,294.5 212.82,297.2 213.81,300.09 214.81,302.96 215.8,305.66 216.8,308.07 217.8,310.13 218.79,311.82 219.79,313.15 220.79,314.15 221.78,314.88 222.78,315.39 223.77,315.73 224.77,315.96 225.77,316.1 226.76,316.19 227.76,316.24 228.76,316.27 229.75,316.28 230.75,316.29 231.75,316.3 232.74,316.3 233.74,316.3 234.73,316.3 235.73,316.3 236.73,316.3 237.72,316.3 238.72,316.3 239.71,316.3 240.71,316.3 241.71,316.3 242.7,316.3 243.7,316.3" fill="none" stroke="#ff2424" stroke-width="1.7" stroke-linejoin="round" clip-path="url(#cc)"/>
<polyline points="84.3,316.15 85.3,316.1 86.29,316.05 87.29,315.98 88.29,315.91 89.28,315.82 90.28,315.72 91.27,315.61 92.27,315.49 93.27,315.37 94.26,315.24 95.26,315.1 96.26,314.97 97.25,314.84 98.25,314.71 99.24,314.59 100.24,314.47 101.24,314.35 102.23,314.21 103.23,314.04 104.23,313.78 105.22,313.39 106.22,312.81 107.21,311.93 108.21,310.65 109.21,308.87 110.2,306.46 111.2,303.34 112.19,299.44 113.19,294.8 114.19,289.48 115.18,283.69 116.18,277.71 117.18,271.89 118.17,266.64 119.17,262.36 120.16,259.41 121.16,258.06 122.16,258.37 123.15,260.15 124.15,263.28 125.15,267.51 126.14,272.56 127.14,278.09 128.14,283.78 129.13,289.33 130.13,294.51 131.12,299.15 132.12,303.15 133.12,306.47 134.11,309.15 135.11,311.23 136.1,312.79 137.1,313.94 138.1,314.75 139.09,315.31 140.09,315.68 141.09,315.93 142.08,316.08 143.08,316.17 144.07,316.23 145.07,316.26 146.07,316.28 147.06,316.29 148.06,316.29 149.06,316.3 150.05,316.3 151.05,316.3 152.05,316.3 153.04,316.3 154.04,316.3 155.03,316.3 156.03,316.3 157.03,316.3 158.02,316.3 159.02,316.3 160.01,316.3 161.01,316.3 162.01,316.3 163,316.3 164,316.3 165,316.3 165.99,316.3 166.99,316.3 167.99,316.3 168.98,316.3 169.98,316.3 170.97,316.3 171.97,316.3 172.97,316.3 173.96,316.3 174.96,316.3 175.95,316.3 176.95,316.3 177.95,316.3 178.94,316.3 179.94,316.3 180.94,316.3 181.93,316.3 182.93,316.3 183.92,316.3 184.92,316.3 185.92,316.3 186.91,316.29 187.91,316.28 188.91,316.26 189.9,316.22 190.9,316.16 191.9,316.04 192.89,315.85 193.89,315.53 194.88,315.05 195.88,314.33 196.88,313.3 197.87,311.89 198.87,310.05 199.86,307.74 200.86,304.98 201.86,301.85 202.85,298.48 203.85,295.09 204.85,291.92 205.84,289.25 206.84,287.31 207.83,286.31 208.83,286.33 209.83,287.28 210.82,289.06 211.82,291.52 212.82,294.45 213.81,297.62 214.81,300.83 215.8,303.88 216.8,306.63 217.8,309.01 218.79,310.97 219.79,312.52 220.79,313.7 221.78,314.57 222.78,315.18 223.77,315.6 224.77,315.88 225.77,316.05 226.76,316.16 227.76,316.22 228.76,316.26 229.75,316.28 230.75,316.29 231.75,316.29 232.74,316.3 233.74,316.3 234.73,316.3 235.73,316.3 236.73,316.3 237.72,316.3 238.72,316.3 239.71,316.3 240.71,316.3 241.71,316.3 242.7,316.3 243.7,316.3" fill="none" stroke="#2424ff" stroke-width="1.7" stroke-linejoin="round" clip-path="url(#cc)"/>
<polyline points="84.3,316.15 85.3,316.1 86.29,316.05 87.29,315.98 88.29,315.91 89.28,315.82 90.28,315.72 91.27,315.61 92.27,315.5 93.27,315.37 94.26,315.24 95.26,315.1 96.26,314.97 97.25,314.84 98.25,314.73 99.24,314.62 100.24,314.53 101.24,314.47 102.23,314.42 103.23,314.39 104.23,314.38 105.22,314.39 106.22,314.39 107.21,314.38 108.21,314.32 109.21,314.18 110.2,313.92 111.2,313.48 112.19,312.77 113.19,311.74 114.19,310.3 115.18,308.38 116.18,305.94 117.18,302.97 118.17,299.53 119.17,295.73 120.16,291.73 121.16,287.77 122.16,284.11 123.15,281.03 124.15,278.78 125.15,277.55 126.14,277.45 127.14,278.37 128.14,280.22 129.13,282.86 130.13,286.1 131.12,289.73 132.12,293.52 133.12,297.26 134.11,300.79 135.11,303.98 136.1,306.75 137.1,309.08 138.1,310.97 139.09,312.45 140.09,313.57 141.09,314.39 142.08,314.97 143.08,315.37 144.07,315.63 145.07,315.79 146.07,315.89 147.06,315.95 148.06,315.97 149.06,316 150.05,316.01 151.05,316.02 152.05,316.03 153.04,316.03 154.04,316.03 155.03,316.03 156.03,316.03 157.03,316.03 158.02,316.03 159.02,316.03 160.01,316.03 161.01,316.03 162.01,316.03 163,316.03 164,316.03 165,316.03 165.99,316.03 166.99,316.03 167.99,316.03 168.98,316.03 169.98,316.03 170.97,316.03 171.97,316.03 172.97,316.03 173.96,316.03 174.96,316.03 175.95,316.03 176.95,316.03 177.95,316.03 178.94,316.03 179.94,316.03 180.94,316.03 181.93,316.03 182.93,316.03 183.92,316.03 184.92,316.03 185.92,316.03 186.91,316.03 187.91,316.03 188.91,316.02 189.9,316.01 190.9,315.99 191.9,315.95 192.89,315.88 193.89,315.77 194.88,315.58 195.88,315.27 196.88,314.81 197.87,314.13 198.87,313.16 199.86,311.86 200.86,310.17 201.86,308.09 202.85,305.64 203.85,302.89 204.85,300 205.84,297.14 206.84,294.54 207.83,292.43 208.83,291 209.83,290.39 210.82,290.65 211.82,291.68 212.82,293.38 213.81,295.61 214.81,298.19 215.8,300.92 216.8,303.62 217.8,306.16 218.79,308.42 219.79,310.34 220.79,311.91 221.78,313.13 222.78,314.06 223.77,314.73 224.77,315.2 225.77,315.51 226.76,315.72 227.76,315.85 228.76,315.93 229.75,315.97 230.75,316 231.75,316.01 232.74,316.02 233.74,316.03 234.73,316.03 235.73,316.03 236.73,316.03 237.72,316.03 238.72,316.03 239.71,316.03 240.71,316.03 241.71,316.03 242.7,316.03 243.7,316.03" fill="none" stroke="#1e9696" stroke-width="1.7" stroke-linejoin="round" clip-path="url(#cc)"/>
<polyline points="84.3,316.15 85.3,316.1 86.29,316.05 87.29,315.98 88.29,315.91 89.28,315.82 90.28,315.72 91.27,315.61 92.27,315.5 93.27,315.37 94.26,315.24 95.26,315.1 96.26,314.97 97.25,314.84 98.25,314.72 99.24,314.61 100.24,314.51 101.24,314.42 102.23,314.34 103.23,314.25 104.23,314.13 105.22,313.97 106.22,313.72 107.21,313.34 108.21,312.77 109.21,311.93 110.2,310.76 111.2,309.2 112.19,307.2 113.19,304.73 114.19,301.83 115.18,298.59 116.18,295.12 117.18,291.63 118.17,288.35 119.17,285.5 120.16,283.34 121.16,282.04 122.16,281.72 123.15,282.33 124.15,283.78 125.15,285.97 126.14,288.73 127.14,291.88 128.14,295.23 129.13,298.58 130.13,301.79 131.12,304.72 132.12,307.29 133.12,309.48 134.11,311.26 135.11,312.68 136.1,313.76 137.1,314.57 138.1,315.15 139.09,315.55 140.09,315.83 141.09,316.01 142.08,316.13 143.08,316.2 144.07,316.24 145.07,316.27 146.07,316.28 147.06,316.29 148.06,316.3 149.06,316.3 150.05,316.3 151.05,316.3 152.05,316.3 153.04,316.3 154.04,316.3 155.03,316.3 156.03,316.3 157.03,316.3 158.02,316.3 159.02,316.3 160.01,316.3 161.01,316.3 162.01,316.3 163,316.3 164,316.3 165,316.3 165.99,316.3 166.99,316.3 167.99,316.3 168.98,316.3 169.98,316.3 170.97,316.3 171.97,316.3 172.97,316.3 173.96,316.3 174.96,316.3 175.95,316.3 176.95,316.3 177.95,316.3 178.94,316.3 179.94,316.3 180.94,316.3 181.93,316.3 182.93,316.3 183.92,316.3 184.92,316.3 185.92,316.3 186.91,316.29 187.91,316.28 188.91,316.27 189.9,316.23 190.9,316.17 191.9,316.07 192.89,315.89 193.89,315.59 194.88,315.12 195.88,314.4 196.88,313.36 197.87,311.91 198.87,309.97 199.86,307.48 200.86,304.44 201.86,300.9 202.85,297 203.85,292.93 204.85,288.98 205.84,285.47 206.84,282.71 207.83,280.95 208.83,280.39 209.83,281 210.82,282.67 211.82,285.24 212.82,288.5 213.81,292.18 214.81,296.02 215.8,299.77 216.8,303.24 217.8,306.3 218.79,308.88 219.79,310.96 220.79,312.58 221.78,313.78 222.78,314.65 223.77,315.25 224.77,315.66 225.77,315.92 226.76,316.08 227.76,316.18 228.76,316.23 229.75,316.26 230.75,316.28 231.75,316.29 232.74,316.3 233.74,316.3 234.73,316.3 235.73,316.3 236.73,316.3 237.72,316.3 238.72,316.3 239.71,316.3 240.71,316.3 241.71,316.3 242.7,316.3 243.7,316.3" fill="none" stroke="#ff24ff" stroke-width="1.7" stroke-linejoin="round" clip-path="url(#cc)"/>
<polyline points="84.3,316.15 85.3,316.1 86.29,316.05 87.29,315.98 88.29,315.91 89.28,315.82 90.28,315.72 91.27,315.61 92.27,315.5 93.27,315.37 94.26,315.24 95.26,315.1 96.26,314.97 97.25,314.84 98.25,314.72 99.24,314.61 100.24,314.51 101.24,314.42 102.23,314.33 103.23,314.24 104.23,314.13 105.22,313.97 106.22,313.73 107.21,313.38 108.21,312.85 109.21,312.1 110.2,311.07 111.2,309.72 112.19,308.02 113.19,305.98 114.19,303.63 115.18,301.06 116.18,298.4 117.18,295.8 118.17,293.46 119.17,291.56 120.16,290.25 121.16,289.67 122.16,289.83 123.15,290.67 124.15,292.11 125.15,294.05 126.14,296.36 127.14,298.88 128.14,301.48 129.13,304.01 130.13,306.37 131.12,308.49 132.12,310.31 133.12,311.83 134.11,313.06 135.11,314.01 136.1,314.74 137.1,315.27 138.1,315.65 139.09,315.91 140.09,316.09 141.09,316.21 142.08,316.28 143.08,316.33 144.07,316.37 145.07,316.39 146.07,316.41 147.06,316.42 148.06,316.43 149.06,316.43 150.05,316.43 151.05,316.43 152.05,316.43 153.04,316.43 154.04,316.43 155.03,316.43 156.03,316.43 157.03,316.43 158.02,316.43 159.02,316.43 160.01,316.43 161.01,316.43 162.01,316.43 163,316.43 164,316.43 165,316.43 165.99,316.43 166.99,316.43 167.99,316.43 168.98,316.43 169.98,316.43 170.97,316.43 171.97,316.43 172.97,316.43 173.96,316.43 174.96,316.43 175.95,316.43 176.95,316.43 177.95,316.43 178.94,316.43 179.94,316.43 180.94,316.43 181.93,316.43 182.93,316.43 183.92,316.43 184.92,316.43 185.92,316.43 186.91,316.43 187.91,316.42 188.91,316.4 189.9,316.37 190.9,316.31 191.9,316.2 192.89,316.02 193.89,315.71 194.88,315.24 195.88,314.52 196.88,313.47 197.87,312 198.87,310.03 199.86,307.52 200.86,304.44 201.86,300.86 202.85,296.91 203.85,292.8 204.85,288.81 205.84,285.26 206.84,282.46 207.83,280.69 208.83,280.12 209.83,280.74 210.82,282.43 211.82,285.03 212.82,288.32 213.81,292.04 214.81,295.92 215.8,299.72 216.8,303.23 217.8,306.32 218.79,308.93 219.79,311.03 220.79,312.67 221.78,313.89 222.78,314.77 223.77,315.38 224.77,315.78 225.77,316.05 226.76,316.21 227.76,316.31 228.76,316.37 229.75,316.4 230.75,316.42 231.75,316.43 232.74,316.43 233.74,316.43 234.73,316.43 235.73,316.43 236.73,316.43 237.72,316.43 238.72,316.43 239.71,316.43 240.71,316.43 241.71,316.43 242.7,316.43 243.7,316.43" fill="none" stroke="#8c8c14" stroke-width="1.7" stroke-linejoin="round" clip-path="url(#cc)"/>
<rect x="84.3" y="242.4" width="159.4" height="80.9" fill="none" stroke="#000" stroke-width="1.3"/>
<line x1="86.9" y1="323.3" x2="86.9" y2="325.1" stroke="#000" stroke-width="1.2" />
<line x1="100.2" y1="323.3" x2="100.2" y2="326.1" stroke="#000" stroke-width="1.2" />
<text x="100.2" y="332" font-size="6.9" text-anchor="middle" fill="#000" stroke="#000" stroke-width="0.31" font-weight="bold" font-style="normal" >15.5</text>
<line x1="113.5" y1="323.3" x2="113.5" y2="325.1" stroke="#000" stroke-width="1.2" />
<line x1="126.8" y1="323.3" x2="126.8" y2="326.1" stroke="#000" stroke-width="1.2" />
<text x="126.8" y="332" font-size="6.9" text-anchor="middle" fill="#000" stroke="#000" stroke-width="0.31" font-weight="bold" font-style="normal" >16.0</text>
<line x1="140.1" y1="323.3" x2="140.1" y2="325.1" stroke="#000" stroke-width="1.2" />
<line x1="153.4" y1="323.3" x2="153.4" y2="326.1" stroke="#000" stroke-width="1.2" />
<text x="153.4" y="332" font-size="6.9" text-anchor="middle" fill="#000" stroke="#000" stroke-width="0.31" font-weight="bold" font-style="normal" >16.5</text>
<line x1="166.7" y1="323.3" x2="166.7" y2="325.1" stroke="#000" stroke-width="1.2" />
<line x1="180" y1="323.3" x2="180" y2="326.1" stroke="#000" stroke-width="1.2" />
<text x="180" y="332" font-size="6.9" text-anchor="middle" fill="#000" stroke="#000" stroke-width="0.31" font-weight="bold" font-style="normal" >17.0</text>
<line x1="193.3" y1="323.3" x2="193.3" y2="325.1" stroke="#000" stroke-width="1.2" />
<line x1="206.6" y1="323.3" x2="206.6" y2="326.1" stroke="#000" stroke-width="1.2" />
<text x="206.6" y="332" font-size="6.9" text-anchor="middle" fill="#000" stroke="#000" stroke-width="0.31" font-weight="bold" font-style="normal" >17.5</text>
<line x1="219.9" y1="323.3" x2="219.9" y2="325.1" stroke="#000" stroke-width="1.2" />
<line x1="233.2" y1="323.3" x2="233.2" y2="326.1" stroke="#000" stroke-width="1.2" />
<text x="233.2" y="332" font-size="6.9" text-anchor="middle" fill="#000" stroke="#000" stroke-width="0.31" font-weight="bold" font-style="normal" >18.0</text>
<line x1="82.8" y1="323.05" x2="84.3" y2="323.05" stroke="#000" stroke-width="1.2" />
<line x1="81.8" y1="316.3" x2="84.3" y2="316.3" stroke="#000" stroke-width="1.2" />
<text x="80.7" y="318.4" font-size="6.4" text-anchor="end" fill="#000" stroke="#000" stroke-width="0.29" font-weight="bold" font-style="normal" >0</text>
<line x1="82.8" y1="309.55" x2="84.3" y2="309.55" stroke="#000" stroke-width="1.2" />
<line x1="81.8" y1="302.8" x2="84.3" y2="302.8" stroke="#000" stroke-width="1.2" />
<text x="80.7" y="304.9" font-size="6.4" text-anchor="end" fill="#000" stroke="#000" stroke-width="0.29" font-weight="bold" font-style="normal" >200</text>
<line x1="82.8" y1="296.05" x2="84.3" y2="296.05" stroke="#000" stroke-width="1.2" />
<line x1="81.8" y1="289.3" x2="84.3" y2="289.3" stroke="#000" stroke-width="1.2" />
<text x="80.7" y="291.4" font-size="6.4" text-anchor="end" fill="#000" stroke="#000" stroke-width="0.29" font-weight="bold" font-style="normal" >400</text>
<line x1="82.8" y1="282.55" x2="84.3" y2="282.55" stroke="#000" stroke-width="1.2" />
<line x1="81.8" y1="275.8" x2="84.3" y2="275.8" stroke="#000" stroke-width="1.2" />
<text x="80.7" y="277.9" font-size="6.4" text-anchor="end" fill="#000" stroke="#000" stroke-width="0.29" font-weight="bold" font-style="normal" >600</text>
<line x1="82.8" y1="269.05" x2="84.3" y2="269.05" stroke="#000" stroke-width="1.2" />
<line x1="81.8" y1="262.3" x2="84.3" y2="262.3" stroke="#000" stroke-width="1.2" />
<text x="80.7" y="264.4" font-size="6.4" text-anchor="end" fill="#000" stroke="#000" stroke-width="0.29" font-weight="bold" font-style="normal" >800</text>
<line x1="82.8" y1="255.55" x2="84.3" y2="255.55" stroke="#000" stroke-width="1.2" />
<line x1="81.8" y1="248.8" x2="84.3" y2="248.8" stroke="#000" stroke-width="1.2" />
<text x="80.7" y="250.9" font-size="6.4" text-anchor="end" fill="#000" stroke="#000" stroke-width="0.29" font-weight="bold" font-style="normal" >1000</text>
<line x1="82.8" y1="242.05" x2="84.3" y2="242.05" stroke="#000" stroke-width="1.2" />
<text x="164.3" y="344" font-size="7.7" text-anchor="middle" fill="#000" stroke="#000" stroke-width="0.35" font-weight="bold" font-style="normal" >Time (min)</text>
<text transform="translate(64.61,278.2) rotate(-90)" font-size="7" text-anchor="middle" font-weight="bold" stroke="#000" stroke-width="0.45">OD</text>
<text x="123.5" y="254.8" font-size="8.2" text-anchor="middle" fill="#ff2020" stroke="#ff2020" stroke-width="0.37" font-weight="bold" font-style="normal" textLength="36.6" lengthAdjust="spacingAndGlyphs">Putrescine</text>
<text x="208.5" y="274.8" font-size="7.3" text-anchor="middle" fill="#2020ff" stroke="#2020ff" stroke-width="0.33" font-weight="bold" font-style="normal" textLength="36" lengthAdjust="spacingAndGlyphs">Cadaverine</text>
<rect x="366" y="240.6" width="157.9" height="85.8" fill="#fff" stroke="none"/>
<clipPath id="cd"><rect x="366" y="240.6" width="157.9" height="85.8"/></clipPath>
<polyline points="366,319.33 366.99,319.31 367.97,319.29 368.96,319.26 369.95,319.23 370.93,319.19 371.92,319.15 372.91,319.1 373.89,319.04 374.88,318.99 375.87,318.93 376.86,318.87 377.84,318.81 378.83,318.75 379.82,318.69 380.8,318.65 381.79,318.61 382.78,318.58 383.76,318.56 384.75,318.55 385.74,318.55 386.72,318.56 387.71,318.59 388.7,318.62 389.68,318.65 390.67,318.69 391.66,318.72 392.65,318.74 393.63,318.74 394.62,318.71 395.61,318.63 396.59,318.51 397.58,318.33 398.57,318.08 399.55,317.77 400.54,317.4 401.53,316.99 402.51,316.57 403.5,316.15 404.49,315.79 405.47,315.5 406.46,315.32 407.45,315.26 408.44,315.32 409.42,315.47 410.41,315.71 411.4,316.02 412.38,316.38 413.37,316.77 414.36,317.19 415.34,317.6 416.33,317.98 417.32,318.32 418.3,318.62 419.29,318.88 420.28,319.09 421.27,319.26 422.25,319.39 423.24,319.5 424.23,319.59 425.21,319.65 426.2,319.71 427.19,319.75 428.17,319.79 429.16,319.82 430.15,319.82 431.13,319.82 432.12,319.82 433.11,319.83 434.09,319.83 435.08,319.83 436.07,319.83 437.06,319.83 438.04,319.83 439.03,319.83 440.02,319.83 441,319.83 441.99,319.83 442.98,319.83 443.96,319.83 444.95,319.83 445.94,319.83 446.92,319.83 447.91,319.83 448.9,319.83 449.88,319.83 450.87,319.83 451.86,319.83 452.84,319.83 453.83,319.83 454.82,319.83 455.81,319.83 456.79,319.83 457.78,319.83 458.77,319.83 459.75,319.83 460.74,319.83 461.73,319.83 462.71,319.83 463.7,319.83 464.69,319.83 465.67,319.83 466.66,319.83 467.65,319.83 468.63,319.83 469.62,319.83 470.61,319.82 471.6,319.82 472.58,319.82 473.57,319.81 474.56,319.79 475.54,319.76 476.53,319.7 477.52,319.61 478.5,319.44 479.49,319.19 480.48,318.8 481.46,318.24 482.45,317.46 483.44,316.42 484.43,315.11 485.41,313.52 486.4,311.71 487.39,309.76 488.37,307.8 489.36,305.97 490.35,304.45 491.33,303.39 492.32,302.89 493.31,302.99 494.29,303.64 495.28,304.77 496.27,306.27 497.25,308.02 498.24,309.87 499.23,311.71 500.21,313.42 501.2,314.93 502.19,316.21 503.18,317.24 504.16,318.04 505.15,318.63 506.14,319.05 507.12,319.34 508.11,319.53 509.1,319.65 510.08,319.73 511.07,319.77 512.06,319.8 513.04,319.81 514.03,319.82 515.02,319.82 516,319.82 516.99,319.83 517.98,319.83 518.97,319.83 519.95,319.83 520.94,319.83 521.93,319.83 522.91,319.83 523.9,319.83" fill="none" stroke="#303030" stroke-width="1.7" stroke-linejoin="round" clip-path="url(#cd)"/>
<polyline points="366,319.25 366.99,319.2 367.97,319.15 368.96,319.08 369.95,319 370.93,318.91 371.92,318.81 372.91,318.69 373.89,318.57 374.88,318.43 375.87,318.29 376.86,318.15 377.84,318.01 378.83,317.88 379.82,317.75 380.8,317.63 381.79,317.53 382.78,317.45 383.76,317.37 384.75,317.29 385.74,317.2 386.72,317.06 387.71,316.84 388.7,316.47 389.68,315.88 390.67,314.96 391.66,313.62 392.65,311.74 393.63,309.22 394.62,306.01 395.61,302.09 396.59,297.54 397.58,292.53 398.57,287.32 399.55,282.24 400.54,277.69 401.53,274.05 402.51,271.66 403.5,270.75 404.49,271.25 405.47,272.91 406.46,275.59 407.45,279.13 408.44,283.28 409.42,287.8 410.41,292.42 411.4,296.93 412.38,301.14 413.37,304.93 414.36,308.21 415.34,310.95 416.33,313.18 417.32,314.94 418.3,316.27 419.29,317.26 420.28,317.97 421.27,318.47 422.25,318.81 423.24,319.04 424.23,319.18 425.21,319.27 426.2,319.33 427.19,319.36 428.17,319.38 429.16,319.39 430.15,319.39 431.13,319.4 432.12,319.4 433.11,319.4 434.09,319.4 435.08,319.4 436.07,319.4 437.06,319.4 438.04,319.4 439.03,319.4 440.02,319.4 441,319.4 441.99,319.4 442.98,319.4 443.96,319.4 444.95,319.4 445.94,319.4 446.92,319.4 447.91,319.4 448.9,319.4 449.88,319.4 450.87,319.4 451.86,319.4 452.84,319.4 453.83,319.4 454.82,319.4 455.81,319.4 456.79,319.4 457.78,319.4 458.77,319.4 459.75,319.4 460.74,319.4 461.73,319.4 462.71,319.4 463.7,319.4 464.69,319.4 465.67,319.4 466.66,319.4 467.65,319.4 468.63,319.39 469.62,319.39 470.61,319.38 471.6,319.35 472.58,319.31 473.57,319.23 474.56,319.09 475.54,318.87 476.53,318.52 477.52,318 478.5,317.24 479.49,316.2 480.48,314.82 481.46,313.1 482.45,311.04 483.44,308.71 484.43,306.23 485.41,303.77 486.4,301.51 487.39,299.68 488.37,298.46 489.36,297.96 490.35,298.22 491.33,299.16 492.32,300.68 493.31,302.65 494.29,304.89 495.28,307.24 496.27,309.54 497.25,311.67 498.24,313.53 499.23,315.09 500.21,316.34 501.2,317.29 502.19,318 503.18,318.5 504.16,318.84 505.15,319.06 506.14,319.2 507.12,319.29 508.11,319.34 509.1,319.37 510.08,319.38 511.07,319.39 512.06,319.4 513.04,319.4 514.03,319.4 515.02,319.4 516,319.4 516.99,319.4 517.98,319.4 518.97,319.4 519.95,319.4 520.94,319.4 521.93,319.4 522.91,319.4 523.9,319.4" fill="none" stroke="#ff2424" stroke-width="1.7" stroke-linejoin="round" clip-path="url(#cd)"/>
<polyline points="366,319.25 366.99,319.2 367.97,319.15 368.96,319.08 369.95,319 370.93,318.91 371.92,318.81 372.91,318.69 373.89,318.57 374.88,318.43 375.87,318.29 376.86,318.15 377.84,318.01 378.83,317.87 379.82,317.74 380.8,317.62 381.79,317.51 382.78,317.4 383.76,317.28 384.75,317.14 385.74,316.92 386.72,316.6 387.71,316.07 388.7,315.26 389.68,314.03 390.67,312.23 391.66,309.74 392.65,306.4 393.63,302.13 394.62,296.93 395.61,290.87 396.59,284.16 397.58,277.15 398.57,270.28 399.55,264.07 400.54,259.03 401.53,255.63 402.51,254.19 403.5,254.7 404.49,256.76 405.47,260.24 406.46,264.88 407.45,270.38 408.44,276.4 409.42,282.6 410.41,288.68 411.4,294.37 412.38,299.51 413.37,303.98 414.36,307.74 415.34,310.8 416.33,313.21 417.32,315.05 418.3,316.42 419.29,317.41 420.28,318.1 421.27,318.57 422.25,318.89 423.24,319.09 424.23,319.22 425.21,319.29 426.2,319.34 427.19,319.37 428.17,319.38 429.16,319.39 430.15,319.4 431.13,319.4 432.12,319.4 433.11,319.4 434.09,319.4 435.08,319.4 436.07,319.4 437.06,319.4 438.04,319.4 439.03,319.4 440.02,319.4 441,319.4 441.99,319.4 442.98,319.4 443.96,319.4 444.95,319.4 445.94,319.4 446.92,319.4 447.91,319.4 448.9,319.4 449.88,319.4 450.87,319.4 451.86,319.4 452.84,319.4 453.83,319.4 454.82,319.4 455.81,319.4 456.79,319.4 457.78,319.4 458.77,319.4 459.75,319.4 460.74,319.4 461.73,319.4 462.71,319.4 463.7,319.4 464.69,319.4 465.67,319.4 466.66,319.4 467.65,319.39 468.63,319.38 469.62,319.37 470.61,319.34 471.6,319.28 472.58,319.17 473.57,318.99 474.56,318.7 475.54,318.23 476.53,317.54 477.52,316.53 478.5,315.15 479.49,313.32 480.48,311.04 481.46,308.31 482.45,305.22 483.44,301.93 484.43,298.67 485.41,295.69 486.4,293.27 487.39,291.65 488.37,291.01 489.36,291.36 490.35,292.6 491.33,294.62 492.32,297.23 493.31,300.21 494.29,303.32 495.28,306.37 496.27,309.18 497.25,311.64 498.24,313.7 499.23,315.35 500.21,316.62 501.2,317.55 502.19,318.21 503.18,318.66 504.16,318.95 505.15,319.14 506.14,319.25 507.12,319.32 508.11,319.36 509.1,319.38 510.08,319.39 511.07,319.39 512.06,319.4 513.04,319.4 514.03,319.4 515.02,319.4 516,319.4 516.99,319.4 517.98,319.4 518.97,319.4 519.95,319.4 520.94,319.4 521.93,319.4 522.91,319.4 523.9,319.4" fill="none" stroke="#2424ff" stroke-width="1.7" stroke-linejoin="round" clip-path="url(#cd)"/>
<polyline points="366,319.25 366.99,319.2 367.97,319.15 368.96,319.08 369.95,319 370.93,318.91 371.92,318.81 372.91,318.69 373.89,318.57 374.88,318.43 375.87,318.3 376.86,318.15 377.84,318.01 378.83,317.88 379.82,317.75 380.8,317.64 381.79,317.55 382.78,317.47 383.76,317.42 384.75,317.4 385.74,317.39 386.72,317.4 387.71,317.42 388.7,317.42 389.68,317.38 390.67,317.26 391.66,317.01 392.65,316.58 393.63,315.87 394.62,314.82 395.61,313.33 396.59,311.33 397.58,308.79 398.57,305.72 399.55,302.17 400.54,298.31 401.53,294.33 402.51,290.5 403.5,287.14 404.49,284.52 405.47,282.89 406.46,282.41 407.45,282.96 408.44,284.37 409.42,286.54 410.41,289.33 411.4,292.56 412.38,296.02 413.37,299.53 414.36,302.92 415.34,306.05 416.33,308.85 417.32,311.25 418.3,313.26 419.29,314.87 420.28,316.12 421.27,317.07 422.25,317.77 423.24,318.26 424.23,318.6 425.21,318.83 426.2,318.97 427.19,319.06 428.17,319.11 429.16,319.14 430.15,319.16 431.13,319.17 432.12,319.18 433.11,319.18 434.09,319.18 435.08,319.19 436.07,319.19 437.06,319.19 438.04,319.19 439.03,319.19 440.02,319.19 441,319.19 441.99,319.19 442.98,319.19 443.96,319.19 444.95,319.19 445.94,319.19 446.92,319.19 447.91,319.19 448.9,319.19 449.88,319.19 450.87,319.19 451.86,319.19 452.84,319.19 453.83,319.19 454.82,319.19 455.81,319.19 456.79,319.19 457.78,319.19 458.77,319.19 459.75,319.19 460.74,319.19 461.73,319.19 462.71,319.19 463.7,319.19 464.69,319.19 465.67,319.19 466.66,319.19 467.65,319.19 468.63,319.18 469.62,319.18 470.61,319.17 471.6,319.15 472.58,319.11 473.57,319.05 474.56,318.93 475.54,318.73 476.53,318.42 477.52,317.93 478.5,317.21 479.49,316.19 480.48,314.8 481.46,313 482.45,310.78 483.44,308.18 484.43,305.3 485.41,302.31 486.4,299.42 487.39,296.88 488.37,294.93 489.36,293.76 490.35,293.51 491.33,294.12 492.32,295.52 493.31,297.55 494.29,300.06 495.28,302.82 496.27,305.64 497.25,308.33 498.24,310.77 499.23,312.87 500.21,314.61 501.2,315.97 502.19,317 503.18,317.75 504.16,318.27 505.15,318.62 506.14,318.85 507.12,318.99 508.11,319.08 509.1,319.13 510.08,319.16 511.07,319.17 512.06,319.18 513.04,319.18 514.03,319.19 515.02,319.19 516,319.19 516.99,319.19 517.98,319.19 518.97,319.19 519.95,319.19 520.94,319.19 521.93,319.19 522.91,319.19 523.9,319.19" fill="none" stroke="#1e9696" stroke-width="1.7" stroke-linejoin="round" clip-path="url(#cd)"/>
<polyline points="366,319.25 366.99,319.2 367.97,319.15 368.96,319.08 369.95,319 370.93,318.91 371.92,318.81 372.91,318.69 373.89,318.57 374.88,318.43 375.87,318.29 376.86,318.15 377.84,318.01 378.83,317.88 379.82,317.75 380.8,317.63 381.79,317.54 382.78,317.45 383.76,317.39 384.75,317.33 385.74,317.26 386.72,317.18 387.71,317.04 388.7,316.82 389.68,316.45 390.67,315.88 391.66,315.05 392.65,313.89 393.63,312.34 394.62,310.38 395.61,308.03 396.59,305.33 397.58,302.41 398.57,299.44 399.55,296.63 400.54,294.2 401.53,292.37 402.51,291.32 403.5,291.14 404.49,291.7 405.47,292.91 406.46,294.68 407.45,296.89 408.44,299.39 409.42,302.06 410.41,304.73 411.4,307.3 412.38,309.65 413.37,311.75 414.36,313.53 415.34,315.02 416.33,316.2 417.32,317.12 418.3,317.82 419.29,318.33 420.28,318.69 421.27,318.94 422.25,319.11 423.24,319.22 424.23,319.29 425.21,319.34 426.2,319.37 427.19,319.38 428.17,319.39 429.16,319.39 430.15,319.4 431.13,319.4 432.12,319.4 433.11,319.4 434.09,319.4 435.08,319.4 436.07,319.4 437.06,319.4 438.04,319.4 439.03,319.4 440.02,319.4 441,319.4 441.99,319.4 442.98,319.4 443.96,319.4 444.95,319.4 445.94,319.4 446.92,319.4 447.91,319.4 448.9,319.4 449.88,319.4 450.87,319.4 451.86,319.4 452.84,319.4 453.83,319.4 454.82,319.4 455.81,319.4 456.79,319.4 457.78,319.4 458.77,319.4 459.75,319.4 460.74,319.4 461.73,319.4 462.71,319.4 463.7,319.4 464.69,319.4 465.67,319.4 466.66,319.4 467.65,319.4 468.63,319.39 469.62,319.39 470.61,319.37 471.6,319.34 472.58,319.29 473.57,319.19 474.56,319.02 475.54,318.74 476.53,318.29 477.52,317.6 478.5,316.59 479.49,315.16 480.48,313.25 481.46,310.8 482.45,307.81 483.44,304.34 484.43,300.55 485.41,296.67 486.4,292.99 487.39,289.82 488.37,287.49 489.36,286.22 490.35,286.14 491.33,287.16 492.32,289.16 493.31,291.96 494.29,295.31 495.28,298.93 496.27,302.57 497.25,306.01 498.24,309.09 499.23,311.72 500.21,313.87 501.2,315.54 502.19,316.8 503.18,317.7 504.16,318.33 505.15,318.74 506.14,319.01 507.12,319.18 508.11,319.28 509.1,319.33 510.08,319.37 511.07,319.38 512.06,319.39 513.04,319.4 514.03,319.4 515.02,319.4 516,319.4 516.99,319.4 517.98,319.4 518.97,319.4 519.95,319.4 520.94,319.4 521.93,319.4 522.91,319.4 523.9,319.4" fill="none" stroke="#ff24ff" stroke-width="1.7" stroke-linejoin="round" clip-path="url(#cd)"/>
<polyline points="366,319.25 366.99,319.2 367.97,319.15 368.96,319.08 369.95,319 370.93,318.91 371.92,318.81 372.91,318.69 373.89,318.57 374.88,318.43 375.87,318.29 376.86,318.15 377.84,318.01 378.83,317.88 379.82,317.75 380.8,317.63 381.79,317.54 382.78,317.45 383.76,317.39 384.75,317.33 385.74,317.28 386.72,317.21 387.71,317.1 388.7,316.92 389.68,316.64 390.67,316.21 391.66,315.58 392.65,314.71 393.63,313.58 394.62,312.18 395.61,310.52 396.59,308.67 397.58,306.73 398.57,304.81 399.55,303.08 400.54,301.69 401.53,300.75 402.51,300.38 403.5,300.56 404.49,301.19 405.47,302.22 406.46,303.58 407.45,305.18 408.44,306.93 409.42,308.73 410.41,310.5 411.4,312.15 412.38,313.64 413.37,314.94 414.36,316.02 415.34,316.91 416.33,317.61 417.32,318.14 418.3,318.54 419.29,318.82 420.28,319.02 421.27,319.16 422.25,319.25 423.24,319.31 424.23,319.35 425.21,319.37 426.2,319.38 427.19,319.39 428.17,319.39 429.16,319.4 430.15,319.4 431.13,319.4 432.12,319.4 433.11,319.4 434.09,319.4 435.08,319.4 436.07,319.4 437.06,319.4 438.04,319.4 439.03,319.4 440.02,319.4 441,319.4 441.99,319.4 442.98,319.4 443.96,319.4 444.95,319.4 445.94,319.4 446.92,319.4 447.91,319.4 448.9,319.4 449.88,319.4 450.87,319.4 451.86,319.4 452.84,319.4 453.83,319.4 454.82,319.4 455.81,319.4 456.79,319.4 457.78,319.4 458.77,319.4 459.75,319.4 460.74,319.4 461.73,319.4 462.71,319.4 463.7,319.4 464.69,319.4 465.67,319.4 466.66,319.4 467.65,319.39 468.63,319.39 469.62,319.37 470.61,319.35 471.6,319.3 472.58,319.21 473.57,319.05 474.56,318.8 475.54,318.38 476.53,317.75 477.52,316.82 478.5,315.51 479.49,313.76 480.48,311.51 481.46,308.77 482.45,305.6 483.44,302.13 484.43,298.58 485.41,295.21 486.4,292.32 487.39,290.19 488.37,289.04 489.36,288.97 490.35,289.92 491.33,291.75 492.32,294.32 493.31,297.38 494.29,300.69 495.28,304.02 496.27,307.17 497.25,309.99 498.24,312.39 499.23,314.35 500.21,315.88 501.2,317.02 502.19,317.85 503.18,318.42 504.16,318.8 505.15,319.05 506.14,319.2 507.12,319.29 508.11,319.34 509.1,319.37 510.08,319.38 511.07,319.39 512.06,319.4 513.04,319.4 514.03,319.4 515.02,319.4 516,319.4 516.99,319.4 517.98,319.4 518.97,319.4 519.95,319.4 520.94,319.4 521.93,319.4 522.91,319.4 523.9,319.4" fill="none" stroke="#8c8c14" stroke-width="1.7" stroke-linejoin="round" clip-path="url(#cd)"/>
<rect x="366" y="240.6" width="157.9" height="85.8" fill="none" stroke="#000" stroke-width="1.3"/>
<line x1="368.73" y1="326.4" x2="368.73" y2="328.2" stroke="#000" stroke-width="1.2" />
<line x1="381.8" y1="326.4" x2="381.8" y2="329.2" stroke="#000" stroke-width="1.2" />
<text x="381.8" y="335.1" font-size="6.9" text-anchor="middle" fill="#000" stroke="#000" stroke-width="0.31" font-weight="bold" font-style="normal" >15.5</text>
<line x1="394.88" y1="326.4" x2="394.88" y2="328.2" stroke="#000" stroke-width="1.2" />
<line x1="407.95" y1="326.4" x2="407.95" y2="329.2" stroke="#000" stroke-width="1.2" />
<text x="407.95" y="335.1" font-size="6.9" text-anchor="middle" fill="#000" stroke="#000" stroke-width="0.31" font-weight="bold" font-style="normal" >16.0</text>
<line x1="421.02" y1="326.4" x2="421.02" y2="328.2" stroke="#000" stroke-width="1.2" />
<line x1="434.1" y1="326.4" x2="434.1" y2="329.2" stroke="#000" stroke-width="1.2" />
<text x="434.1" y="335.1" font-size="6.9" text-anchor="middle" fill="#000" stroke="#000" stroke-width="0.31" font-weight="bold" font-style="normal" >16.5</text>
<line x1="447.18" y1="326.4" x2="447.18" y2="328.2" stroke="#000" stroke-width="1.2" />
<line x1="460.25" y1="326.4" x2="460.25" y2="329.2" stroke="#000" stroke-width="1.2" />
<text x="460.25" y="335.1" font-size="6.9" text-anchor="middle" fill="#000" stroke="#000" stroke-width="0.31" font-weight="bold" font-style="normal" >17.0</text>
<line x1="473.32" y1="326.4" x2="473.32" y2="328.2" stroke="#000" stroke-width="1.2" />
<line x1="486.4" y1="326.4" x2="486.4" y2="329.2" stroke="#000" stroke-width="1.2" />
<text x="486.4" y="335.1" font-size="6.9" text-anchor="middle" fill="#000" stroke="#000" stroke-width="0.31" font-weight="bold" font-style="normal" >17.5</text>
<line x1="499.48" y1="326.4" x2="499.48" y2="328.2" stroke="#000" stroke-width="1.2" />
<line x1="512.55" y1="326.4" x2="512.55" y2="329.2" stroke="#000" stroke-width="1.2" />
<text x="512.55" y="335.1" font-size="6.9" text-anchor="middle" fill="#000" stroke="#000" stroke-width="0.31" font-weight="bold" font-style="normal" >18.0</text>
<line x1="363.5" y1="319.4" x2="366" y2="319.4" stroke="#000" stroke-width="1.2" />
<text x="362.4" y="321.5" font-size="6.4" text-anchor="end" fill="#000" stroke="#000" stroke-width="0.29" font-weight="bold" font-style="normal" >0</text>
<line x1="364.5" y1="312.3" x2="366" y2="312.3" stroke="#000" stroke-width="1.2" />
<line x1="363.5" y1="305.2" x2="366" y2="305.2" stroke="#000" stroke-width="1.2" />
<text x="362.4" y="307.3" font-size="6.4" text-anchor="end" fill="#000" stroke="#000" stroke-width="0.29" font-weight="bold" font-style="normal" >200</text>
<line x1="364.5" y1="298.1" x2="366" y2="298.1" stroke="#000" stroke-width="1.2" />
<line x1="363.5" y1="291" x2="366" y2="291" stroke="#000" stroke-width="1.2" />
<text x="362.4" y="293.1" font-size="6.4" text-anchor="end" fill="#000" stroke="#000" stroke-width="0.29" font-weight="bold" font-style="normal" >400</text>
<line x1="364.5" y1="283.9" x2="366" y2="283.9" stroke="#000" stroke-width="1.2" />
<line x1="363.5" y1="276.8" x2="366" y2="276.8" stroke="#000" stroke-width="1.2" />
<text x="362.4" y="278.9" font-size="6.4" text-anchor="end" fill="#000" stroke="#000" stroke-width="0.29" font-weight="bold" font-style="normal" >600</text>
<line x1="364.5" y1="269.7" x2="366" y2="269.7" stroke="#000" stroke-width="1.2" />
<line x1="363.5" y1="262.6" x2="366" y2="262.6" stroke="#000" stroke-width="1.2" />
<text x="362.4" y="264.7" font-size="6.4" text-anchor="end" fill="#000" stroke="#000" stroke-width="0.29" font-weight="bold" font-style="normal" >800</text>
<line x1="364.5" y1="255.5" x2="366" y2="255.5" stroke="#000" stroke-width="1.2" />
<line x1="363.5" y1="248.4" x2="366" y2="248.4" stroke="#000" stroke-width="1.2" />
<text x="362.4" y="250.5" font-size="6.4" text-anchor="end" fill="#000" stroke="#000" stroke-width="0.29" font-weight="bold" font-style="normal" >1000</text>
<line x1="364.5" y1="241.3" x2="366" y2="241.3" stroke="#000" stroke-width="1.2" />
<text x="445" y="346" font-size="7.7" text-anchor="middle" fill="#000" stroke="#000" stroke-width="0.35" font-weight="bold" font-style="normal" >Time (min)</text>
<text transform="translate(346.61,281.5) rotate(-90)" font-size="7" text-anchor="middle" font-weight="bold" stroke="#000" stroke-width="0.45">OD</text>
<text x="405" y="249.7" font-size="7.4" text-anchor="middle" fill="#ff2020" stroke="#ff2020" stroke-width="0.33" font-weight="bold" font-style="normal" textLength="34" lengthAdjust="spacingAndGlyphs">Putrescine</text>
<text x="492.2" y="278.8" font-size="7.3" text-anchor="middle" fill="#2020ff" stroke="#2020ff" stroke-width="0.33" font-weight="bold" font-style="normal" textLength="36" lengthAdjust="spacingAndGlyphs">Cadaverine</text>
</svg>
</body></html>
